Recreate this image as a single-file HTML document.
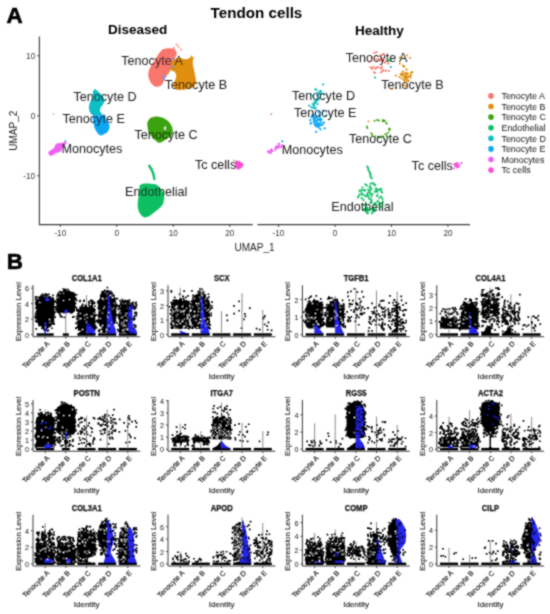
<!DOCTYPE html><html><head><meta charset="utf-8"><style>html,body{margin:0;padding:0;background:#fff;overflow:hidden;}svg{display:block;}text{font-family:'Liberation Sans', Arial, Helvetica, sans-serif;}</style></head><body>
<svg width="550" height="614" viewBox="0 0 550 614">
<rect width="550" height="614" fill="#fff"/>
<defs><filter id="soft" x="0" y="0" width="550" height="614" filterUnits="userSpaceOnUse"><feConvolveMatrix order="3" kernelMatrix="1 2 1 2 8 2 1 2 1" divisor="20" edgeMode="duplicate"/></filter></defs><g filter="url(#soft)">
<text x="6.5" y="22.9" font-size="22.4" font-weight="bold" fill="#000" text-anchor="start" stroke="#000" stroke-width="0.6">A</text>
<text x="210.6" y="18.4" font-size="15.2" font-weight="bold" fill="#000" text-anchor="start">Tendon cells</text>
<text x="108" y="34.4" font-size="13.5" font-weight="bold" fill="#000" text-anchor="start">Diseased</text>
<text x="355" y="35" font-size="13.5" font-weight="bold" fill="#000" text-anchor="start">Healthy</text>
<path d="M39.4 36.4V224.6H252.7" fill="none" stroke="#3a3a3a" stroke-width="1.1"/>
<path d="M257.5 224.6H470" fill="none" stroke="#3a3a3a" stroke-width="1.1"/>
<path d="M60.3 224.6v2.2" stroke="#3a3a3a" stroke-width="1"/>
<text x="60.3" y="236.2" font-size="8.2" font-weight="normal" fill="#3a3a3a" text-anchor="middle">-10</text>
<path d="M116.8 224.6v2.2" stroke="#3a3a3a" stroke-width="1"/>
<text x="116.8" y="236.2" font-size="8.2" font-weight="normal" fill="#3a3a3a" text-anchor="middle">0</text>
<path d="M173.3 224.6v2.2" stroke="#3a3a3a" stroke-width="1"/>
<text x="173.3" y="236.2" font-size="8.2" font-weight="normal" fill="#3a3a3a" text-anchor="middle">10</text>
<path d="M229.8 224.6v2.2" stroke="#3a3a3a" stroke-width="1"/>
<text x="229.8" y="236.2" font-size="8.2" font-weight="normal" fill="#3a3a3a" text-anchor="middle">20</text>
<path d="M278.5 224.6v2.2" stroke="#3a3a3a" stroke-width="1"/>
<text x="278.5" y="236.2" font-size="8.2" font-weight="normal" fill="#3a3a3a" text-anchor="middle">-10</text>
<path d="M335 224.6v2.2" stroke="#3a3a3a" stroke-width="1"/>
<text x="335" y="236.2" font-size="8.2" font-weight="normal" fill="#3a3a3a" text-anchor="middle">0</text>
<path d="M391.5 224.6v2.2" stroke="#3a3a3a" stroke-width="1"/>
<text x="391.5" y="236.2" font-size="8.2" font-weight="normal" fill="#3a3a3a" text-anchor="middle">10</text>
<path d="M448 224.6v2.2" stroke="#3a3a3a" stroke-width="1"/>
<text x="448" y="236.2" font-size="8.2" font-weight="normal" fill="#3a3a3a" text-anchor="middle">20</text>
<path d="M39.4 55.8h-2.2" stroke="#3a3a3a" stroke-width="1"/>
<text x="35.2" y="58.7" font-size="8.2" font-weight="normal" fill="#3a3a3a" text-anchor="end">10</text>
<path d="M39.4 115.8h-2.2" stroke="#3a3a3a" stroke-width="1"/>
<text x="35.2" y="118.7" font-size="8.2" font-weight="normal" fill="#3a3a3a" text-anchor="end">0</text>
<path d="M39.4 175.8h-2.2" stroke="#3a3a3a" stroke-width="1"/>
<text x="35.2" y="178.7" font-size="8.2" font-weight="normal" fill="#3a3a3a" text-anchor="end">-10</text>
<text x="254.5" y="250.6" font-size="10" font-weight="normal" fill="#222" text-anchor="middle">UMAP_1</text>
<text x="0" y="0" font-size="10" font-weight="normal" fill="#222" text-anchor="middle" transform="translate(17.4 130.7) rotate(-90)">UMAP_2</text>
<path d="M162 50 C163.2 49.1 164.7 48.9 166 48.6 C167.3 48.3 168.7 48.1 170 48.2 C171.3 48.3 172.9 48.5 174 49 C175.1 49.5 175.9 50.5 176.3 51.5 C176.7 52.5 176.9 53.6 176.5 55 C176.1 56.4 174.7 58.3 174 60 C173.3 61.7 173.2 63.2 172.5 65 C171.8 66.8 171 69.2 170 71 C169 72.8 167.5 74.3 166.5 76 C165.5 77.7 164.8 79.5 164 81 C163.2 82.5 162.5 84 161.5 85 C160.5 86 159.2 86.6 158 86.8 C156.8 87 155.2 86.8 154 86 C152.8 85.2 151.4 83.5 150.5 82 C149.6 80.5 148.8 78.7 148.5 77 C148.2 75.3 148.1 73.8 148.5 72 C148.9 70.2 149.9 68 151 66 C152.1 64 153.8 62 155 60 C156.2 58 157.3 55.7 158.5 54 C159.7 52.3 160.8 50.9 162 50Z" fill="#F8766D"/>
<path d="M175.6 44.5a0.9 0.9 0 1 0 1.8 0a0.9 0.9 0 1 0 -1.8 0M173.1 48a0.9 0.9 0 1 0 1.8 0a0.9 0.9 0 1 0 -1.8 0M180.1 49.5a0.9 0.9 0 1 0 1.8 0a0.9 0.9 0 1 0 -1.8 0M177.6 46.5a0.9 0.9 0 1 0 1.8 0a0.9 0.9 0 1 0 -1.8 0" fill="#F8766D"/>
<path d="M174 59.5 L178 58.5 L182 59 L186 60 L189 59 L191.5 57.5 L192.5 59 L192 63 L193 68 L194 73 L195 78 L195.5 82 L194 86 L190 88 L185 89 L179 89.5 L175 88.5 L174 84 L176 80 L177 75 L175 71 L172 69 L171 65 L172.5 62Z" fill="#E08E0B" stroke="#E08E0B" stroke-width="1.2" stroke-linejoin="round"/>
<path d="M170.6 69a0.9 0.9 0 1 0 1.8 0a0.9 0.9 0 1 0 -1.8 0M171.9 70.5a0.9 0.9 0 1 0 1.8 0a0.9 0.9 0 1 0 -1.8 0M192.1 58a0.9 0.9 0 1 0 1.8 0a0.9 0.9 0 1 0 -1.8 0M190.6 56.5a0.9 0.9 0 1 0 1.8 0a0.9 0.9 0 1 0 -1.8 0" fill="#E08E0B"/>
<path d="M172.1 59a0.9 0.9 0 1 0 1.8 0a0.9 0.9 0 1 0 -1.8 0M172.6 66.5a0.9 0.9 0 1 0 1.8 0a0.9 0.9 0 1 0 -1.8 0M162.6 75.5a0.9 0.9 0 1 0 1.8 0a0.9 0.9 0 1 0 -1.8 0M162.8 77.2a0.9 0.9 0 1 0 1.8 0a0.9 0.9 0 1 0 -1.8 0M163.1 79a0.9 0.9 0 1 0 1.8 0a0.9 0.9 0 1 0 -1.8 0" fill="#0AA6F5"/>
<path d="M167.2 73a0.8 0.8 0 1 0 1.6 0a0.8 0.8 0 1 0 -1.6 0M168.7 71.5a0.8 0.8 0 1 0 1.6 0a0.8 0.8 0 1 0 -1.6 0" fill="#E08E0B"/>
<path d="M170.2 69a0.8 0.8 0 1 0 1.6 0a0.8 0.8 0 1 0 -1.6 0" fill="#3BA30A"/>
<path d="M94.2 89.5 C94.8 89.1 95.9 89.7 96.7 90.2 C97.5 90.7 98.4 91.9 99.3 92.7 C100.2 93.5 101.5 94.2 102.3 95.3 C103.1 96.4 104 98 104.3 99.3 C104.5 100.6 104.3 102 103.8 103.3 C103.2 104.6 101.7 105.8 101 107 C100.3 108.2 99.8 109.3 99.9 110.5 C100 111.7 102.1 113.6 101.8 114.4 C101.5 115.2 99.4 115.4 98 115.6 C96.6 115.8 94.8 116 93.5 115.6 C92.2 115.2 91.1 114.1 90.4 113.1 C89.7 112 89.3 110.6 89.1 109.3 C88.9 108 88.9 106.8 89.1 105.5 C89.3 104.2 89.9 102.9 90.4 101.6 C90.9 100.3 91.9 99.3 92.3 97.8 C92.7 96.3 92.6 94.1 92.9 92.7 C93.2 91.3 93.6 89.9 94.2 89.5Z" fill="#11BEC4"/>
<path d="M93.5 115.2 C94.3 114.5 96.6 115.7 98 115.6 C99.4 115.5 100.7 114.4 101.8 114.4 C102.9 114.4 103.6 114.5 104.4 115.6 C105.2 116.6 106.1 119 106.9 120.7 C107.8 122.4 109.3 124.1 109.5 125.8 C109.7 127.5 109 129.5 108.2 130.9 C107.4 132.3 105.7 133.3 104.4 134.1 C103.1 134.8 101.7 135.6 100.5 135.4 C99.3 135.2 98.4 134 97.4 132.8 C96.5 131.6 95.5 130 94.8 128.4 C94.1 126.8 93.8 124.8 93.5 123.3 C93.2 121.8 92.9 120.8 92.9 119.5 C92.9 118.2 92.7 115.9 93.5 115.2Z" fill="#0AA6F5"/>
<path d="M151.8 117.3 C153.2 116.8 155.5 116.3 157.3 116.4 C159.1 116.5 161 117 162.7 117.7 C164.4 118.4 166.1 119.6 167.3 120.5 C168.5 121.4 169.2 122 170 123.2 C170.8 124.4 171.9 126.2 172.3 127.7 C172.8 129.2 172.9 130.9 172.7 132.3 C172.5 133.7 171.8 134.9 170.9 135.9 C170 136.9 168.7 137.7 167.3 138.6 C165.9 139.5 164.1 140.7 162.7 141.4 C161.3 142.1 160.3 142.8 159.1 142.7 C157.9 142.5 156.7 141.5 155.5 140.5 C154.3 139.5 153 138.2 151.8 136.8 C150.7 135.4 149.3 133.8 148.6 132.3 C147.9 130.8 147.9 129.2 147.7 127.7 C147.5 126.2 147.1 124.6 147.3 123.2 C147.5 121.8 148.3 120.5 149.1 119.5 C149.8 118.5 150.4 117.8 151.8 117.3Z" fill="#3BA30A"/>
<path d="M164.5 126.5 L166 126.8 L165.6 130 L164.2 129.6Z" fill="#fff"/>
<path d="M151.5 117.6a0.7 0.7 0 1 0 1.4 0a0.7 0.7 0 1 0 -1.4 0" fill="#F8766D"/>
<path d="M140.5 184.7 C141.6 183.9 144.1 183.6 146.2 183.5 C148.3 183.4 151.4 183.9 153.1 184.1 C154.8 184.3 155.2 183.8 156.5 184.7 C157.8 185.5 159.9 187.5 161.1 189.2 C162.3 190.9 163.4 193 163.9 194.9 C164.4 196.8 164.2 198.9 163.9 200.6 C163.6 202.3 163.2 203.7 162.2 205.2 C161.1 206.7 159.1 208.5 157.6 209.8 C156.1 211.1 154.6 212.1 153.1 213.2 C151.6 214.3 150 215.9 148.5 216.6 C147 217.3 145.3 217.6 144 217.2 C142.7 216.8 141.4 215.5 140.5 214.3 C139.6 213.1 138.8 211.5 138.3 209.8 C137.8 208.1 137.7 205.9 137.7 204 C137.7 202.1 138.1 200.2 138.3 198.3 C138.5 196.4 138.6 194.3 138.8 192.6 C139 190.9 139.1 189.4 139.4 188.1 C139.7 186.8 139.4 185.5 140.5 184.7Z" fill="#0DBF62"/>
<path d="M149.2 165.8Q153.6 171.5 154.3 179" fill="none" stroke="#0DBF62" stroke-width="2.4" stroke-linecap="round"/>
<path d="M235.3 160.9 C235.9 160.2 237.9 160.5 239.1 160.9 C240.3 161.3 241.7 162.4 242.4 163.1 C243.1 163.8 243.7 164.5 243.5 165.3 C243.3 166.1 242.1 167.3 241.3 168 C240.5 168.7 239.3 169.5 238.5 169.6 C237.7 169.7 236.9 169.2 236.4 168.5 C235.9 167.8 235.5 166.6 235.3 165.3 C235.1 164 234.7 161.6 235.3 160.9Z" fill="#FB4FD3"/>
<path d="M233 160.5a0.8 0.8 0 1 0 1.6 0a0.8 0.8 0 1 0 -1.6 0" fill="#0DBF62"/>
<path d="M48.3 152.3 C48.4 151.7 49 151.4 49.6 151 C50.2 150.6 50.8 150.2 51.6 149.7 C52.4 149.1 53.6 148.4 54.2 147.7 C54.8 146.9 54.8 145.9 55.2 145.2 C55.6 144.5 56 143.9 56.7 143.6 C57.4 143.2 58.4 143.2 59.3 143.1 C60.1 143 61 143.1 61.8 142.9 C62.6 142.7 63.3 142.4 63.9 142.1 C64.5 141.8 65 141.2 65.4 141.1 C65.8 141 66.2 141.3 66.4 141.6 C66.6 141.9 66.6 142.6 66.4 143.1 C66.2 143.6 65.7 144.2 65.4 144.7 C65.1 145.2 64.9 145.6 64.4 146.2 C63.9 146.8 62.9 147.3 62.3 148.2 C61.7 149 61.3 150.6 60.8 151.3 C60.3 152 60 152.1 59.3 152.3 C58.6 152.6 57.4 152.6 56.7 152.8 C56 153 55.8 153.2 55.2 153.6 C54.6 154 53.9 154.7 53.2 155.1 C52.5 155.5 51.8 155.9 51.1 155.9 C50.4 155.9 49.6 155.4 49.1 154.8 C48.6 154.2 48.2 152.9 48.3 152.3Z" fill="#EE60F2"/>
<path d="M64.2 147.7a0.7 0.7 0 1 0 1.4 0a0.7 0.7 0 1 0 -1.4 0" fill="#0DBF62"/>
<path d="M64.5 140.9a0.9 0.9 0 1 0 1.8 0a0.9 0.9 0 1 0 -1.8 0" fill="#11BEC4"/>
<path d="M52.6 114a0.8 0.8 0 1 0 1.6 0a0.8 0.8 0 1 0 -1.6 0" fill="#EE60F2"/>
<path d="M370.6 57.7a1.1 1.1 0 1 0 2.2 0a1.1 1.1 0 1 0 -2.2 0M375.4 52a1.1 1.1 0 1 0 2.2 0a1.1 1.1 0 1 0 -2.2 0M377.6 59.7a1.1 1.1 0 1 0 2.2 0a1.1 1.1 0 1 0 -2.2 0M371 68.7a1.1 1.1 0 1 0 2.2 0a1.1 1.1 0 1 0 -2.2 0M369.5 67.3a1.1 1.1 0 1 0 2.2 0a1.1 1.1 0 1 0 -2.2 0M382.3 71a1.1 1.1 0 1 0 2.2 0a1.1 1.1 0 1 0 -2.2 0M368 61.7a1.1 1.1 0 1 0 2.2 0a1.1 1.1 0 1 0 -2.2 0M387.8 71a1.1 1.1 0 1 0 2.2 0a1.1 1.1 0 1 0 -2.2 0M378.8 59.8a1.1 1.1 0 1 0 2.2 0a1.1 1.1 0 1 0 -2.2 0M382.3 54a1.1 1.1 0 1 0 2.2 0a1.1 1.1 0 1 0 -2.2 0M380.1 72.2a1.1 1.1 0 1 0 2.2 0a1.1 1.1 0 1 0 -2.2 0M374.3 68.7a1.1 1.1 0 1 0 2.2 0a1.1 1.1 0 1 0 -2.2 0M379.5 58.5a1.1 1.1 0 1 0 2.2 0a1.1 1.1 0 1 0 -2.2 0M373.3 53a1.1 1.1 0 1 0 2.2 0a1.1 1.1 0 1 0 -2.2 0M381.1 59.2a1.1 1.1 0 1 0 2.2 0a1.1 1.1 0 1 0 -2.2 0M376.8 67.1a1.1 1.1 0 1 0 2.2 0a1.1 1.1 0 1 0 -2.2 0M375.1 59.3a1.1 1.1 0 1 0 2.2 0a1.1 1.1 0 1 0 -2.2 0M387.2 63.6a1.1 1.1 0 1 0 2.2 0a1.1 1.1 0 1 0 -2.2 0M375.3 67.8a1.1 1.1 0 1 0 2.2 0a1.1 1.1 0 1 0 -2.2 0M384.9 70.7a1.1 1.1 0 1 0 2.2 0a1.1 1.1 0 1 0 -2.2 0M380 55.6a1.1 1.1 0 1 0 2.2 0a1.1 1.1 0 1 0 -2.2 0M381.2 69.5a1.1 1.1 0 1 0 2.2 0a1.1 1.1 0 1 0 -2.2 0M372.4 67.1a1.1 1.1 0 1 0 2.2 0a1.1 1.1 0 1 0 -2.2 0M373 72.3a1.1 1.1 0 1 0 2.2 0a1.1 1.1 0 1 0 -2.2 0M384.8 61.3a1.1 1.1 0 1 0 2.2 0a1.1 1.1 0 1 0 -2.2 0M383 54.3a1.1 1.1 0 1 0 2.2 0a1.1 1.1 0 1 0 -2.2 0M383.8 62.6a1.1 1.1 0 1 0 2.2 0a1.1 1.1 0 1 0 -2.2 0M379.7 61.1a1.1 1.1 0 1 0 2.2 0a1.1 1.1 0 1 0 -2.2 0M380.8 66.8a1.1 1.1 0 1 0 2.2 0a1.1 1.1 0 1 0 -2.2 0M373.9 72.8a1.1 1.1 0 1 0 2.2 0a1.1 1.1 0 1 0 -2.2 0M381.6 54.4a1.1 1.1 0 1 0 2.2 0a1.1 1.1 0 1 0 -2.2 0M379.3 68a1.1 1.1 0 1 0 2.2 0a1.1 1.1 0 1 0 -2.2 0" fill="#F8766D"/>
<path d="M406.7 73.7a1.1 1.1 0 1 0 2.2 0a1.1 1.1 0 1 0 -2.2 0M405.2 76.8a1.1 1.1 0 1 0 2.2 0a1.1 1.1 0 1 0 -2.2 0M409.8 75.2a1.1 1.1 0 1 0 2.2 0a1.1 1.1 0 1 0 -2.2 0M406.4 76.9a1.1 1.1 0 1 0 2.2 0a1.1 1.1 0 1 0 -2.2 0M403.1 85a1.1 1.1 0 1 0 2.2 0a1.1 1.1 0 1 0 -2.2 0M407.6 76a1.1 1.1 0 1 0 2.2 0a1.1 1.1 0 1 0 -2.2 0M394.9 75.5a1.1 1.1 0 1 0 2.2 0a1.1 1.1 0 1 0 -2.2 0M398.7 63.6a1.1 1.1 0 1 0 2.2 0a1.1 1.1 0 1 0 -2.2 0M406.1 80.8a1.1 1.1 0 1 0 2.2 0a1.1 1.1 0 1 0 -2.2 0M405 86.2a1.1 1.1 0 1 0 2.2 0a1.1 1.1 0 1 0 -2.2 0M403.9 73.1a1.1 1.1 0 1 0 2.2 0a1.1 1.1 0 1 0 -2.2 0M406.2 77.8a1.1 1.1 0 1 0 2.2 0a1.1 1.1 0 1 0 -2.2 0M407.5 80.9a1.1 1.1 0 1 0 2.2 0a1.1 1.1 0 1 0 -2.2 0M399.5 74.1a1.1 1.1 0 1 0 2.2 0a1.1 1.1 0 1 0 -2.2 0M406 73.1a1.1 1.1 0 1 0 2.2 0a1.1 1.1 0 1 0 -2.2 0M403.8 81.8a1.1 1.1 0 1 0 2.2 0a1.1 1.1 0 1 0 -2.2 0M405.5 69.7a1.1 1.1 0 1 0 2.2 0a1.1 1.1 0 1 0 -2.2 0M398.4 77a1.1 1.1 0 1 0 2.2 0a1.1 1.1 0 1 0 -2.2 0M401.4 73.7a1.1 1.1 0 1 0 2.2 0a1.1 1.1 0 1 0 -2.2 0M403.2 66.7a1.1 1.1 0 1 0 2.2 0a1.1 1.1 0 1 0 -2.2 0M401.9 65.7a1.1 1.1 0 1 0 2.2 0a1.1 1.1 0 1 0 -2.2 0M402.9 79.9a1.1 1.1 0 1 0 2.2 0a1.1 1.1 0 1 0 -2.2 0M409.3 77.4a1.1 1.1 0 1 0 2.2 0a1.1 1.1 0 1 0 -2.2 0M404.4 75.1a1.1 1.1 0 1 0 2.2 0a1.1 1.1 0 1 0 -2.2 0M405.5 77.8a1.1 1.1 0 1 0 2.2 0a1.1 1.1 0 1 0 -2.2 0M403.4 76.8a1.1 1.1 0 1 0 2.2 0a1.1 1.1 0 1 0 -2.2 0M404.6 73.9a1.1 1.1 0 1 0 2.2 0a1.1 1.1 0 1 0 -2.2 0M407.2 76.5a1.1 1.1 0 1 0 2.2 0a1.1 1.1 0 1 0 -2.2 0M409.9 72.8a1.1 1.1 0 1 0 2.2 0a1.1 1.1 0 1 0 -2.2 0M400.3 73.8a1.1 1.1 0 1 0 2.2 0a1.1 1.1 0 1 0 -2.2 0M406.3 80a1.1 1.1 0 1 0 2.2 0a1.1 1.1 0 1 0 -2.2 0M403.3 77.7a1.1 1.1 0 1 0 2.2 0a1.1 1.1 0 1 0 -2.2 0M398.8 57.6a1.1 1.1 0 1 0 2.2 0a1.1 1.1 0 1 0 -2.2 0M400.5 78.5a1.1 1.1 0 1 0 2.2 0a1.1 1.1 0 1 0 -2.2 0M404.9 75.5a1.1 1.1 0 1 0 2.2 0a1.1 1.1 0 1 0 -2.2 0M404.1 79.4a1.1 1.1 0 1 0 2.2 0a1.1 1.1 0 1 0 -2.2 0M401.8 71.6a1.1 1.1 0 1 0 2.2 0a1.1 1.1 0 1 0 -2.2 0M411.2 72.1a1.1 1.1 0 1 0 2.2 0a1.1 1.1 0 1 0 -2.2 0M400.9 75.6a1.1 1.1 0 1 0 2.2 0a1.1 1.1 0 1 0 -2.2 0M402 75.1a1.1 1.1 0 1 0 2.2 0a1.1 1.1 0 1 0 -2.2 0" fill="#E08E0B"/>
<path d="M408.9 58a1.1 1.1 0 1 0 2.2 0a1.1 1.1 0 1 0 -2.2 0M405.9 55.5a1.1 1.1 0 1 0 2.2 0a1.1 1.1 0 1 0 -2.2 0M394.9 88a1.1 1.1 0 1 0 2.2 0a1.1 1.1 0 1 0 -2.2 0M390.9 89a1.1 1.1 0 1 0 2.2 0a1.1 1.1 0 1 0 -2.2 0" fill="#E08E0B"/>
<path d="M387.9 60a1.1 1.1 0 1 0 2.2 0a1.1 1.1 0 1 0 -2.2 0M389.9 61a1.1 1.1 0 1 0 2.2 0a1.1 1.1 0 1 0 -2.2 0" fill="#0DBF62"/>
<path d="M389.7 67a1.1 1.1 0 1 0 2.2 0a1.1 1.1 0 1 0 -2.2 0" fill="#0AA6F5"/>
<path d="M373.9 77.5a1.1 1.1 0 1 0 2.2 0a1.1 1.1 0 1 0 -2.2 0" fill="#0DBF62"/>
<path d="M309.8 94.4a1.1 1.1 0 1 0 2.2 0a1.1 1.1 0 1 0 -2.2 0M319.2 93a1.1 1.1 0 1 0 2.2 0a1.1 1.1 0 1 0 -2.2 0M313.1 104.4a1.1 1.1 0 1 0 2.2 0a1.1 1.1 0 1 0 -2.2 0M314.1 108.1a1.1 1.1 0 1 0 2.2 0a1.1 1.1 0 1 0 -2.2 0M311.8 95.8a1.1 1.1 0 1 0 2.2 0a1.1 1.1 0 1 0 -2.2 0M313 102.3a1.1 1.1 0 1 0 2.2 0a1.1 1.1 0 1 0 -2.2 0M322.1 84.4a1.1 1.1 0 1 0 2.2 0a1.1 1.1 0 1 0 -2.2 0M319.9 91.4a1.1 1.1 0 1 0 2.2 0a1.1 1.1 0 1 0 -2.2 0M319 90.9a1.1 1.1 0 1 0 2.2 0a1.1 1.1 0 1 0 -2.2 0M313.2 106a1.1 1.1 0 1 0 2.2 0a1.1 1.1 0 1 0 -2.2 0M314.2 100a1.1 1.1 0 1 0 2.2 0a1.1 1.1 0 1 0 -2.2 0M316.4 100.4a1.1 1.1 0 1 0 2.2 0a1.1 1.1 0 1 0 -2.2 0M312 107.7a1.1 1.1 0 1 0 2.2 0a1.1 1.1 0 1 0 -2.2 0M317.7 98a1.1 1.1 0 1 0 2.2 0a1.1 1.1 0 1 0 -2.2 0M323 94.3a1.1 1.1 0 1 0 2.2 0a1.1 1.1 0 1 0 -2.2 0M317.4 98.1a1.1 1.1 0 1 0 2.2 0a1.1 1.1 0 1 0 -2.2 0M313.9 103.1a1.1 1.1 0 1 0 2.2 0a1.1 1.1 0 1 0 -2.2 0M314.3 102.8a1.1 1.1 0 1 0 2.2 0a1.1 1.1 0 1 0 -2.2 0M314.2 89.3a1.1 1.1 0 1 0 2.2 0a1.1 1.1 0 1 0 -2.2 0M318 93.9a1.1 1.1 0 1 0 2.2 0a1.1 1.1 0 1 0 -2.2 0M315.3 89.9a1.1 1.1 0 1 0 2.2 0a1.1 1.1 0 1 0 -2.2 0M316.4 104.1a1.1 1.1 0 1 0 2.2 0a1.1 1.1 0 1 0 -2.2 0M319.8 94.6a1.1 1.1 0 1 0 2.2 0a1.1 1.1 0 1 0 -2.2 0M316.9 92.5a1.1 1.1 0 1 0 2.2 0a1.1 1.1 0 1 0 -2.2 0M313.8 108.6a1.1 1.1 0 1 0 2.2 0a1.1 1.1 0 1 0 -2.2 0M310.2 107.3a1.1 1.1 0 1 0 2.2 0a1.1 1.1 0 1 0 -2.2 0M317.4 98.7a1.1 1.1 0 1 0 2.2 0a1.1 1.1 0 1 0 -2.2 0M308.1 105.7a1.1 1.1 0 1 0 2.2 0a1.1 1.1 0 1 0 -2.2 0M315.8 95.5a1.1 1.1 0 1 0 2.2 0a1.1 1.1 0 1 0 -2.2 0M315.1 101.6a1.1 1.1 0 1 0 2.2 0a1.1 1.1 0 1 0 -2.2 0M320 94.2a1.1 1.1 0 1 0 2.2 0a1.1 1.1 0 1 0 -2.2 0M314.8 108.3a1.1 1.1 0 1 0 2.2 0a1.1 1.1 0 1 0 -2.2 0M318.4 99a1.1 1.1 0 1 0 2.2 0a1.1 1.1 0 1 0 -2.2 0M311.5 104.3a1.1 1.1 0 1 0 2.2 0a1.1 1.1 0 1 0 -2.2 0M314.9 99.8a1.1 1.1 0 1 0 2.2 0a1.1 1.1 0 1 0 -2.2 0M318.5 98.5a1.1 1.1 0 1 0 2.2 0a1.1 1.1 0 1 0 -2.2 0" fill="#11BEC4"/>
<path d="M310.4 117.2a1.1 1.1 0 1 0 2.2 0a1.1 1.1 0 1 0 -2.2 0M310.1 122.8a1.1 1.1 0 1 0 2.2 0a1.1 1.1 0 1 0 -2.2 0M318.7 118.7a1.1 1.1 0 1 0 2.2 0a1.1 1.1 0 1 0 -2.2 0M315.8 124.6a1.1 1.1 0 1 0 2.2 0a1.1 1.1 0 1 0 -2.2 0M315.4 126.8a1.1 1.1 0 1 0 2.2 0a1.1 1.1 0 1 0 -2.2 0M315.3 125.4a1.1 1.1 0 1 0 2.2 0a1.1 1.1 0 1 0 -2.2 0M319.3 129.3a1.1 1.1 0 1 0 2.2 0a1.1 1.1 0 1 0 -2.2 0M313.7 124.1a1.1 1.1 0 1 0 2.2 0a1.1 1.1 0 1 0 -2.2 0M312.6 114.6a1.1 1.1 0 1 0 2.2 0a1.1 1.1 0 1 0 -2.2 0M309.5 123.7a1.1 1.1 0 1 0 2.2 0a1.1 1.1 0 1 0 -2.2 0M313.2 119.8a1.1 1.1 0 1 0 2.2 0a1.1 1.1 0 1 0 -2.2 0M316.4 120.7a1.1 1.1 0 1 0 2.2 0a1.1 1.1 0 1 0 -2.2 0M314.8 121.4a1.1 1.1 0 1 0 2.2 0a1.1 1.1 0 1 0 -2.2 0M322.3 122.9a1.1 1.1 0 1 0 2.2 0a1.1 1.1 0 1 0 -2.2 0M317.2 125.8a1.1 1.1 0 1 0 2.2 0a1.1 1.1 0 1 0 -2.2 0M318 115.4a1.1 1.1 0 1 0 2.2 0a1.1 1.1 0 1 0 -2.2 0M313.8 125.1a1.1 1.1 0 1 0 2.2 0a1.1 1.1 0 1 0 -2.2 0M312.7 116.9a1.1 1.1 0 1 0 2.2 0a1.1 1.1 0 1 0 -2.2 0M318.9 125.4a1.1 1.1 0 1 0 2.2 0a1.1 1.1 0 1 0 -2.2 0M315.9 124.5a1.1 1.1 0 1 0 2.2 0a1.1 1.1 0 1 0 -2.2 0M319 116.1a1.1 1.1 0 1 0 2.2 0a1.1 1.1 0 1 0 -2.2 0M313 116.8a1.1 1.1 0 1 0 2.2 0a1.1 1.1 0 1 0 -2.2 0M320.5 119.4a1.1 1.1 0 1 0 2.2 0a1.1 1.1 0 1 0 -2.2 0M315.2 116.8a1.1 1.1 0 1 0 2.2 0a1.1 1.1 0 1 0 -2.2 0M312.4 119a1.1 1.1 0 1 0 2.2 0a1.1 1.1 0 1 0 -2.2 0M312.8 121.4a1.1 1.1 0 1 0 2.2 0a1.1 1.1 0 1 0 -2.2 0M309.2 120.2a1.1 1.1 0 1 0 2.2 0a1.1 1.1 0 1 0 -2.2 0M317.5 112a1.1 1.1 0 1 0 2.2 0a1.1 1.1 0 1 0 -2.2 0M319.5 120.5a1.1 1.1 0 1 0 2.2 0a1.1 1.1 0 1 0 -2.2 0M311.2 115.1a1.1 1.1 0 1 0 2.2 0a1.1 1.1 0 1 0 -2.2 0M318.4 119.3a1.1 1.1 0 1 0 2.2 0a1.1 1.1 0 1 0 -2.2 0M318.3 125a1.1 1.1 0 1 0 2.2 0a1.1 1.1 0 1 0 -2.2 0M318.5 123a1.1 1.1 0 1 0 2.2 0a1.1 1.1 0 1 0 -2.2 0M320.1 125.1a1.1 1.1 0 1 0 2.2 0a1.1 1.1 0 1 0 -2.2 0M321.1 112.5a1.1 1.1 0 1 0 2.2 0a1.1 1.1 0 1 0 -2.2 0M317.9 127.5a1.1 1.1 0 1 0 2.2 0a1.1 1.1 0 1 0 -2.2 0M316.6 118.7a1.1 1.1 0 1 0 2.2 0a1.1 1.1 0 1 0 -2.2 0M325.2 115.3a1.1 1.1 0 1 0 2.2 0a1.1 1.1 0 1 0 -2.2 0M315.1 131.9a1.1 1.1 0 1 0 2.2 0a1.1 1.1 0 1 0 -2.2 0M313.1 123.1a1.1 1.1 0 1 0 2.2 0a1.1 1.1 0 1 0 -2.2 0M322.8 122.3a1.1 1.1 0 1 0 2.2 0a1.1 1.1 0 1 0 -2.2 0M317.4 125.4a1.1 1.1 0 1 0 2.2 0a1.1 1.1 0 1 0 -2.2 0M314.2 119.8a1.1 1.1 0 1 0 2.2 0a1.1 1.1 0 1 0 -2.2 0M316.7 124.8a1.1 1.1 0 1 0 2.2 0a1.1 1.1 0 1 0 -2.2 0M317.1 120.1a1.1 1.1 0 1 0 2.2 0a1.1 1.1 0 1 0 -2.2 0M314.3 118.5a1.1 1.1 0 1 0 2.2 0a1.1 1.1 0 1 0 -2.2 0M319.5 122.3a1.1 1.1 0 1 0 2.2 0a1.1 1.1 0 1 0 -2.2 0M315.4 116.6a1.1 1.1 0 1 0 2.2 0a1.1 1.1 0 1 0 -2.2 0M323.5 128.4a1.1 1.1 0 1 0 2.2 0a1.1 1.1 0 1 0 -2.2 0M322.3 110.5a1.1 1.1 0 1 0 2.2 0a1.1 1.1 0 1 0 -2.2 0M318.2 123.7a1.1 1.1 0 1 0 2.2 0a1.1 1.1 0 1 0 -2.2 0M321.5 124.4a1.1 1.1 0 1 0 2.2 0a1.1 1.1 0 1 0 -2.2 0M316 123.2a1.1 1.1 0 1 0 2.2 0a1.1 1.1 0 1 0 -2.2 0M309.6 123.6a1.1 1.1 0 1 0 2.2 0a1.1 1.1 0 1 0 -2.2 0M318.8 118.3a1.1 1.1 0 1 0 2.2 0a1.1 1.1 0 1 0 -2.2 0" fill="#0AA6F5"/>
<path d="M269.1 151a1.1 1.1 0 1 0 2.2 0a1.1 1.1 0 1 0 -2.2 0M276 147.6a1.1 1.1 0 1 0 2.2 0a1.1 1.1 0 1 0 -2.2 0M275.2 147.7a1.1 1.1 0 1 0 2.2 0a1.1 1.1 0 1 0 -2.2 0M277.8 143.7a1.1 1.1 0 1 0 2.2 0a1.1 1.1 0 1 0 -2.2 0M267.3 152a1.1 1.1 0 1 0 2.2 0a1.1 1.1 0 1 0 -2.2 0M277.1 146.4a1.1 1.1 0 1 0 2.2 0a1.1 1.1 0 1 0 -2.2 0M274.4 148.1a1.1 1.1 0 1 0 2.2 0a1.1 1.1 0 1 0 -2.2 0M267 151.8a1.1 1.1 0 1 0 2.2 0a1.1 1.1 0 1 0 -2.2 0M267.6 152.5a1.1 1.1 0 1 0 2.2 0a1.1 1.1 0 1 0 -2.2 0M268.4 152.4a1.1 1.1 0 1 0 2.2 0a1.1 1.1 0 1 0 -2.2 0M276.2 148.4a1.1 1.1 0 1 0 2.2 0a1.1 1.1 0 1 0 -2.2 0M268.3 151.8a1.1 1.1 0 1 0 2.2 0a1.1 1.1 0 1 0 -2.2 0M271 151.2a1.1 1.1 0 1 0 2.2 0a1.1 1.1 0 1 0 -2.2 0M274 150a1.1 1.1 0 1 0 2.2 0a1.1 1.1 0 1 0 -2.2 0M280.4 147a1.1 1.1 0 1 0 2.2 0a1.1 1.1 0 1 0 -2.2 0M270.1 149.6a1.1 1.1 0 1 0 2.2 0a1.1 1.1 0 1 0 -2.2 0M269.9 149.8a1.1 1.1 0 1 0 2.2 0a1.1 1.1 0 1 0 -2.2 0M278.6 147.2a1.1 1.1 0 1 0 2.2 0a1.1 1.1 0 1 0 -2.2 0M275.1 146.3a1.1 1.1 0 1 0 2.2 0a1.1 1.1 0 1 0 -2.2 0M271.3 150.4a1.1 1.1 0 1 0 2.2 0a1.1 1.1 0 1 0 -2.2 0M266.8 151.4a1.1 1.1 0 1 0 2.2 0a1.1 1.1 0 1 0 -2.2 0M269.8 153a1.1 1.1 0 1 0 2.2 0a1.1 1.1 0 1 0 -2.2 0M277.7 145.1a1.1 1.1 0 1 0 2.2 0a1.1 1.1 0 1 0 -2.2 0M269 152.5a1.1 1.1 0 1 0 2.2 0a1.1 1.1 0 1 0 -2.2 0M267.4 152.1a1.1 1.1 0 1 0 2.2 0a1.1 1.1 0 1 0 -2.2 0M280.6 145a1.1 1.1 0 1 0 2.2 0a1.1 1.1 0 1 0 -2.2 0" fill="#EE60F2"/>
<path d="M281.2 141.3a1.1 1.1 0 1 0 2.2 0a1.1 1.1 0 1 0 -2.2 0" fill="#0AA6F5"/>
<path d="M270.4 114.2a0.9 0.9 0 1 0 1.8 0a0.9 0.9 0 1 0 -1.8 0" fill="#EE60F2"/>
<path d="M378.4 137.4a1 1 0 1 0 2 0a1 1 0 1 0 -2 0M371.3 134.9a1 1 0 1 0 2 0a1 1 0 1 0 -2 0M388.3 128.4a1 1 0 1 0 2 0a1 1 0 1 0 -2 0M366.3 128.1a1 1 0 1 0 2 0a1 1 0 1 0 -2 0M381.3 136.3a1 1 0 1 0 2 0a1 1 0 1 0 -2 0M377 136.8a1 1 0 1 0 2 0a1 1 0 1 0 -2 0M387.1 132.8a1 1 0 1 0 2 0a1 1 0 1 0 -2 0M389 129.5a1 1 0 1 0 2 0a1 1 0 1 0 -2 0M374.3 136.4a1 1 0 1 0 2 0a1 1 0 1 0 -2 0M366 126.6a1 1 0 1 0 2 0a1 1 0 1 0 -2 0M378 120.4a1 1 0 1 0 2 0a1 1 0 1 0 -2 0M385.1 123.1a1 1 0 1 0 2 0a1 1 0 1 0 -2 0M370.4 133.2a1 1 0 1 0 2 0a1 1 0 1 0 -2 0M385.8 136.6a1 1 0 1 0 2 0a1 1 0 1 0 -2 0M376.2 120a1 1 0 1 0 2 0a1 1 0 1 0 -2 0M383.5 121.1a1 1 0 1 0 2 0a1 1 0 1 0 -2 0M385.8 123.4a1 1 0 1 0 2 0a1 1 0 1 0 -2 0M381.8 121.2a1 1 0 1 0 2 0a1 1 0 1 0 -2 0M384.4 134.2a1 1 0 1 0 2 0a1 1 0 1 0 -2 0M383.5 121.1a1 1 0 1 0 2 0a1 1 0 1 0 -2 0M381.9 119.9a1 1 0 1 0 2 0a1 1 0 1 0 -2 0M385.8 123.5a1 1 0 1 0 2 0a1 1 0 1 0 -2 0M373.6 120.7a1 1 0 1 0 2 0a1 1 0 1 0 -2 0M388.2 129.9a1 1 0 1 0 2 0a1 1 0 1 0 -2 0M385.2 134.5a1 1 0 1 0 2 0a1 1 0 1 0 -2 0M383.8 120.8a1 1 0 1 0 2 0a1 1 0 1 0 -2 0" fill="#3BA30A"/>
<path d="M367.6 121.5a0.9 0.9 0 1 0 1.8 0a0.9 0.9 0 1 0 -1.8 0" fill="#E08E0B"/>
<path d="M366.2 166.5a1.1 1.1 0 1 0 2.2 0a1.1 1.1 0 1 0 -2.2 0M366.9 167.8a1.1 1.1 0 1 0 2.2 0a1.1 1.1 0 1 0 -2.2 0M367.2 169.2a1.1 1.1 0 1 0 2.2 0a1.1 1.1 0 1 0 -2.2 0M367.6 170.5a1.1 1.1 0 1 0 2.2 0a1.1 1.1 0 1 0 -2.2 0M368.4 171.8a1.1 1.1 0 1 0 2.2 0a1.1 1.1 0 1 0 -2.2 0M368.9 173.2a1.1 1.1 0 1 0 2.2 0a1.1 1.1 0 1 0 -2.2 0M369.6 174.5a1.1 1.1 0 1 0 2.2 0a1.1 1.1 0 1 0 -2.2 0M369.2 175.8a1.1 1.1 0 1 0 2.2 0a1.1 1.1 0 1 0 -2.2 0M369.8 177.2a1.1 1.1 0 1 0 2.2 0a1.1 1.1 0 1 0 -2.2 0M370.7 178.5a1.1 1.1 0 1 0 2.2 0a1.1 1.1 0 1 0 -2.2 0" fill="#0DBF62"/>
<path d="M374 184.9a1.1 1.1 0 1 0 2.2 0a1.1 1.1 0 1 0 -2.2 0M376.1 190.3a1.1 1.1 0 1 0 2.2 0a1.1 1.1 0 1 0 -2.2 0M358.8 190.7a1.1 1.1 0 1 0 2.2 0a1.1 1.1 0 1 0 -2.2 0M375.9 189a1.1 1.1 0 1 0 2.2 0a1.1 1.1 0 1 0 -2.2 0M369.7 194.1a1.1 1.1 0 1 0 2.2 0a1.1 1.1 0 1 0 -2.2 0M369.4 202.8a1.1 1.1 0 1 0 2.2 0a1.1 1.1 0 1 0 -2.2 0M376.8 200.9a1.1 1.1 0 1 0 2.2 0a1.1 1.1 0 1 0 -2.2 0M373.6 185.2a1.1 1.1 0 1 0 2.2 0a1.1 1.1 0 1 0 -2.2 0M360.7 190.4a1.1 1.1 0 1 0 2.2 0a1.1 1.1 0 1 0 -2.2 0M376.2 191.8a1.1 1.1 0 1 0 2.2 0a1.1 1.1 0 1 0 -2.2 0M371.7 183.4a1.1 1.1 0 1 0 2.2 0a1.1 1.1 0 1 0 -2.2 0M358.5 190.8a1.1 1.1 0 1 0 2.2 0a1.1 1.1 0 1 0 -2.2 0M374.4 203.1a1.1 1.1 0 1 0 2.2 0a1.1 1.1 0 1 0 -2.2 0M374.5 191.4a1.1 1.1 0 1 0 2.2 0a1.1 1.1 0 1 0 -2.2 0M370.3 196.5a1.1 1.1 0 1 0 2.2 0a1.1 1.1 0 1 0 -2.2 0M369 186.4a1.1 1.1 0 1 0 2.2 0a1.1 1.1 0 1 0 -2.2 0M380.1 188.8a1.1 1.1 0 1 0 2.2 0a1.1 1.1 0 1 0 -2.2 0M357.4 196.3a1.1 1.1 0 1 0 2.2 0a1.1 1.1 0 1 0 -2.2 0M368.6 190.8a1.1 1.1 0 1 0 2.2 0a1.1 1.1 0 1 0 -2.2 0M362.4 199.9a1.1 1.1 0 1 0 2.2 0a1.1 1.1 0 1 0 -2.2 0M360.6 198.2a1.1 1.1 0 1 0 2.2 0a1.1 1.1 0 1 0 -2.2 0M378.2 197.8a1.1 1.1 0 1 0 2.2 0a1.1 1.1 0 1 0 -2.2 0M380 203.4a1.1 1.1 0 1 0 2.2 0a1.1 1.1 0 1 0 -2.2 0M362.9 209a1.1 1.1 0 1 0 2.2 0a1.1 1.1 0 1 0 -2.2 0M369.5 183.7a1.1 1.1 0 1 0 2.2 0a1.1 1.1 0 1 0 -2.2 0M357 197.3a1.1 1.1 0 1 0 2.2 0a1.1 1.1 0 1 0 -2.2 0M368.6 191.8a1.1 1.1 0 1 0 2.2 0a1.1 1.1 0 1 0 -2.2 0M360.6 193a1.1 1.1 0 1 0 2.2 0a1.1 1.1 0 1 0 -2.2 0M365.1 207.4a1.1 1.1 0 1 0 2.2 0a1.1 1.1 0 1 0 -2.2 0M381 203.7a1.1 1.1 0 1 0 2.2 0a1.1 1.1 0 1 0 -2.2 0M380.3 191.4a1.1 1.1 0 1 0 2.2 0a1.1 1.1 0 1 0 -2.2 0M366.6 194.4a1.1 1.1 0 1 0 2.2 0a1.1 1.1 0 1 0 -2.2 0M366.3 195.4a1.1 1.1 0 1 0 2.2 0a1.1 1.1 0 1 0 -2.2 0M364.3 210.1a1.1 1.1 0 1 0 2.2 0a1.1 1.1 0 1 0 -2.2 0M363.4 190.7a1.1 1.1 0 1 0 2.2 0a1.1 1.1 0 1 0 -2.2 0M370.2 188.5a1.1 1.1 0 1 0 2.2 0a1.1 1.1 0 1 0 -2.2 0M366.6 210.7a1.1 1.1 0 1 0 2.2 0a1.1 1.1 0 1 0 -2.2 0M379.9 206.5a1.1 1.1 0 1 0 2.2 0a1.1 1.1 0 1 0 -2.2 0M373.3 209.5a1.1 1.1 0 1 0 2.2 0a1.1 1.1 0 1 0 -2.2 0M381.4 198.9a1.1 1.1 0 1 0 2.2 0a1.1 1.1 0 1 0 -2.2 0M375.9 196.1a1.1 1.1 0 1 0 2.2 0a1.1 1.1 0 1 0 -2.2 0M376.5 201.7a1.1 1.1 0 1 0 2.2 0a1.1 1.1 0 1 0 -2.2 0M364.3 184.4a1.1 1.1 0 1 0 2.2 0a1.1 1.1 0 1 0 -2.2 0M369.2 193a1.1 1.1 0 1 0 2.2 0a1.1 1.1 0 1 0 -2.2 0M364.6 204.4a1.1 1.1 0 1 0 2.2 0a1.1 1.1 0 1 0 -2.2 0M374 191.7a1.1 1.1 0 1 0 2.2 0a1.1 1.1 0 1 0 -2.2 0M371.4 194.4a1.1 1.1 0 1 0 2.2 0a1.1 1.1 0 1 0 -2.2 0M361.3 187.7a1.1 1.1 0 1 0 2.2 0a1.1 1.1 0 1 0 -2.2 0M369.8 189.4a1.1 1.1 0 1 0 2.2 0a1.1 1.1 0 1 0 -2.2 0M368.6 187a1.1 1.1 0 1 0 2.2 0a1.1 1.1 0 1 0 -2.2 0M365.8 185.6a1.1 1.1 0 1 0 2.2 0a1.1 1.1 0 1 0 -2.2 0M363.1 190.5a1.1 1.1 0 1 0 2.2 0a1.1 1.1 0 1 0 -2.2 0M371.7 208.7a1.1 1.1 0 1 0 2.2 0a1.1 1.1 0 1 0 -2.2 0M376.4 195a1.1 1.1 0 1 0 2.2 0a1.1 1.1 0 1 0 -2.2 0M367.7 198.2a1.1 1.1 0 1 0 2.2 0a1.1 1.1 0 1 0 -2.2 0M366.7 192.8a1.1 1.1 0 1 0 2.2 0a1.1 1.1 0 1 0 -2.2 0M358.5 191a1.1 1.1 0 1 0 2.2 0a1.1 1.1 0 1 0 -2.2 0M370 201.3a1.1 1.1 0 1 0 2.2 0a1.1 1.1 0 1 0 -2.2 0M379.3 189.3a1.1 1.1 0 1 0 2.2 0a1.1 1.1 0 1 0 -2.2 0M363.9 190.2a1.1 1.1 0 1 0 2.2 0a1.1 1.1 0 1 0 -2.2 0M367.3 195.9a1.1 1.1 0 1 0 2.2 0a1.1 1.1 0 1 0 -2.2 0M380.2 196.7a1.1 1.1 0 1 0 2.2 0a1.1 1.1 0 1 0 -2.2 0M367.1 209.9a1.1 1.1 0 1 0 2.2 0a1.1 1.1 0 1 0 -2.2 0M378.4 207.8a1.1 1.1 0 1 0 2.2 0a1.1 1.1 0 1 0 -2.2 0M370.5 202.8a1.1 1.1 0 1 0 2.2 0a1.1 1.1 0 1 0 -2.2 0M381.4 203.9a1.1 1.1 0 1 0 2.2 0a1.1 1.1 0 1 0 -2.2 0M373.7 205.2a1.1 1.1 0 1 0 2.2 0a1.1 1.1 0 1 0 -2.2 0M368.8 199a1.1 1.1 0 1 0 2.2 0a1.1 1.1 0 1 0 -2.2 0M362.9 209.7a1.1 1.1 0 1 0 2.2 0a1.1 1.1 0 1 0 -2.2 0M373.7 191.8a1.1 1.1 0 1 0 2.2 0a1.1 1.1 0 1 0 -2.2 0M360.2 190.3a1.1 1.1 0 1 0 2.2 0a1.1 1.1 0 1 0 -2.2 0M373.4 203.3a1.1 1.1 0 1 0 2.2 0a1.1 1.1 0 1 0 -2.2 0M370.5 199.9a1.1 1.1 0 1 0 2.2 0a1.1 1.1 0 1 0 -2.2 0M367 189.5a1.1 1.1 0 1 0 2.2 0a1.1 1.1 0 1 0 -2.2 0M372.5 183.3a1.1 1.1 0 1 0 2.2 0a1.1 1.1 0 1 0 -2.2 0M364.7 196.4a1.1 1.1 0 1 0 2.2 0a1.1 1.1 0 1 0 -2.2 0M381.8 201.7a1.1 1.1 0 1 0 2.2 0a1.1 1.1 0 1 0 -2.2 0M379.9 196.8a1.1 1.1 0 1 0 2.2 0a1.1 1.1 0 1 0 -2.2 0M363 190.2a1.1 1.1 0 1 0 2.2 0a1.1 1.1 0 1 0 -2.2 0M369.9 202.6a1.1 1.1 0 1 0 2.2 0a1.1 1.1 0 1 0 -2.2 0M367.8 190.5a1.1 1.1 0 1 0 2.2 0a1.1 1.1 0 1 0 -2.2 0M374.3 209.8a1.1 1.1 0 1 0 2.2 0a1.1 1.1 0 1 0 -2.2 0M365.7 195.2a1.1 1.1 0 1 0 2.2 0a1.1 1.1 0 1 0 -2.2 0M374.6 188.7a1.1 1.1 0 1 0 2.2 0a1.1 1.1 0 1 0 -2.2 0M377.6 204.4a1.1 1.1 0 1 0 2.2 0a1.1 1.1 0 1 0 -2.2 0M370 189a1.1 1.1 0 1 0 2.2 0a1.1 1.1 0 1 0 -2.2 0M378.2 189.7a1.1 1.1 0 1 0 2.2 0a1.1 1.1 0 1 0 -2.2 0M362.7 205.1a1.1 1.1 0 1 0 2.2 0a1.1 1.1 0 1 0 -2.2 0M364.6 210.6a1.1 1.1 0 1 0 2.2 0a1.1 1.1 0 1 0 -2.2 0M369.8 188.4a1.1 1.1 0 1 0 2.2 0a1.1 1.1 0 1 0 -2.2 0M362.7 195.1a1.1 1.1 0 1 0 2.2 0a1.1 1.1 0 1 0 -2.2 0M374.2 210.5a1.1 1.1 0 1 0 2.2 0a1.1 1.1 0 1 0 -2.2 0M360.7 194.4a1.1 1.1 0 1 0 2.2 0a1.1 1.1 0 1 0 -2.2 0M358.5 194.4a1.1 1.1 0 1 0 2.2 0a1.1 1.1 0 1 0 -2.2 0M381.1 192.5a1.1 1.1 0 1 0 2.2 0a1.1 1.1 0 1 0 -2.2 0" fill="#0DBF62"/>
<path d="M369.9 209a1.1 1.1 0 1 0 2.2 0a1.1 1.1 0 1 0 -2.2 0M366.4 208.7a1.1 1.1 0 1 0 2.2 0a1.1 1.1 0 1 0 -2.2 0M365.3 208.8a1.1 1.1 0 1 0 2.2 0a1.1 1.1 0 1 0 -2.2 0M366.2 212.6a1.1 1.1 0 1 0 2.2 0a1.1 1.1 0 1 0 -2.2 0M371.8 209.5a1.1 1.1 0 1 0 2.2 0a1.1 1.1 0 1 0 -2.2 0M362.5 209.8a1.1 1.1 0 1 0 2.2 0a1.1 1.1 0 1 0 -2.2 0M366.4 213.4a1.1 1.1 0 1 0 2.2 0a1.1 1.1 0 1 0 -2.2 0M364.2 208.9a1.1 1.1 0 1 0 2.2 0a1.1 1.1 0 1 0 -2.2 0M366.8 212.5a1.1 1.1 0 1 0 2.2 0a1.1 1.1 0 1 0 -2.2 0M372.9 208.1a1.1 1.1 0 1 0 2.2 0a1.1 1.1 0 1 0 -2.2 0M370.9 213.2a1.1 1.1 0 1 0 2.2 0a1.1 1.1 0 1 0 -2.2 0M366 208.2a1.1 1.1 0 1 0 2.2 0a1.1 1.1 0 1 0 -2.2 0M373.4 210.9a1.1 1.1 0 1 0 2.2 0a1.1 1.1 0 1 0 -2.2 0M365 211.7a1.1 1.1 0 1 0 2.2 0a1.1 1.1 0 1 0 -2.2 0M365.7 208.2a1.1 1.1 0 1 0 2.2 0a1.1 1.1 0 1 0 -2.2 0M372.9 211.1a1.1 1.1 0 1 0 2.2 0a1.1 1.1 0 1 0 -2.2 0M364.7 209.8a1.1 1.1 0 1 0 2.2 0a1.1 1.1 0 1 0 -2.2 0M366.5 208a1.1 1.1 0 1 0 2.2 0a1.1 1.1 0 1 0 -2.2 0M367.1 209.9a1.1 1.1 0 1 0 2.2 0a1.1 1.1 0 1 0 -2.2 0M371.5 211.9a1.1 1.1 0 1 0 2.2 0a1.1 1.1 0 1 0 -2.2 0" fill="#0DBF62"/>
<path d="M457.1 163.6a1.1 1.1 0 1 0 2.2 0a1.1 1.1 0 1 0 -2.2 0M453.9 164.8a1.1 1.1 0 1 0 2.2 0a1.1 1.1 0 1 0 -2.2 0M454.5 166.5a1.1 1.1 0 1 0 2.2 0a1.1 1.1 0 1 0 -2.2 0M455.6 165a1.1 1.1 0 1 0 2.2 0a1.1 1.1 0 1 0 -2.2 0M456.6 167.4a1.1 1.1 0 1 0 2.2 0a1.1 1.1 0 1 0 -2.2 0M455.4 165.9a1.1 1.1 0 1 0 2.2 0a1.1 1.1 0 1 0 -2.2 0M458.1 165.8a1.1 1.1 0 1 0 2.2 0a1.1 1.1 0 1 0 -2.2 0M452.6 168.5a1.1 1.1 0 1 0 2.2 0a1.1 1.1 0 1 0 -2.2 0M460.3 163.1a1.1 1.1 0 1 0 2.2 0a1.1 1.1 0 1 0 -2.2 0M455.3 166a1.1 1.1 0 1 0 2.2 0a1.1 1.1 0 1 0 -2.2 0M457.5 166.3a1.1 1.1 0 1 0 2.2 0a1.1 1.1 0 1 0 -2.2 0M454.8 164.2a1.1 1.1 0 1 0 2.2 0a1.1 1.1 0 1 0 -2.2 0M455.6 166.7a1.1 1.1 0 1 0 2.2 0a1.1 1.1 0 1 0 -2.2 0M453 164.3a1.1 1.1 0 1 0 2.2 0a1.1 1.1 0 1 0 -2.2 0M455.3 163.2a1.1 1.1 0 1 0 2.2 0a1.1 1.1 0 1 0 -2.2 0M454.8 165a1.1 1.1 0 1 0 2.2 0a1.1 1.1 0 1 0 -2.2 0" fill="#FB4FD3"/>
<text x="121.3" y="65.3" font-size="12.6" font-weight="normal" fill="#1a1a1a" text-anchor="start">Tenocyte A</text>
<text x="164.8" y="88.6" font-size="12.6" font-weight="normal" fill="#1a1a1a" text-anchor="start">Tenocyte B</text>
<text x="73.5" y="100.7" font-size="12.6" font-weight="normal" fill="#1a1a1a" text-anchor="start">Tenocyte D</text>
<text x="62.5" y="122.5" font-size="12.6" font-weight="normal" fill="#1a1a1a" text-anchor="start">Tenocyte E</text>
<text x="134.5" y="139.1" font-size="12.6" font-weight="normal" fill="#1a1a1a" text-anchor="start">Tenocyte C</text>
<text x="61.4" y="152.6" font-size="12.6" font-weight="normal" fill="#1a1a1a" text-anchor="start">Monocytes</text>
<text x="194.9" y="169.1" font-size="12.6" font-weight="normal" fill="#1a1a1a" text-anchor="start">Tc cells</text>
<text x="125.1" y="196.4" font-size="12.6" font-weight="normal" fill="#1a1a1a" text-anchor="start">Endothelial</text>
<text x="345.8" y="61.5" font-size="12.6" font-weight="normal" fill="#1a1a1a" text-anchor="start">Tenocyte A</text>
<text x="381.3" y="88.7" font-size="12.6" font-weight="normal" fill="#1a1a1a" text-anchor="start">Tenocyte B</text>
<text x="292" y="100.4" font-size="12.6" font-weight="normal" fill="#1a1a1a" text-anchor="start">Tenocyte D</text>
<text x="294" y="117.3" font-size="12.6" font-weight="normal" fill="#1a1a1a" text-anchor="start">Tenocyte E</text>
<text x="281.8" y="154" font-size="12.6" font-weight="normal" fill="#1a1a1a" text-anchor="start">Monocytes</text>
<text x="348.9" y="143.1" font-size="12.6" font-weight="normal" fill="#1a1a1a" text-anchor="start">Tenocyte C</text>
<text x="411.6" y="169.5" font-size="12.6" font-weight="normal" fill="#1a1a1a" text-anchor="start">Tc cells</text>
<text x="331.3" y="210.5" font-size="12.6" font-weight="normal" fill="#1a1a1a" text-anchor="start">Endothelial</text>
<circle cx="491" cy="95.9" r="2.8" fill="#F8766D"/>
<text x="501.5" y="99.1" font-size="8.9" font-weight="normal" fill="#151515" text-anchor="start">Tenocyte A</text>
<circle cx="491" cy="106.5" r="2.8" fill="#E08E0B"/>
<text x="501.5" y="109.7" font-size="8.9" font-weight="normal" fill="#151515" text-anchor="start">Tenocyte B</text>
<circle cx="491" cy="117.1" r="2.8" fill="#3BA30A"/>
<text x="501.5" y="120.3" font-size="8.9" font-weight="normal" fill="#151515" text-anchor="start">Tenocyte C</text>
<circle cx="491" cy="127.7" r="2.8" fill="#0DBF62"/>
<text x="501.5" y="130.9" font-size="8.9" font-weight="normal" fill="#151515" text-anchor="start">Endothelial</text>
<circle cx="491" cy="138.3" r="2.8" fill="#11BEC4"/>
<text x="501.5" y="141.5" font-size="8.9" font-weight="normal" fill="#151515" text-anchor="start">Tenocyte D</text>
<circle cx="491" cy="148.9" r="2.8" fill="#0AA6F5"/>
<text x="501.5" y="152.1" font-size="8.9" font-weight="normal" fill="#151515" text-anchor="start">Tenocyte E</text>
<circle cx="491" cy="159.5" r="2.8" fill="#EE60F2"/>
<text x="501.5" y="162.7" font-size="8.9" font-weight="normal" fill="#151515" text-anchor="start">Monocytes</text>
<circle cx="491" cy="170.1" r="2.8" fill="#FB4FD3"/>
<text x="501.5" y="173.3" font-size="8.9" font-weight="normal" fill="#151515" text-anchor="start">Tc cells</text>
<text x="6.7" y="268.9" font-size="22.4" font-weight="bold" fill="#000" text-anchor="start" stroke="#000" stroke-width="0.6">B</text>
<text x="86.7" y="281.1" font-size="8.3" font-weight="bold" fill="#111" text-anchor="middle" stroke="#111" stroke-width="0.25" textLength="30" lengthAdjust="spacingAndGlyphs">COL1A1</text>
<path d="M45.2 334.6V292.8" stroke="#8c8c8c" stroke-width="1"/>
<path d="M65.8 334.6V288.9" stroke="#8c8c8c" stroke-width="1"/>
<path d="M86.5 334.6V295.1" stroke="#8c8c8c" stroke-width="1"/>
<path d="M107.2 334.6V288.9" stroke="#8c8c8c" stroke-width="1"/>
<path d="M127.8 334.6V300.5" stroke="#8c8c8c" stroke-width="1"/>
<path d="M40.4 295.9 L37.3 297 L36.3 298.1 L36.3 299.2 L36.3 300.3 L35.9 301.4 L36.1 302.5 L36 303.6 L35.7 304.7 L35.5 305.8 L36 306.9 L35.7 308 L36.5 309.1 L36.4 310.2 L35.5 311.3 L35.6 312.4 L35.6 313.5 L36.2 314.6 L35.6 315.7 L35.9 316.8 L36.3 317.9 L36.4 319 L36.2 320.1 L36.3 321.2 L37.7 322.3 L38 323.4 L39.4 324.5 L40 325.7 L41.7 326.8 L42.3 327.9 L42.8 329 L43.6 330.1 L43.8 331.2 L46.5 331.2 L47.3 330.1 L47.1 329 L48.4 327.9 L49.4 326.8 L51 325.7 L51.4 324.5 L52.1 323.4 L53 322.3 L53.7 321.2 L54.6 320.1 L54.2 319 L54.4 317.9 L54.6 316.8 L54.1 315.7 L54.8 314.6 L54.4 313.5 L54.4 312.4 L54.6 311.3 L54.2 310.2 L54.3 309.1 L54.9 308 L54.8 306.9 L54.1 305.8 L54.7 304.7 L54.2 303.6 L55 302.5 L54.3 301.4 L54.9 300.3 L54.2 299.2 L53.6 298.1 L52.9 297 L49.5 295.9 L47.9 295.5 L46.5 295.3 L45.2 295.5 L43.9 294.9 L42.5 295.5Z" fill="#000"/>
<path d="M45.2 297.8 L45.7 299.7 L46.2 300.9 L48.7 300.9 L49.2 299.7 L48.2 297.8Z" fill="#2727F0"/>
<path d="M44.5 322.2 L44.5 334.2 L45.9 334.2 L45.9 322.2Z" fill="#2727F0"/>
<path d="M62 291.2 L57.9 292.3 L57.4 293.4 L56.7 294.5 L56.5 295.6 L56.3 296.7 L56.6 297.8 L56.4 299 L55.9 300.1 L56.7 301.2 L56.2 302.3 L56.1 303.4 L56.6 304.5 L56.2 305.6 L56.5 306.7 L56.4 307.8 L56.1 308.9 L55.9 310 L56.3 311.1 L57.8 312.2 L58.6 313.3 L72.3 313.3 L73.8 312.2 L75.3 311.1 L74.9 310 L75.1 308.9 L75.8 307.8 L75.5 306.7 L75.4 305.6 L74.9 304.5 L75.3 303.4 L75.7 302.3 L74.9 301.2 L75.1 300.1 L75 299 L75.5 297.8 L75.4 296.7 L75.1 295.6 L74.8 294.5 L74.2 293.4 L74.3 292.3 L69 291.2 L67.6 291 L66.4 291.1 L65.2 290.3 L64 290.6Z" fill="#000"/>
<path d="M65.3 309.8 L64.8 312.9 L67.8 312.9 L67.3 309.8Z" fill="#2727F0"/>
<path d="M77.8 309.4 L77.9 310.5 L77.8 311.6 L77.8 312.7 L77 313.9 L77.5 315 L77.2 316.1 L77.5 317.2 L77.2 318.4 L77.1 319.5 L77.8 320.6 L77.5 321.7 L77.4 322.9 L77.2 324 L77.2 325.1 L77.6 326.2 L77.6 327.4 L77.9 328.5 L78 329.6 L77.7 330.7 L95.9 330.7 L95.2 329.6 L95.9 328.5 L95.9 327.4 L95.4 326.2 L95.6 325.1 L95.7 324 L95.1 322.9 L95.1 321.7 L95.7 320.6 L95.3 319.5 L95.3 318.4 L95.3 317.2 L95.2 316.1 L95.5 315 L95 313.9 L95.8 312.7 L95 311.6 L95.8 310.5 L95.9 309.4 L93.8 307.4 L92.6 308.1 L91.4 307.9 L90.1 307.9 L88.9 307.6 L87.7 307.5 L86.5 307.5 L85.3 307.7 L84.1 307.8 L82.9 308 L81.6 307.4 L80.4 307.9 L79.2 307.7Z" fill="#000"/>
<path d="M85.5 327.6 L77 334.2 L86.5 334.2 L86.5 327.6Z" fill="#000"/>
<path d="M86.5 322.2 L86.5 326.9 L86.5 330.7 L86.5 334.2 L96 334.2 L94.5 330.7 L91.5 326.9 L87.5 322.2Z" fill="#2727F0"/>
<path d="M105.1 290 L103.9 291.1 L102.7 292.2 L102 293.3 L101.7 294.4 L100.8 295.5 L100.7 296.6 L100.4 297.7 L99.4 298.8 L99 299.9 L98.2 301 L97.7 302.1 L98.2 303.3 L98.6 304.4 L98 305.5 L97.8 306.6 L98.2 307.7 L97.9 308.8 L98.2 309.9 L98.1 311 L98.4 312.1 L98.2 313.2 L98.4 314.3 L97.7 315.4 L97.9 316.5 L98.3 317.6 L98.1 318.7 L97.9 319.8 L97.9 320.9 L98.1 322 L98.9 323.2 L99.6 324.3 L99.7 325.4 L100.2 326.5 L100.8 327.6 L101.2 328.7 L101.6 329.8 L102.4 330.9 L102.6 332 L101.3 333.1 L107.3 333.1 L108.1 332 L108.6 330.9 L109.2 329.8 L109.8 328.7 L110.4 327.6 L111.5 326.5 L112.6 325.4 L114.1 324.3 L114.5 323.2 L115.7 322 L116.5 320.9 L115.7 319.8 L116.3 318.7 L115.9 317.6 L116 316.5 L116.3 315.4 L116.2 314.3 L116.2 313.2 L116.5 312.1 L116.5 311 L116.1 309.9 L115.9 308.8 L116.2 307.7 L116 306.6 L116 305.5 L116.4 304.4 L116.5 303.3 L116.2 302.1 L115.7 301 L115.6 299.9 L114.6 298.8 L114.9 297.7 L114.4 296.6 L112.9 295.5 L112.2 294.4 L111.1 293.3 L109.9 292.2 L109.8 291.1 L109.2 290Z" fill="#000"/>
<path d="M107.7 291.2 L107.7 299.7 L107.7 311.4 L107.2 319.1 L107.2 324.5 L106.7 328.4 L106.2 334.2 L116.7 334.2 L115.2 328.4 L113.7 324.5 L112.2 319.1 L110.7 311.4 L109.7 299.7 L108.4 291.2Z" fill="#2727F0"/>
<path d="M120.7 301.3 L120.3 302.4 L119.8 303.5 L119.7 304.7 L119 305.8 L118.7 307 L119.3 308.1 L119.1 309.2 L118.4 310.4 L119.2 311.5 L119.2 312.6 L118.5 313.8 L118.8 314.9 L118.5 316 L118.7 317.2 L119.1 318.3 L118.6 319.4 L119.2 320.6 L119 321.7 L119.1 322.9 L118.5 324 L119.1 325.1 L119 326.3 L119.2 327.4 L119.2 328.5 L118.6 329.7 L118.8 330.8 L119 331.9 L118.9 333.1 L128.8 333.1 L128 331.9 L128.1 330.8 L128 329.7 L128.7 328.5 L128.8 327.4 L128.7 326.3 L128.3 325.1 L128.1 324 L128.1 322.9 L128.2 321.7 L128.7 320.6 L128.4 319.4 L127.9 318.3 L127.9 317.2 L128.3 316 L128.1 314.9 L128.4 313.8 L128.7 312.6 L128.2 311.5 L128.7 310.4 L128.7 309.2 L128.7 308.1 L128.1 307 L128.1 305.8 L128.4 304.7 L128.6 303.5 L128.7 302.4 L129.1 301.3 L127.5 300.4 L126.1 301 L124.8 301.2 L123.5 300.3 L122.1 300.3Z" fill="#000"/>
<path d="M127.8 304.4 L127.8 326.9 L127.8 330 L127.8 334.2 L137.3 334.2 L136.3 330 L132.8 326.9 L132.3 304.4Z" fill="#2727F0"/>
<path d="M46.8 295.5h1v1h-1zM39.4 302.1h1v1h-1zM44.6 296h1v1h-1zM51.2 296.9h1v1h-1zM47.6 325.8h1v1h-1zM37.5 297.9h1v1h-1zM49.2 319h1v1h-1zM48.3 326h1v1h-1zM49.5 321.8h1v1h-1zM45 326.5h1v1h-1zM59.4 292.8h1v1h-1zM61.2 313.3h1v1h-1zM62.8 292.4h1v1h-1zM56.9 310.7h1v1h-1zM67.8 313h1v1h-1zM68.9 299.2h1v1h-1zM57.5 296.8h1v1h-1zM62.9 300.2h1v1h-1zM90.7 315.5h1v1h-1zM85.8 321.5h1v1h-1zM78.1 308.3h1v1h-1zM80.2 318h1v1h-1zM93.5 312.7h1v1h-1zM79.2 318.6h1v1h-1zM86.7 317.3h1v1h-1zM86.2 314.1h1v1h-1zM91.6 315.9h1v1h-1zM84.5 318.5h1v1h-1zM81.1 308.9h1v1h-1zM84.2 314.8h1v1h-1zM79.6 313.1h1v1h-1zM83.5 308.1h1v1h-1zM82.2 329h1v1h-1zM112 296.7h1v1h-1zM106 331.8h1v1h-1zM111.9 296.9h1v1h-1zM102.8 307.8h1v1h-1zM110 295.1h1v1h-1zM113.7 302.7h1v1h-1zM99.6 318h1v1h-1zM111.7 308.6h1v1h-1zM108.7 324.6h1v1h-1zM104.7 291.5h1v1h-1zM109.7 306.2h1v1h-1zM101.7 312.6h1v1h-1zM110.6 322.2h1v1h-1zM106.3 297.8h1v1h-1zM106.6 329.7h1v1h-1zM102.8 298.7h1v1h-1zM113.4 307.4h1v1h-1zM106.6 293.6h1v1h-1zM108.2 312.1h1v1h-1zM102.1 325.1h1v1h-1zM107.5 325.5h1v1h-1zM107.7 317.3h1v1h-1zM106.9 315.5h1v1h-1zM101.3 327h1v1h-1zM106.4 288.5h1v1h-1zM105.8 328.9h1v1h-1zM101.9 298h1v1h-1zM104 306.6h1v1h-1zM98.5 310.2h1v1h-1zM106.6 332.2h1v1h-1zM119.2 310.1h1v1h-1zM123 329.7h1v1h-1zM121.2 317.2h1v1h-1zM122.2 329.7h1v1h-1zM123.8 329.2h1v1h-1zM120.4 305.4h1v1h-1zM125.1 314.8h1v1h-1zM125.8 328.3h1v1h-1zM123 302.8h1v1h-1zM125.9 319.9h1v1h-1zM122.2 316.4h1v1h-1zM126.2 302.7h1v1h-1zM120.8 322.6h1v1h-1zM122.5 322.7h1v1h-1zM126.6 301.4h1v1h-1zM126.3 303.6h1v1h-1zM119.5 305.8h1v1h-1zM126.9 316.7h1v1h-1zM121.8 302.9h1v1h-1zM124.2 319.8h1v1h-1zM123.3 321.7h1v1h-1zM122.5 331.4h1v1h-1zM119 317.1h1v1h-1zM127 329.1h1v1h-1zM126.8 308.1h1v1h-1zM125.7 312.9h1v1h-1zM126.7 304.6h1v1h-1zM124.3 332.6h1v1h-1zM124.6 325h1v1h-1zM123.4 324.7h1v1h-1zM124.8 303.3h1v1h-1zM123.2 325.5h1v1h-1zM126.9 319.4h1v1h-1zM121.4 324.2h1v1h-1zM119.8 312.4h1v1h-1z" fill="#fff"/>
<path d="M54.3 316.3h1.7v1.7h-1.7zM50 324.2h1.7v1.7h-1.7zM38.1 324h1.7v1.7h-1.7zM34.9 301.5h1.7v1.7h-1.7zM35.5 299.3h1.7v1.7h-1.7zM53.3 311.3h1.7v1.7h-1.7zM34.8 298.3h1.7v1.7h-1.7zM34.8 313h1.7v1.7h-1.7zM52.7 321.1h1.7v1.7h-1.7zM53.4 313.6h1.7v1.7h-1.7zM34.8 296.2h1.7v1.7h-1.7zM35.6 295.9h1.7v1.7h-1.7zM47.6 329.5h1.7v1.7h-1.7zM54.8 308.8h1.7v1.7h-1.7zM49.1 325.6h1.7v1.7h-1.7zM54.4 300.6h1.7v1.7h-1.7zM38.7 324.8h1.7v1.7h-1.7zM34.8 317.5h1.7v1.7h-1.7zM51.4 322.4h1.7v1.7h-1.7zM53.4 310.9h1.7v1.7h-1.7zM46.7 330h1.7v1.7h-1.7zM54.2 311.4h1.7v1.7h-1.7zM34.9 320.3h1.7v1.7h-1.7zM35 307.4h1.7v1.7h-1.7zM34.6 315.5h1.7v1.7h-1.7zM51.8 322.9h1.7v1.7h-1.7zM35.1 303h1.7v1.7h-1.7zM41.1 327.5h1.7v1.7h-1.7zM34.3 315.7h1.7v1.7h-1.7zM40.7 294.5h1.7v1.7h-1.7zM45.4 293.3h1.7v1.7h-1.7zM46.6 294h1.7v1.7h-1.7zM44.4 293.7h1.7v1.7h-1.7zM43.4 294.5h1.7v1.7h-1.7zM48 293.4h1.7v1.7h-1.7zM51.9 297h1.7v1.7h-1.7zM40.1 295.4h1.7v1.7h-1.7zM41.1 297.9h1.7v1.7h-1.7zM38.6 297.2h1.7v1.7h-1.7zM52.2 294.4h1.7v1.7h-1.7zM51.5 297.2h1.7v1.7h-1.7zM49.5 297.5h1.7v1.7h-1.7zM44.9 294.6h1.7v1.7h-1.7zM41.8 293.4h1.7v1.7h-1.7zM45.3 295h1.7v1.7h-1.7zM51.2 327.4h1.7v1.7h-1.7zM53.2 323h1.7v1.7h-1.7zM42.4 321.5h1.7v1.7h-1.7zM40.1 319.9h1.7v1.7h-1.7zM45.7 325.3h1.7v1.7h-1.7zM49.1 324.6h1.7v1.7h-1.7zM38.5 322h1.7v1.7h-1.7zM36.2 321.3h1.7v1.7h-1.7zM39.9 322.9h1.7v1.7h-1.7zM53.1 323.3h1.7v1.7h-1.7zM47.3 325.7h1.7v1.7h-1.7zM35.4 328h1.7v1.7h-1.7zM38 323.1h1.7v1.7h-1.7zM43.1 324h1.7v1.7h-1.7zM75.8 299.5h1.7v1.7h-1.7zM74.5 298.7h1.7v1.7h-1.7zM55.1 306.6h1.7v1.7h-1.7zM73.5 292.9h1.7v1.7h-1.7zM74 294h1.7v1.7h-1.7zM74.8 302.8h1.7v1.7h-1.7zM56.6 311.2h1.7v1.7h-1.7zM58.8 312.7h1.7v1.7h-1.7zM75.7 293.9h1.7v1.7h-1.7zM75.9 307.4h1.7v1.7h-1.7zM55.2 301.4h1.7v1.7h-1.7zM74.5 298.7h1.7v1.7h-1.7zM58.8 313.2h1.7v1.7h-1.7zM75.9 308.1h1.7v1.7h-1.7zM74.7 306h1.7v1.7h-1.7zM54.6 306h1.7v1.7h-1.7zM74.9 297.5h1.7v1.7h-1.7zM58.9 290.8h1.7v1.7h-1.7zM67.1 288.8h1.7v1.7h-1.7zM64.6 290.1h1.7v1.7h-1.7zM63.8 288.8h1.7v1.7h-1.7zM63.3 290h1.7v1.7h-1.7zM70.7 310.3h1.7v1.7h-1.7zM72 316.2h1.7v1.7h-1.7zM71.6 309.6h1.7v1.7h-1.7zM73 315.9h1.7v1.7h-1.7zM59.7 315.8h1.7v1.7h-1.7zM56.6 310.1h1.7v1.7h-1.7zM70.6 311.8h1.7v1.7h-1.7zM70.9 311.8h1.7v1.7h-1.7zM61.2 315.9h1.7v1.7h-1.7zM57.8 310.8h1.7v1.7h-1.7zM59.7 314.2h1.7v1.7h-1.7zM63.6 316.5h1.7v1.7h-1.7zM61.6 291.4h1.7v1.7h-1.7zM68 291h1.7v1.7h-1.7zM62.5 288.2h1.7v1.7h-1.7zM65.1 288.7h1.7v1.7h-1.7zM66.7 292.5h1.7v1.7h-1.7zM63.8 290.6h1.7v1.7h-1.7zM68.8 291.1h1.7v1.7h-1.7zM67.9 290.2h1.7v1.7h-1.7zM94.5 315h1.7v1.7h-1.7zM76.9 326.1h1.7v1.7h-1.7zM75.6 327h1.7v1.7h-1.7zM76.8 310h1.7v1.7h-1.7zM95.1 314.1h1.7v1.7h-1.7zM77.1 326.4h1.7v1.7h-1.7zM76.1 318.1h1.7v1.7h-1.7zM75.2 322.5h1.7v1.7h-1.7zM94.5 327.6h1.7v1.7h-1.7zM75 327.6h1.7v1.7h-1.7zM76.9 313.4h1.7v1.7h-1.7zM94.8 325.5h1.7v1.7h-1.7zM76.6 321.1h1.7v1.7h-1.7zM94.6 320.9h1.7v1.7h-1.7zM75.8 315.7h1.7v1.7h-1.7zM95.8 326.7h1.7v1.7h-1.7zM76 309.5h1.7v1.7h-1.7zM86.9 307.4h1.7v1.7h-1.7zM81 306.1h1.7v1.7h-1.7zM89.4 305.9h1.7v1.7h-1.7zM89.1 306h1.7v1.7h-1.7zM91.6 306.7h1.7v1.7h-1.7zM84.9 305.8h1.7v1.7h-1.7zM82.5 307h1.7v1.7h-1.7zM84.3 307h1.7v1.7h-1.7zM90.5 307h1.7v1.7h-1.7zM81.4 305.8h1.7v1.7h-1.7zM84.4 305.8h1.7v1.7h-1.7zM84.1 306.9h1.7v1.7h-1.7zM88.6 306.7h1.7v1.7h-1.7zM83.8 308.8h1.7v1.7h-1.7zM84.2 304.7h1.7v1.7h-1.7zM89.2 305.4h1.7v1.7h-1.7zM81.4 306.7h1.7v1.7h-1.7zM90 299.5h1.7v1.7h-1.7zM86.1 306.7h1.7v1.7h-1.7zM91.1 305h1.7v1.7h-1.7zM80.5 307.6h1.7v1.7h-1.7zM90.6 300.8h1.7v1.7h-1.7zM88.1 304.2h1.7v1.7h-1.7zM86.8 306.7h1.7v1.7h-1.7zM94 305.4h1.7v1.7h-1.7zM88.1 300.7h1.7v1.7h-1.7zM91.3 304.2h1.7v1.7h-1.7zM81.9 303.4h1.7v1.7h-1.7zM78.9 300.6h1.7v1.7h-1.7zM83 300.4h1.7v1.7h-1.7zM81.5 305.2h1.7v1.7h-1.7zM81.2 304.7h1.7v1.7h-1.7zM80 308.9h1.7v1.7h-1.7zM89.6 306.1h1.7v1.7h-1.7zM81.1 305.9h1.7v1.7h-1.7zM85.3 304.6h1.7v1.7h-1.7zM88.1 302.3h1.7v1.7h-1.7zM83.2 299.6h1.7v1.7h-1.7zM92 308.4h1.7v1.7h-1.7zM91.6 299.8h1.7v1.7h-1.7zM90.8 307.5h1.7v1.7h-1.7zM91.6 302.6h1.7v1.7h-1.7zM76.9 308.8h1.7v1.7h-1.7zM93.8 302.3h1.7v1.7h-1.7zM81.2 307.9h1.7v1.7h-1.7zM79.2 306.6h1.7v1.7h-1.7zM90.6 305.5h1.7v1.7h-1.7zM79.4 299.8h1.7v1.7h-1.7zM90.9 307.3h1.7v1.7h-1.7zM92.7 302.8h1.7v1.7h-1.7zM90.7 302.2h1.7v1.7h-1.7zM92.7 301h1.7v1.7h-1.7zM91.7 307h1.7v1.7h-1.7zM106.6 331.7h1.7v1.7h-1.7zM110.8 291.9h1.7v1.7h-1.7zM115.3 297.7h1.7v1.7h-1.7zM97 321.7h1.7v1.7h-1.7zM115.3 313.8h1.7v1.7h-1.7zM102.7 291h1.7v1.7h-1.7zM108.3 328h1.7v1.7h-1.7zM115 307.3h1.7v1.7h-1.7zM114.9 315.8h1.7v1.7h-1.7zM110 290.8h1.7v1.7h-1.7zM108 328.7h1.7v1.7h-1.7zM99 323.7h1.7v1.7h-1.7zM97.8 302.4h1.7v1.7h-1.7zM103.7 289.6h1.7v1.7h-1.7zM106.8 332.6h1.7v1.7h-1.7zM113.7 322.4h1.7v1.7h-1.7zM114.2 298.3h1.7v1.7h-1.7zM113.1 294.6h1.7v1.7h-1.7zM96.9 301.2h1.7v1.7h-1.7zM101.1 291.1h1.7v1.7h-1.7zM98.9 332.8h1.7v1.7h-1.7zM115.7 303.9h1.7v1.7h-1.7zM97.7 300.3h1.7v1.7h-1.7zM99.9 294.3h1.7v1.7h-1.7zM97.4 307.3h1.7v1.7h-1.7zM97.5 302.7h1.7v1.7h-1.7zM115.9 304.1h1.7v1.7h-1.7zM97.1 314.4h1.7v1.7h-1.7zM116.5 297.8h1.7v1.7h-1.7zM96 320.1h1.7v1.7h-1.7zM99.9 295.8h1.7v1.7h-1.7zM115.6 305.9h1.7v1.7h-1.7zM96.4 319.4h1.7v1.7h-1.7zM101 293.1h1.7v1.7h-1.7zM111.5 292.7h1.7v1.7h-1.7zM97.7 320.5h1.7v1.7h-1.7zM106.5 286.8h1.7v1.7h-1.7zM102.5 326.5h1.7v1.7h-1.7zM100.7 328.4h1.7v1.7h-1.7zM102 327h1.7v1.7h-1.7zM103 324.1h1.7v1.7h-1.7zM102.2 322.4h1.7v1.7h-1.7zM98.8 330.3h1.7v1.7h-1.7zM98.5 329.1h1.7v1.7h-1.7zM97.8 330.2h1.7v1.7h-1.7zM100.6 323.2h1.7v1.7h-1.7zM100 322.6h1.7v1.7h-1.7zM127.8 331.5h1.7v1.7h-1.7zM130.2 332.8h1.7v1.7h-1.7zM116.2 322.1h1.7v1.7h-1.7zM118.4 316h1.7v1.7h-1.7zM127.3 319h1.7v1.7h-1.7zM116.9 328.8h1.7v1.7h-1.7zM127.1 308h1.7v1.7h-1.7zM127.4 330.5h1.7v1.7h-1.7zM118 317h1.7v1.7h-1.7zM128.5 310.1h1.7v1.7h-1.7zM116.7 314.2h1.7v1.7h-1.7zM127.7 319.9h1.7v1.7h-1.7zM128.1 331.5h1.7v1.7h-1.7zM116.9 304.9h1.7v1.7h-1.7zM129.4 332.9h1.7v1.7h-1.7zM118.1 324.6h1.7v1.7h-1.7zM118 306h1.7v1.7h-1.7zM117.5 313.8h1.7v1.7h-1.7zM117.8 316.2h1.7v1.7h-1.7zM127 309.8h1.7v1.7h-1.7zM118.6 304.9h1.7v1.7h-1.7zM117.3 308.6h1.7v1.7h-1.7zM128.7 304.6h1.7v1.7h-1.7zM127 315.9h1.7v1.7h-1.7zM127.1 332.7h1.7v1.7h-1.7zM117.7 330h1.7v1.7h-1.7zM126.5 299.9h1.7v1.7h-1.7zM125.5 300.3h1.7v1.7h-1.7zM121.5 298.8h1.7v1.7h-1.7zM124.6 300.2h1.7v1.7h-1.7zM124.1 300.3h1.7v1.7h-1.7zM126.9 299.9h1.7v1.7h-1.7zM128.6 299.2h1.7v1.7h-1.7zM127.2 304h1.7v1.7h-1.7zM126.3 302.1h1.7v1.7h-1.7zM120.6 305h1.7v1.7h-1.7zM120.3 303.8h1.7v1.7h-1.7zM125.3 303.8h1.7v1.7h-1.7zM122.3 305.2h1.7v1.7h-1.7zM127.8 300h1.7v1.7h-1.7zM128.9 301.9h1.7v1.7h-1.7zM129.7 304.4h1.7v1.7h-1.7zM130.7 302.6h1.7v1.7h-1.7zM127.8 301.6h1.7v1.7h-1.7zM126.4 303.7h1.7v1.7h-1.7zM122.3 304.3h1.7v1.7h-1.7zM127.2 303.2h1.7v1.7h-1.7zM128.5 305.8h1.7v1.7h-1.7zM124.3 299.8h1.7v1.7h-1.7zM122.2 302h1.7v1.7h-1.7zM126.8 303.9h1.7v1.7h-1.7zM135.7 303.8h1.7v1.7h-1.7zM131.8 304.7h1.7v1.7h-1.7zM119.2 299.8h1.7v1.7h-1.7zM133.4 327.3h1.7v1.7h-1.7zM133.2 316.5h1.7v1.7h-1.7zM134.8 326h1.7v1.7h-1.7zM132.5 301.6h1.7v1.7h-1.7zM134.8 324.7h1.7v1.7h-1.7zM133 319h1.7v1.7h-1.7zM134.5 311.4h1.7v1.7h-1.7zM135.3 305.6h1.7v1.7h-1.7zM133.8 307.9h1.7v1.7h-1.7zM134.8 307.3h1.7v1.7h-1.7zM133.6 306.6h1.7v1.7h-1.7zM134.6 302.9h1.7v1.7h-1.7zM132 304.1h1.7v1.7h-1.7zM131.5 307.1h1.7v1.7h-1.7zM134.1 314.8h1.7v1.7h-1.7zM135.8 312.7h1.7v1.7h-1.7zM133.3 306.6h1.7v1.7h-1.7zM135.4 311.7h1.7v1.7h-1.7zM133.2 316.1h1.7v1.7h-1.7zM133.5 308.4h1.7v1.7h-1.7zM132.8 317.9h1.7v1.7h-1.7zM133.9 318.1h1.7v1.7h-1.7zM132.9 306.5h1.7v1.7h-1.7zM135.3 314.8h1.7v1.7h-1.7zM133.4 323.8h1.7v1.7h-1.7zM132.8 324.9h1.7v1.7h-1.7zM134 312.4h1.7v1.7h-1.7zM131.8 302.7h1.7v1.7h-1.7zM132.9 304.9h1.7v1.7h-1.7zM135.2 301.6h1.7v1.7h-1.7z" fill="#000"/>
<path d="M88.2 325.3h1.1v1.1h-1.1zM87.6 324.8h1.1v1.1h-1.1zM87.2 323.1h1.1v1.1h-1.1zM87.9 330.5h1.1v1.1h-1.1zM90.3 332h1.1v1.1h-1.1zM90.2 333h1.1v1.1h-1.1zM107.2 294.5h1.1v1.1h-1.1zM108.2 307.9h1.1v1.1h-1.1zM114.4 328.5h1.1v1.1h-1.1zM110.1 322.6h1.1v1.1h-1.1zM109.6 306.1h1.1v1.1h-1.1zM108.1 304.9h1.1v1.1h-1.1zM107.5 314.4h1.1v1.1h-1.1zM108 292.1h1.1v1.1h-1.1zM106.8 324.1h1.1v1.1h-1.1zM108.8 322.7h1.1v1.1h-1.1zM108.3 294.8h1.1v1.1h-1.1zM107.2 297.7h1.1v1.1h-1.1zM108.6 299.8h1.1v1.1h-1.1zM109.6 305.8h1.1v1.1h-1.1zM107.2 331.3h1.1v1.1h-1.1zM109.1 301.2h1.1v1.1h-1.1zM107.8 304.5h1.1v1.1h-1.1zM109.2 308.2h1.1v1.1h-1.1zM130 327.6h1.1v1.1h-1.1zM127.3 306.5h1.1v1.1h-1.1zM132.4 332.2h1.1v1.1h-1.1zM131.7 318.8h1.1v1.1h-1.1zM129.8 310.6h1.1v1.1h-1.1zM129.6 303.9h1.1v1.1h-1.1zM130.6 318.2h1.1v1.1h-1.1zM129 322h1.1v1.1h-1.1zM128.9 315.9h1.1v1.1h-1.1zM130.3 305.4h1.1v1.1h-1.1zM127.7 318h1.1v1.1h-1.1zM129.2 322.5h1.1v1.1h-1.1zM130 316.9h1.1v1.1h-1.1zM131.7 307.4h1.1v1.1h-1.1zM129.4 319.1h1.1v1.1h-1.1z" fill="#000"/>
<rect x="36.7" y="333.3" width="17" height="2.5" fill="#000"/>
<rect x="62.8" y="333.3" width="6" height="2.5" fill="#000"/>
<rect x="77.5" y="333.3" width="18" height="2.5" fill="#000"/>
<rect x="98.2" y="333.3" width="18" height="2.5" fill="#000"/>
<rect x="118.8" y="333.3" width="18" height="2.5" fill="#000"/>
<path d="M33 285.2V336.7H140.3" fill="none" stroke="#3a3a3a" stroke-width="1"/>
<path d="M33 334.6h-2" stroke="#3a3a3a" stroke-width="0.9"/>
<text x="29.1" y="337.7" font-size="7.2" font-weight="normal" fill="#111" text-anchor="end">0</text>
<path d="M33 319.1h-2" stroke="#3a3a3a" stroke-width="0.9"/>
<text x="29.1" y="322.2" font-size="7.2" font-weight="normal" fill="#111" text-anchor="end">2</text>
<path d="M33 303.6h-2" stroke="#3a3a3a" stroke-width="0.9"/>
<text x="29.1" y="306.7" font-size="7.2" font-weight="normal" fill="#111" text-anchor="end">4</text>
<path d="M33 288.1h-2" stroke="#3a3a3a" stroke-width="0.9"/>
<text x="29.1" y="291.2" font-size="7.2" font-weight="normal" fill="#111" text-anchor="end">6</text>
<path d="M45.2 336.7v2" stroke="#3a3a3a" stroke-width="0.9"/>
<text x="0" y="0" font-size="7.1" font-weight="normal" fill="#111" text-anchor="end" stroke="#111" stroke-width="0.12" transform="translate(49.8 344.2) rotate(-45)">Tenocyte A</text>
<path d="M65.8 336.7v2" stroke="#3a3a3a" stroke-width="0.9"/>
<text x="0" y="0" font-size="7.1" font-weight="normal" fill="#111" text-anchor="end" stroke="#111" stroke-width="0.12" transform="translate(70.4 344.2) rotate(-45)">Tenocyte B</text>
<path d="M86.5 336.7v2" stroke="#3a3a3a" stroke-width="0.9"/>
<text x="0" y="0" font-size="7.1" font-weight="normal" fill="#111" text-anchor="end" stroke="#111" stroke-width="0.12" transform="translate(91.1 344.2) rotate(-45)">Tenocyte C</text>
<path d="M107.2 336.7v2" stroke="#3a3a3a" stroke-width="0.9"/>
<text x="0" y="0" font-size="7.1" font-weight="normal" fill="#111" text-anchor="end" stroke="#111" stroke-width="0.12" transform="translate(111.8 344.2) rotate(-45)">Tenocyte D</text>
<path d="M127.8 336.7v2" stroke="#3a3a3a" stroke-width="0.9"/>
<text x="0" y="0" font-size="7.1" font-weight="normal" fill="#111" text-anchor="end" stroke="#111" stroke-width="0.12" transform="translate(132.4 344.2) rotate(-45)">Tenocyte E</text>
<text x="86.7" y="378.8" font-size="8" font-weight="normal" fill="#111" text-anchor="middle" stroke="#111" stroke-width="0.1">Identity</text>
<text x="0" y="0" font-size="7.8" font-weight="normal" fill="#111" text-anchor="middle" stroke="#111" stroke-width="0.1" transform="translate(20.9 311.6) rotate(-90)">Expression Level</text>
<text x="221.7" y="281.1" font-size="8.3" font-weight="bold" fill="#111" text-anchor="middle" stroke="#111" stroke-width="0.25" textLength="15.6" lengthAdjust="spacingAndGlyphs">SCX</text>
<path d="M180.2 334.6V287.9" stroke="#8c8c8c" stroke-width="1"/>
<path d="M200.8 334.6V289.3" stroke="#8c8c8c" stroke-width="1"/>
<path d="M221.5 334.6V311.2" stroke="#8c8c8c" stroke-width="1"/>
<path d="M242.1 334.6V293" stroke="#8c8c8c" stroke-width="1"/>
<path d="M262.8 334.6V309.8" stroke="#8c8c8c" stroke-width="1"/>
<path d="M171.1 302.9 L171.4 304 L170.9 305.2 L171.4 306.3 L170.9 307.4 L171.6 308.6 L171 309.7 L170.7 310.9 L171.3 312 L171.4 313.1 L171.2 314.3 L171.5 315.4 L171.1 316.6 L170.7 317.7 L171.7 318.8 L170.9 320 L171 321.1 L171.4 322.2 L171.1 323.4 L171.5 324.5 L171.1 325.7 L171.1 326.8 L170.7 327.9 L171.3 329.1 L188.8 329.1 L189.3 327.9 L189.2 326.8 L189 325.7 L189.2 324.5 L189.4 323.4 L189.5 322.2 L188.7 321.1 L189 320 L189.1 318.8 L189.3 317.7 L189.1 316.6 L189.3 315.4 L188.9 314.3 L189.2 313.1 L188.9 312 L189.6 310.9 L189.5 309.7 L189.6 308.6 L189.2 307.4 L189.7 306.3 L188.9 305.2 L189.2 304 L189.7 302.9 L187.5 301.4 L186.3 301 L185.1 301.7 L183.8 301.7 L182.6 300.9 L181.4 301.1 L180.2 300.9 L179 301.2 L177.8 301.6 L176.6 301.6 L175.3 301.6 L174.1 301 L172.9 301.6Z" fill="#000"/>
<path d="M180.2 331 L180.2 333.9 L189.2 333.9 L181.2 331Z" fill="#2727F0"/>
<path d="M198.3 291.9 L198 293.1 L196.9 294.2 L195.8 295.3 L195.2 296.4 L194.3 297.6 L193.8 298.7 L192.6 299.8 L191.4 300.9 L191 302.1 L191.8 303.2 L191.2 304.3 L191.1 305.4 L190.9 306.6 L191.4 307.7 L191.6 308.8 L191.8 309.9 L191.7 311.1 L190.9 312.2 L191.8 313.3 L191.7 314.5 L191.8 315.6 L191 316.7 L191.4 317.8 L191.2 319 L191.4 320.1 L191.4 321.2 L191 322.3 L191.7 323.5 L191.4 324.6 L191.5 325.7 L191.8 326.8 L191.4 328 L190.9 329.1 L210.2 329.1 L210.3 328 L209.7 326.8 L209.5 325.7 L209.9 324.6 L209.6 323.5 L210.3 322.3 L210 321.2 L209.7 320.1 L209.9 319 L209.6 317.8 L210.1 316.7 L210.2 315.6 L210.1 314.5 L209.8 313.3 L209.4 312.2 L209.8 311.1 L210 309.9 L209.9 308.8 L209.5 307.7 L209.8 306.6 L210.3 305.4 L210.2 304.3 L209.9 303.2 L209.6 302.1 L209.6 300.9 L208.5 299.8 L207.8 298.7 L206.1 297.6 L205.6 296.4 L204.3 295.3 L204.4 294.2 L203.2 293.1 L203.3 291.9Z" fill="#000"/>
<path d="M200.8 295.2 L200.8 305.4 L200.8 320 L200.8 325.8 L200.8 330.2 L200.8 333.9 L209.8 333.9 L208.8 330.2 L206.8 325.8 L204.3 320 L203.3 305.4 L202 295.2Z" fill="#2727F0"/>
<path d="M180.9 311h1v1h-1zM177.8 320.9h1v1h-1zM174.2 327.3h1v1h-1zM176.7 305.5h1v1h-1zM173.1 310.9h1v1h-1zM177.3 313.7h1v1h-1zM176.2 315.5h1v1h-1zM176.5 327.8h1v1h-1zM173.3 323.3h1v1h-1zM176 309.3h1v1h-1zM186.7 318.2h1v1h-1zM186.2 307.7h1v1h-1zM173.4 305.2h1v1h-1zM171.7 321.8h1v1h-1zM182.5 310.4h1v1h-1zM178.2 319.7h1v1h-1zM183.1 311h1v1h-1zM185.6 322.6h1v1h-1zM181.9 319.7h1v1h-1zM173.2 324.5h1v1h-1zM183.7 303.7h1v1h-1zM171.9 309.4h1v1h-1zM174 328.6h1v1h-1zM176.4 324.1h1v1h-1zM171.9 318.9h1v1h-1zM182.1 320.9h1v1h-1zM185.5 324.6h1v1h-1zM183.4 313.5h1v1h-1zM178.6 322.5h1v1h-1zM177.1 310.2h1v1h-1zM185.4 329.7h1v1h-1zM176.1 307.6h1v1h-1zM185.7 328.5h1v1h-1zM172 312.4h1v1h-1zM173.1 322.8h1v1h-1zM174.8 307.2h1v1h-1zM183.9 303.7h1v1h-1zM183 327.3h1v1h-1zM183.9 318.5h1v1h-1zM176 306.1h1v1h-1zM187.3 327.2h1v1h-1zM187 317.6h1v1h-1zM183.8 310h1v1h-1zM181.9 306.1h1v1h-1zM172.1 316.8h1v1h-1zM178.5 309.8h1v1h-1zM187 315.1h1v1h-1zM184.2 326.1h1v1h-1zM183.1 328.5h1v1h-1zM175.6 306.8h1v1h-1zM187.7 314.2h1v1h-1zM180.4 311.6h1v1h-1zM172.2 322.6h1v1h-1zM178.2 319.5h1v1h-1zM176.5 324h1v1h-1zM183.2 325.8h1v1h-1zM175.2 310.6h1v1h-1zM180 322.8h1v1h-1zM187.1 317h1v1h-1zM176.3 319.7h1v1h-1zM207.5 325.3h1v1h-1zM195.8 303.1h1v1h-1zM199.2 322.1h1v1h-1zM200.7 296.7h1v1h-1zM191.7 325.2h1v1h-1zM205.4 325.4h1v1h-1zM201 322.4h1v1h-1zM203.4 318.3h1v1h-1zM193.9 314.7h1v1h-1zM200.2 295.2h1v1h-1zM205.5 302.5h1v1h-1zM198 292.3h1v1h-1zM194 316.2h1v1h-1zM206.6 309.9h1v1h-1zM194 298.2h1v1h-1zM205.7 322.5h1v1h-1zM198.2 302.9h1v1h-1zM194.1 311h1v1h-1zM198.9 296.4h1v1h-1zM200.8 295.3h1v1h-1zM197.1 326.7h1v1h-1zM207 321.2h1v1h-1zM192.1 306.5h1v1h-1zM197.7 323h1v1h-1zM201.4 311.3h1v1h-1zM197.5 314.4h1v1h-1zM201.5 329.5h1v1h-1zM191.7 316.6h1v1h-1zM208.6 311.6h1v1h-1zM193.9 327.9h1v1h-1zM196.1 303.3h1v1h-1zM200.1 318.9h1v1h-1zM201.3 319.4h1v1h-1zM208.1 308.9h1v1h-1zM199.2 290.6h1v1h-1zM204.8 307.6h1v1h-1zM202.1 295.3h1v1h-1zM202.5 304.8h1v1h-1zM196.3 315.4h1v1h-1zM204.9 298.4h1v1h-1zM201 292.7h1v1h-1zM204.7 317.7h1v1h-1zM200.3 300.6h1v1h-1zM197.5 304.7h1v1h-1zM198.5 308h1v1h-1zM197.3 327.3h1v1h-1zM208.6 317h1v1h-1zM197.8 310.7h1v1h-1zM195.5 320.1h1v1h-1zM193.7 316h1v1h-1z" fill="#fff"/>
<path d="M170.4 309h1.7v1.7h-1.7zM188.7 326.5h1.7v1.7h-1.7zM169.7 312.8h1.7v1.7h-1.7zM188.2 327.8h1.7v1.7h-1.7zM189.4 312.8h1.7v1.7h-1.7zM170.2 322.3h1.7v1.7h-1.7zM188.9 302.9h1.7v1.7h-1.7zM168.5 306.1h1.7v1.7h-1.7zM190.8 312.2h1.7v1.7h-1.7zM170.8 322.5h1.7v1.7h-1.7zM170 308.9h1.7v1.7h-1.7zM190.1 315.6h1.7v1.7h-1.7zM170.4 322.4h1.7v1.7h-1.7zM170.3 301.7h1.7v1.7h-1.7zM169.7 313.4h1.7v1.7h-1.7zM170.6 317.9h1.7v1.7h-1.7zM188.4 325.9h1.7v1.7h-1.7zM170.1 323.9h1.7v1.7h-1.7zM170.3 322.6h1.7v1.7h-1.7zM188.8 324.9h1.7v1.7h-1.7zM170.5 326.7h1.7v1.7h-1.7zM188.4 316.7h1.7v1.7h-1.7zM184.5 300.3h1.7v1.7h-1.7zM183.1 300h1.7v1.7h-1.7zM177.3 300.1h1.7v1.7h-1.7zM187 300.7h1.7v1.7h-1.7zM179.4 300.7h1.7v1.7h-1.7zM173.1 299.6h1.7v1.7h-1.7zM182.9 300.7h1.7v1.7h-1.7zM180.8 298.3h1.7v1.7h-1.7zM177.1 300.9h1.7v1.7h-1.7zM174.5 299.3h1.7v1.7h-1.7zM185.7 299.9h1.7v1.7h-1.7zM180.1 299.9h1.7v1.7h-1.7zM175.4 300.7h1.7v1.7h-1.7zM186.3 302.5h1.7v1.7h-1.7zM180.5 299.7h1.7v1.7h-1.7zM185 296.5h1.7v1.7h-1.7zM184 302.1h1.7v1.7h-1.7zM182.3 295.8h1.7v1.7h-1.7zM178.7 293.4h1.7v1.7h-1.7zM185.3 302.9h1.7v1.7h-1.7zM175.6 299.3h1.7v1.7h-1.7zM174.1 303.7h1.7v1.7h-1.7zM175.4 301.7h1.7v1.7h-1.7zM183 298h1.7v1.7h-1.7zM172.4 299.8h1.7v1.7h-1.7zM178.8 299.3h1.7v1.7h-1.7zM173.4 303.5h1.7v1.7h-1.7zM170.5 290.1h1.7v1.7h-1.7zM183.9 303.3h1.7v1.7h-1.7zM183.3 290.2h1.7v1.7h-1.7zM180.5 303h1.7v1.7h-1.7zM179.1 298.2h1.7v1.7h-1.7zM173.8 296.6h1.7v1.7h-1.7zM170.5 291.1h1.7v1.7h-1.7zM182 295.4h1.7v1.7h-1.7zM187.2 295h1.7v1.7h-1.7zM174.9 301h1.7v1.7h-1.7zM172.8 304.1h1.7v1.7h-1.7zM202.7 291h1.7v1.7h-1.7zM210.2 304.9h1.7v1.7h-1.7zM190.3 305.4h1.7v1.7h-1.7zM210.2 306.9h1.7v1.7h-1.7zM190.8 317.6h1.7v1.7h-1.7zM195.2 294.5h1.7v1.7h-1.7zM189.3 311.7h1.7v1.7h-1.7zM189.9 303.3h1.7v1.7h-1.7zM209.1 308.5h1.7v1.7h-1.7zM189.9 313.7h1.7v1.7h-1.7zM188.7 307.8h1.7v1.7h-1.7zM194.1 295.4h1.7v1.7h-1.7zM190.2 319.5h1.7v1.7h-1.7zM190.5 307.5h1.7v1.7h-1.7zM208.8 309.1h1.7v1.7h-1.7zM189.8 326.2h1.7v1.7h-1.7zM204.3 295.3h1.7v1.7h-1.7zM211.3 301.2h1.7v1.7h-1.7zM188.6 300.9h1.7v1.7h-1.7zM192.8 296.6h1.7v1.7h-1.7zM211.2 307.2h1.7v1.7h-1.7zM209.3 324h1.7v1.7h-1.7zM190.7 314.7h1.7v1.7h-1.7zM190.4 305.9h1.7v1.7h-1.7zM210.3 312.6h1.7v1.7h-1.7zM211 304.9h1.7v1.7h-1.7zM194.5 295h1.7v1.7h-1.7zM191 300h1.7v1.7h-1.7zM192.2 296.8h1.7v1.7h-1.7zM210.3 314.7h1.7v1.7h-1.7zM209.1 327.7h1.7v1.7h-1.7zM199.2 287.9h1.7v1.7h-1.7zM191.1 290h1.7v1.7h-1.7zM199.2 295h1.7v1.7h-1.7zM201.2 296.6h1.7v1.7h-1.7zM194 299.4h1.7v1.7h-1.7zM196.4 296.6h1.7v1.7h-1.7zM204.1 293.7h1.7v1.7h-1.7zM207.9 296.2h1.7v1.7h-1.7zM207.6 293.4h1.7v1.7h-1.7zM192.4 298.1h1.7v1.7h-1.7zM201.4 288.6h1.7v1.7h-1.7zM197.4 291.1h1.7v1.7h-1.7zM198.7 290h1.7v1.7h-1.7zM192.2 294.5h1.7v1.7h-1.7zM207.2 296.9h1.7v1.7h-1.7zM195.6 299.9h1.7v1.7h-1.7zM225.9 314.6h1.7v1.7h-1.7zM226.6 319.6h1.7v1.7h-1.7zM238.2 300.6h1.7v1.7h-1.7zM244 313.1h1.7v1.7h-1.7zM244.5 315.6h1.7v1.7h-1.7zM233.3 312.8h1.7v1.7h-1.7zM233.1 305h1.7v1.7h-1.7zM238.3 309.9h1.7v1.7h-1.7zM243.1 318.5h1.7v1.7h-1.7zM240.6 327.4h1.7v1.7h-1.7zM249 307.3h1.7v1.7h-1.7zM270.7 329.6h1.7v1.7h-1.7zM264 315h1.7v1.7h-1.7zM258.9 328.8h1.7v1.7h-1.7zM255.8 327.7h1.7v1.7h-1.7zM266.8 328.9h1.7v1.7h-1.7zM267.6 321.6h1.7v1.7h-1.7zM262.6 317.9h1.7v1.7h-1.7zM262.9 316.4h1.7v1.7h-1.7zM263.8 323.6h1.7v1.7h-1.7zM266.3 325.2h1.7v1.7h-1.7z" fill="#000"/>
<path d="M202.1 327h1.1v1.1h-1.1zM200.9 306.1h1.1v1.1h-1.1zM201 317.9h1.1v1.1h-1.1zM202.8 310h1.1v1.1h-1.1zM200.8 308.2h1.1v1.1h-1.1zM202.7 304.9h1.1v1.1h-1.1zM200.5 310.1h1.1v1.1h-1.1zM202.2 302h1.1v1.1h-1.1zM200.8 320.1h1.1v1.1h-1.1zM203.7 326h1.1v1.1h-1.1z" fill="#000"/>
<rect x="171.2" y="333.3" width="18" height="2.5" fill="#000"/>
<rect x="191.8" y="333.3" width="18" height="2.5" fill="#000"/>
<rect x="212.5" y="333.3" width="18" height="2.5" fill="#000"/>
<rect x="233.1" y="333.3" width="18" height="2.5" fill="#000"/>
<rect x="253.8" y="333.3" width="18" height="2.5" fill="#000"/>
<path d="M168 285.2V336.7H275.3" fill="none" stroke="#3a3a3a" stroke-width="1"/>
<path d="M168 334.6h-2" stroke="#3a3a3a" stroke-width="0.9"/>
<text x="164.1" y="337.7" font-size="7.2" font-weight="normal" fill="#111" text-anchor="end">0</text>
<path d="M168 320h-2" stroke="#3a3a3a" stroke-width="0.9"/>
<text x="164.1" y="323.1" font-size="7.2" font-weight="normal" fill="#111" text-anchor="end">1</text>
<path d="M168 305.4h-2" stroke="#3a3a3a" stroke-width="0.9"/>
<text x="164.1" y="308.5" font-size="7.2" font-weight="normal" fill="#111" text-anchor="end">2</text>
<path d="M168 290.8h-2" stroke="#3a3a3a" stroke-width="0.9"/>
<text x="164.1" y="293.9" font-size="7.2" font-weight="normal" fill="#111" text-anchor="end">3</text>
<path d="M180.2 336.7v2" stroke="#3a3a3a" stroke-width="0.9"/>
<text x="0" y="0" font-size="7.1" font-weight="normal" fill="#111" text-anchor="end" stroke="#111" stroke-width="0.12" transform="translate(184.8 344.2) rotate(-45)">Tenocyte A</text>
<path d="M200.8 336.7v2" stroke="#3a3a3a" stroke-width="0.9"/>
<text x="0" y="0" font-size="7.1" font-weight="normal" fill="#111" text-anchor="end" stroke="#111" stroke-width="0.12" transform="translate(205.4 344.2) rotate(-45)">Tenocyte B</text>
<path d="M221.5 336.7v2" stroke="#3a3a3a" stroke-width="0.9"/>
<text x="0" y="0" font-size="7.1" font-weight="normal" fill="#111" text-anchor="end" stroke="#111" stroke-width="0.12" transform="translate(226.1 344.2) rotate(-45)">Tenocyte C</text>
<path d="M242.1 336.7v2" stroke="#3a3a3a" stroke-width="0.9"/>
<text x="0" y="0" font-size="7.1" font-weight="normal" fill="#111" text-anchor="end" stroke="#111" stroke-width="0.12" transform="translate(246.7 344.2) rotate(-45)">Tenocyte D</text>
<path d="M262.8 336.7v2" stroke="#3a3a3a" stroke-width="0.9"/>
<text x="0" y="0" font-size="7.1" font-weight="normal" fill="#111" text-anchor="end" stroke="#111" stroke-width="0.12" transform="translate(267.4 344.2) rotate(-45)">Tenocyte E</text>
<text x="221.7" y="378.8" font-size="8" font-weight="normal" fill="#111" text-anchor="middle" stroke="#111" stroke-width="0.1">Identity</text>
<text x="0" y="0" font-size="7.8" font-weight="normal" fill="#111" text-anchor="middle" stroke="#111" stroke-width="0.1" transform="translate(155.9 311.6) rotate(-90)">Expression Level</text>
<text x="356.1" y="281.1" font-size="8.3" font-weight="bold" fill="#111" text-anchor="middle" stroke="#111" stroke-width="0.25" textLength="24.9" lengthAdjust="spacingAndGlyphs">TGFB1</text>
<path d="M314.6 334.6V297.6" stroke="#8c8c8c" stroke-width="1"/>
<path d="M335.2 334.6V295.9" stroke="#8c8c8c" stroke-width="1"/>
<path d="M355.9 334.6V288" stroke="#8c8c8c" stroke-width="1"/>
<path d="M376.5 334.6V290.6" stroke="#8c8c8c" stroke-width="1"/>
<path d="M397.2 334.6V291.5" stroke="#8c8c8c" stroke-width="1"/>
<path d="M310.9 301.2 L309.1 302.3 L307.4 303.4 L306.9 304.6 L306.4 305.7 L306.4 306.8 L305.6 308 L305.2 309.1 L305 310.3 L305.2 311.4 L306 312.5 L305.9 313.7 L305.4 314.8 L305.1 315.9 L305.9 317.1 L305.3 318.2 L305.8 319.3 L305.2 320.5 L305 321.6 L305.4 322.8 L305.2 323.9 L305.7 325 L305.9 326.2 L306.9 327.3 L308.2 328.4 L317.5 328.4 L321.4 327.3 L323.7 326.2 L323.9 325 L323.5 323.9 L323.3 322.8 L323.5 321.6 L323.2 320.5 L323 319.3 L323.9 318.2 L323.2 317.1 L323.4 315.9 L323.2 314.8 L323.5 313.7 L323.1 312.5 L323.1 311.4 L323.2 310.3 L323.4 309.1 L323.6 308 L322.6 306.8 L323.1 305.7 L322.1 304.6 L322 303.4 L319.6 302.3 L318.4 301.2 L316.4 300.2 L315.2 300.8 L314 300.6 L312.8 301.1Z" fill="#000"/>
<path d="M314.6 324 L314.6 329.3 L314.6 333.7 L323.6 333.7 L319.6 329.3 L315.1 324Z" fill="#2727F0"/>
<path d="M333.4 299.4 L332.4 300.5 L331.9 301.7 L330.6 302.8 L330.2 303.9 L329.3 305 L327.6 306.2 L327 307.3 L326.3 308.4 L326 309.5 L326.2 310.7 L325.9 311.8 L326 312.9 L326.1 314 L326.3 315.2 L326.3 316.3 L326.4 317.4 L326.6 318.5 L325.9 319.7 L326.3 320.8 L325.8 321.9 L326 323.1 L326.4 324.2 L325.9 325.3 L326.3 326.4 L326.2 327.6 L344.2 327.6 L343.9 326.4 L344.5 325.3 L344.3 324.2 L344.7 323.1 L343.9 321.9 L344.1 320.8 L344.1 319.7 L344 318.5 L344.4 317.4 L343.9 316.3 L344.2 315.2 L344.1 314 L344.2 312.9 L344 311.8 L344.6 310.7 L344.3 309.5 L344.8 308.4 L343.1 307.3 L342.6 306.2 L341.4 305 L340.4 303.9 L339.3 302.8 L339 301.7 L337.3 300.5 L337.1 299.4Z" fill="#000"/>
<path d="M335.2 301.2 L335.2 313.5 L335.2 324 L335.2 329.3 L335.2 333.7 L344.2 333.7 L341.7 329.3 L339.2 324 L337.2 313.5 L336.2 301.2Z" fill="#2727F0"/>
<path d="M396.6 304 L396.5 305.1 L396.3 306.2 L396.3 307.3 L396.5 308.4 L396.3 309.5 L396.4 310.6 L396.4 311.7 L396.3 312.8 L396.2 313.9 L396.2 315 L396.1 316.1 L396.1 317.2 L396.3 318.3 L396.1 319.4 L396.2 320.5 L396.1 321.6 L396.2 322.7 L396.2 323.8 L396.2 324.9 L396 326 L395.7 327.1 L395.6 328.2 L394.6 329.3 L393.1 330.4 L391.8 331.5 L390.4 332.6 L398.3 332.6 L398.1 331.5 L398 330.4 L398.1 329.3 L398.3 328.2 L398.2 327.1 L398.5 326 L398.3 324.9 L398.3 323.8 L398.4 322.7 L398.4 321.6 L398.1 320.5 L398.3 319.4 L398.2 318.3 L398.1 317.2 L398.2 316.1 L398.1 315 L398.2 313.9 L398.3 312.8 L398.1 311.7 L398.2 310.6 L398.1 309.5 L398 308.4 L398 307.3 L397.9 306.2 L398.1 305.1 L397.9 304Z" fill="#000"/>
<path d="M312.8 324.2h1v1h-1zM317.2 323.1h1v1h-1zM318 323.9h1v1h-1zM307.4 314.3h1v1h-1zM313.9 318.3h1v1h-1zM312.2 302.9h1v1h-1zM321.9 322.1h1v1h-1zM317.4 303.8h1v1h-1zM308.5 320.5h1v1h-1zM306.7 320.7h1v1h-1zM313.5 326.8h1v1h-1zM315 316.8h1v1h-1zM305.7 318h1v1h-1zM316.6 309.2h1v1h-1zM314.8 313.1h1v1h-1zM322.2 309.1h1v1h-1zM317.2 304.1h1v1h-1zM310.9 317h1v1h-1zM322 316.5h1v1h-1zM312.1 317.4h1v1h-1zM307.9 316.8h1v1h-1zM311.1 300.7h1v1h-1zM321.2 311.4h1v1h-1zM315.9 321h1v1h-1zM309.6 317.7h1v1h-1zM340.9 319.9h1v1h-1zM334.9 311.4h1v1h-1zM327 315.2h1v1h-1zM341.1 318.5h1v1h-1zM338.9 304.5h1v1h-1zM329.6 319.8h1v1h-1zM335.4 325.6h1v1h-1zM334.1 316.5h1v1h-1zM336.2 313.3h1v1h-1zM339.9 316.8h1v1h-1zM342 321.4h1v1h-1zM327 311.4h1v1h-1zM335.3 318.2h1v1h-1zM335.9 315.5h1v1h-1zM330.9 317.9h1v1h-1zM332.3 304.6h1v1h-1zM339.6 307.1h1v1h-1zM334 310.4h1v1h-1zM334.5 300.7h1v1h-1zM331.3 302.3h1v1h-1zM337.1 314.8h1v1h-1zM341 325.7h1v1h-1zM336.4 325h1v1h-1zM342 322h1v1h-1zM339.9 311.3h1v1h-1z" fill="#fff"/>
<path d="M319.7 301.8h1.7v1.7h-1.7zM305.1 321.5h1.7v1.7h-1.7zM303.9 321.3h1.7v1.7h-1.7zM323.2 306.9h1.7v1.7h-1.7zM325.8 321.7h1.7v1.7h-1.7zM322.8 323.3h1.7v1.7h-1.7zM322.8 307.1h1.7v1.7h-1.7zM302.6 319.9h1.7v1.7h-1.7zM322.4 323.2h1.7v1.7h-1.7zM303 311.3h1.7v1.7h-1.7zM323.3 321.9h1.7v1.7h-1.7zM322.6 317.8h1.7v1.7h-1.7zM321.7 304h1.7v1.7h-1.7zM302.7 319.5h1.7v1.7h-1.7zM318.8 327.3h1.7v1.7h-1.7zM322.7 323.5h1.7v1.7h-1.7zM304.7 309h1.7v1.7h-1.7zM322.7 318.3h1.7v1.7h-1.7zM307.5 300.9h1.7v1.7h-1.7zM322.3 321.2h1.7v1.7h-1.7zM304.8 313.8h1.7v1.7h-1.7zM313.3 300.1h1.7v1.7h-1.7zM316.7 300.2h1.7v1.7h-1.7zM312.6 299.9h1.7v1.7h-1.7zM313.7 299.9h1.7v1.7h-1.7zM308.3 307.5h1.7v1.7h-1.7zM319.9 298.1h1.7v1.7h-1.7zM321.1 308.4h1.7v1.7h-1.7zM317.2 304.5h1.7v1.7h-1.7zM316.4 301.4h1.7v1.7h-1.7zM310.4 295.4h1.7v1.7h-1.7zM304.8 298.6h1.7v1.7h-1.7zM320.1 301.9h1.7v1.7h-1.7zM315.4 295.1h1.7v1.7h-1.7zM309 300.2h1.7v1.7h-1.7zM318.1 303.8h1.7v1.7h-1.7zM317.6 303.6h1.7v1.7h-1.7zM314.2 300.5h1.7v1.7h-1.7zM316.9 304.6h1.7v1.7h-1.7zM316.1 301.5h1.7v1.7h-1.7zM308.8 300.5h1.7v1.7h-1.7zM309.5 296.3h1.7v1.7h-1.7zM313.3 299h1.7v1.7h-1.7zM314.1 302.4h1.7v1.7h-1.7zM308.7 307.1h1.7v1.7h-1.7zM321.4 301.7h1.7v1.7h-1.7zM314.2 301.7h1.7v1.7h-1.7zM319.4 305.7h1.7v1.7h-1.7zM307.9 297.5h1.7v1.7h-1.7zM313 300.1h1.7v1.7h-1.7zM325 306.6h1.7v1.7h-1.7zM327.9 303.9h1.7v1.7h-1.7zM343.7 315.9h1.7v1.7h-1.7zM336.4 299.4h1.7v1.7h-1.7zM343.2 316.2h1.7v1.7h-1.7zM327.1 305.4h1.7v1.7h-1.7zM324.2 311.9h1.7v1.7h-1.7zM344.2 326h1.7v1.7h-1.7zM325.1 313.7h1.7v1.7h-1.7zM344.1 313.4h1.7v1.7h-1.7zM323.6 314.3h1.7v1.7h-1.7zM343.2 307.8h1.7v1.7h-1.7zM325.1 315.4h1.7v1.7h-1.7zM342.4 305h1.7v1.7h-1.7zM323.8 323.4h1.7v1.7h-1.7zM324.8 323.8h1.7v1.7h-1.7zM343.1 305.5h1.7v1.7h-1.7zM325.8 306.7h1.7v1.7h-1.7zM344.4 325.2h1.7v1.7h-1.7zM336.2 298.6h1.7v1.7h-1.7zM329.6 302.2h1.7v1.7h-1.7zM344.3 326.5h1.7v1.7h-1.7zM333.9 298.5h1.7v1.7h-1.7zM334.4 299.6h1.7v1.7h-1.7zM337.5 305h1.7v1.7h-1.7zM329.2 297.3h1.7v1.7h-1.7zM328 296.2h1.7v1.7h-1.7zM329.1 307.7h1.7v1.7h-1.7zM327.1 298.1h1.7v1.7h-1.7zM342.5 303.3h1.7v1.7h-1.7zM337.3 305.5h1.7v1.7h-1.7zM341.7 299.5h1.7v1.7h-1.7zM328.2 308.3h1.7v1.7h-1.7zM337.9 308.5h1.7v1.7h-1.7zM340.5 305h1.7v1.7h-1.7zM329.6 300.9h1.7v1.7h-1.7zM331.1 301.2h1.7v1.7h-1.7zM328.2 296.3h1.7v1.7h-1.7zM331.2 297.3h1.7v1.7h-1.7zM328.1 297.9h1.7v1.7h-1.7zM343 303.6h1.7v1.7h-1.7zM326 303.8h1.7v1.7h-1.7zM336.9 306h1.7v1.7h-1.7zM355.5 302.5h1.7v1.7h-1.7zM359.6 313.1h1.7v1.7h-1.7zM355 302.2h1.7v1.7h-1.7zM354.8 307h1.7v1.7h-1.7zM361.6 312.7h1.7v1.7h-1.7zM347.6 320.7h1.7v1.7h-1.7zM348.6 317.8h1.7v1.7h-1.7zM361.3 313.6h1.7v1.7h-1.7zM350.1 290.6h1.7v1.7h-1.7zM356.8 308.7h1.7v1.7h-1.7zM363.5 312h1.7v1.7h-1.7zM357.9 323.9h1.7v1.7h-1.7zM347 291.6h1.7v1.7h-1.7zM350.5 316.1h1.7v1.7h-1.7zM359.4 301.7h1.7v1.7h-1.7zM351.4 303.5h1.7v1.7h-1.7zM347.3 295.5h1.7v1.7h-1.7zM356 314.9h1.7v1.7h-1.7zM360.2 312.4h1.7v1.7h-1.7zM346.7 319.8h1.7v1.7h-1.7zM355.3 317h1.7v1.7h-1.7zM348.4 299.4h1.7v1.7h-1.7zM356.5 302.9h1.7v1.7h-1.7zM358 316.5h1.7v1.7h-1.7zM349 303.4h1.7v1.7h-1.7zM352 299.7h1.7v1.7h-1.7zM361.2 290.7h1.7v1.7h-1.7zM348.7 303.1h1.7v1.7h-1.7zM347.7 318.8h1.7v1.7h-1.7zM355 307.4h1.7v1.7h-1.7zM355.7 314.2h1.7v1.7h-1.7zM349 302.8h1.7v1.7h-1.7zM355.7 303.5h1.7v1.7h-1.7zM349.6 320.1h1.7v1.7h-1.7zM353.3 311.3h1.7v1.7h-1.7zM350.4 309.4h1.7v1.7h-1.7zM361.7 306h1.7v1.7h-1.7zM346.3 311.1h1.7v1.7h-1.7zM360.3 300.4h1.7v1.7h-1.7zM356.3 314.8h1.7v1.7h-1.7zM359.6 313.5h1.7v1.7h-1.7zM348.8 317.3h1.7v1.7h-1.7zM353.1 311.1h1.7v1.7h-1.7zM355.4 308.5h1.7v1.7h-1.7zM347.6 316.2h1.7v1.7h-1.7zM356.5 291.2h1.7v1.7h-1.7zM360.2 309.6h1.7v1.7h-1.7zM358.8 297.9h1.7v1.7h-1.7zM356.8 304.1h1.7v1.7h-1.7zM363.7 308.1h1.7v1.7h-1.7zM358.5 297.9h1.7v1.7h-1.7zM360.7 307.4h1.7v1.7h-1.7zM354.4 320.5h1.7v1.7h-1.7zM362.6 296.1h1.7v1.7h-1.7zM353.5 287.9h1.7v1.7h-1.7zM353.4 309.3h1.7v1.7h-1.7zM359.3 304.7h1.7v1.7h-1.7zM358.3 307.1h1.7v1.7h-1.7zM348.6 305.7h1.7v1.7h-1.7zM349.6 303.6h1.7v1.7h-1.7zM384.3 314.8h1.7v1.7h-1.7zM384.7 309.2h1.7v1.7h-1.7zM375.7 313.8h1.7v1.7h-1.7zM380.7 324.9h1.7v1.7h-1.7zM378.2 305.1h1.7v1.7h-1.7zM370.3 323.4h1.7v1.7h-1.7zM380.9 327h1.7v1.7h-1.7zM368.4 327h1.7v1.7h-1.7zM369.6 317.6h1.7v1.7h-1.7zM384.1 323.3h1.7v1.7h-1.7zM369.1 322.3h1.7v1.7h-1.7zM381.6 327.7h1.7v1.7h-1.7zM380.1 300.3h1.7v1.7h-1.7zM381.7 322.8h1.7v1.7h-1.7zM374.5 312.7h1.7v1.7h-1.7zM381.6 326.2h1.7v1.7h-1.7zM372.1 312.7h1.7v1.7h-1.7zM383.7 306.7h1.7v1.7h-1.7zM368.8 318.5h1.7v1.7h-1.7zM371.2 302.5h1.7v1.7h-1.7zM381.8 318.9h1.7v1.7h-1.7zM374.9 315.6h1.7v1.7h-1.7zM371 310.9h1.7v1.7h-1.7zM379 315.3h1.7v1.7h-1.7zM380.8 318.1h1.7v1.7h-1.7zM381 323.8h1.7v1.7h-1.7zM381.6 323.9h1.7v1.7h-1.7zM378.4 319h1.7v1.7h-1.7zM381.8 314.3h1.7v1.7h-1.7zM381.8 321.8h1.7v1.7h-1.7zM381 307.1h1.7v1.7h-1.7zM367 307h1.7v1.7h-1.7zM368.7 315.9h1.7v1.7h-1.7zM377.6 313h1.7v1.7h-1.7zM374.9 323.8h1.7v1.7h-1.7zM373.1 319h1.7v1.7h-1.7zM381.9 311.4h1.7v1.7h-1.7zM368.3 321h1.7v1.7h-1.7zM371.6 320.6h1.7v1.7h-1.7zM378.6 318.7h1.7v1.7h-1.7zM381.2 324.3h1.7v1.7h-1.7zM367.4 307.4h1.7v1.7h-1.7zM381.5 307.9h1.7v1.7h-1.7zM383.9 313.6h1.7v1.7h-1.7zM373.2 310.4h1.7v1.7h-1.7zM377.7 313.5h1.7v1.7h-1.7zM382.8 299.7h1.7v1.7h-1.7zM383.9 323.5h1.7v1.7h-1.7zM375.8 310.4h1.7v1.7h-1.7zM381.7 311h1.7v1.7h-1.7zM369.6 316.5h1.7v1.7h-1.7zM369.9 316.4h1.7v1.7h-1.7zM383.7 316.2h1.7v1.7h-1.7zM371.2 330h1.7v1.7h-1.7zM373 312.1h1.7v1.7h-1.7zM382.2 308.1h1.7v1.7h-1.7zM375.9 310.2h1.7v1.7h-1.7zM382.8 329.2h1.7v1.7h-1.7zM378.7 303.4h1.7v1.7h-1.7zM374.7 306.3h1.7v1.7h-1.7zM383.9 311.1h1.7v1.7h-1.7zM378.1 323.7h1.7v1.7h-1.7zM373.5 307.3h1.7v1.7h-1.7zM383 327.9h1.7v1.7h-1.7zM375.7 317.8h1.7v1.7h-1.7zM367.7 330.3h1.7v1.7h-1.7zM381.7 299.8h1.7v1.7h-1.7zM374.8 320.3h1.7v1.7h-1.7zM380.2 325.4h1.7v1.7h-1.7zM380.2 306.2h1.7v1.7h-1.7zM394.1 324.7h1.7v1.7h-1.7zM394.8 304.9h1.7v1.7h-1.7zM394.2 308.9h1.7v1.7h-1.7zM398.7 328.2h1.7v1.7h-1.7zM397.4 312.2h1.7v1.7h-1.7zM394.1 324.4h1.7v1.7h-1.7zM398.1 324h1.7v1.7h-1.7zM399.5 324.9h1.7v1.7h-1.7zM394.9 315.4h1.7v1.7h-1.7zM395.7 303.9h1.7v1.7h-1.7zM397.6 316h1.7v1.7h-1.7zM395.4 312h1.7v1.7h-1.7zM397.9 323.4h1.7v1.7h-1.7zM397.7 303.1h1.7v1.7h-1.7zM399.2 320.7h1.7v1.7h-1.7zM393.9 310h1.7v1.7h-1.7zM394 322.1h1.7v1.7h-1.7zM398.8 306h1.7v1.7h-1.7zM395.5 305.1h1.7v1.7h-1.7zM394.2 322.4h1.7v1.7h-1.7zM397.8 306.6h1.7v1.7h-1.7zM394.7 315.1h1.7v1.7h-1.7zM397.5 306.9h1.7v1.7h-1.7zM394.7 307h1.7v1.7h-1.7zM396.4 330.4h1.7v1.7h-1.7zM400.7 299.5h1.7v1.7h-1.7zM402.1 328.5h1.7v1.7h-1.7zM389.7 328h1.7v1.7h-1.7zM398.4 320.4h1.7v1.7h-1.7zM392.3 330.6h1.7v1.7h-1.7zM402.2 304.1h1.7v1.7h-1.7zM392.3 310.7h1.7v1.7h-1.7zM389 314.6h1.7v1.7h-1.7zM399.5 309.4h1.7v1.7h-1.7zM393.8 298.9h1.7v1.7h-1.7zM399.9 318.9h1.7v1.7h-1.7zM393.2 299.5h1.7v1.7h-1.7zM387.4 308h1.7v1.7h-1.7zM392.3 319.8h1.7v1.7h-1.7zM388.4 320h1.7v1.7h-1.7zM401.9 327.8h1.7v1.7h-1.7zM388.1 312h1.7v1.7h-1.7zM391.4 314h1.7v1.7h-1.7zM398.7 320.3h1.7v1.7h-1.7zM397.6 320.8h1.7v1.7h-1.7zM391.3 308.8h1.7v1.7h-1.7zM402.5 314.4h1.7v1.7h-1.7zM401.9 322.5h1.7v1.7h-1.7zM401.4 318.5h1.7v1.7h-1.7zM387.9 316.7h1.7v1.7h-1.7zM388.5 326.3h1.7v1.7h-1.7zM398.7 316.4h1.7v1.7h-1.7zM394.6 318.2h1.7v1.7h-1.7zM396.6 328.8h1.7v1.7h-1.7zM403 322h1.7v1.7h-1.7zM405.3 319.8h1.7v1.7h-1.7zM393.3 307.9h1.7v1.7h-1.7zM396 312.4h1.7v1.7h-1.7zM389.8 316.5h1.7v1.7h-1.7zM400.1 330.2h1.7v1.7h-1.7zM395.5 312h1.7v1.7h-1.7zM394.6 319.6h1.7v1.7h-1.7zM392.4 310.9h1.7v1.7h-1.7zM396.6 310.7h1.7v1.7h-1.7zM395.2 301.3h1.7v1.7h-1.7zM390.9 311.3h1.7v1.7h-1.7zM392.1 301.9h1.7v1.7h-1.7zM404.9 330.1h1.7v1.7h-1.7zM400.8 321.7h1.7v1.7h-1.7zM400.4 295.5h1.7v1.7h-1.7zM400.3 323.1h1.7v1.7h-1.7zM387.6 310.1h1.7v1.7h-1.7zM402.9 313.6h1.7v1.7h-1.7zM392.1 318.5h1.7v1.7h-1.7zM393.7 329.6h1.7v1.7h-1.7zM405.2 309.1h1.7v1.7h-1.7zM392.9 304.4h1.7v1.7h-1.7zM393.7 310.4h1.7v1.7h-1.7zM403.5 314.5h1.7v1.7h-1.7zM389.2 312.6h1.7v1.7h-1.7zM389.3 326.2h1.7v1.7h-1.7zM395.8 306.6h1.7v1.7h-1.7zM405.2 302.3h1.7v1.7h-1.7zM395.9 301.5h1.7v1.7h-1.7zM402.1 325.2h1.7v1.7h-1.7zM397.5 312.9h1.7v1.7h-1.7zM396.5 312.8h1.7v1.7h-1.7zM387.7 314.3h1.7v1.7h-1.7zM403.7 309h1.7v1.7h-1.7zM405 321.9h1.7v1.7h-1.7zM394.3 330.6h1.7v1.7h-1.7zM402 310.1h1.7v1.7h-1.7zM387.6 313.3h1.7v1.7h-1.7zM391.2 320.5h1.7v1.7h-1.7zM387.5 324.3h1.7v1.7h-1.7zM402.3 321h1.7v1.7h-1.7zM388.1 313.7h1.7v1.7h-1.7zM403.4 326.7h1.7v1.7h-1.7zM393.2 319.8h1.7v1.7h-1.7zM398.6 316.9h1.7v1.7h-1.7zM398.9 307.8h1.7v1.7h-1.7zM391.1 323.5h1.7v1.7h-1.7zM394.2 315.3h1.7v1.7h-1.7zM389.2 295.1h1.7v1.7h-1.7zM390.9 320.4h1.7v1.7h-1.7zM395.6 318.9h1.7v1.7h-1.7zM400.1 328h1.7v1.7h-1.7zM395.3 323.2h1.7v1.7h-1.7zM388.3 302h1.7v1.7h-1.7zM395.8 309.7h1.7v1.7h-1.7zM400.2 327.9h1.7v1.7h-1.7zM391.7 307.7h1.7v1.7h-1.7zM395.8 324.9h1.7v1.7h-1.7zM389.9 328.1h1.7v1.7h-1.7z" fill="#000"/>
<path d="M334.9 315.4h1.1v1.1h-1.1zM336.9 318h1.1v1.1h-1.1zM336.9 319.2h1.1v1.1h-1.1zM340.4 329.4h1.1v1.1h-1.1zM340.9 329.2h1.1v1.1h-1.1zM335.6 300.7h1.1v1.1h-1.1z" fill="#000"/>
<rect x="305.6" y="333.3" width="18" height="2.5" fill="#000"/>
<rect x="326.2" y="333.3" width="18" height="2.5" fill="#000"/>
<rect x="346.9" y="333.3" width="18" height="2.5" fill="#000"/>
<rect x="367.5" y="333.3" width="18" height="2.5" fill="#000"/>
<rect x="388.2" y="333.3" width="18" height="2.5" fill="#000"/>
<path d="M302.4 285.2V336.7H409.7" fill="none" stroke="#3a3a3a" stroke-width="1"/>
<path d="M302.4 334.6h-2" stroke="#3a3a3a" stroke-width="0.9"/>
<text x="298.5" y="337.7" font-size="7.2" font-weight="normal" fill="#111" text-anchor="end">0</text>
<path d="M302.4 317h-2" stroke="#3a3a3a" stroke-width="0.9"/>
<text x="298.5" y="320.1" font-size="7.2" font-weight="normal" fill="#111" text-anchor="end">1</text>
<path d="M302.4 299.4h-2" stroke="#3a3a3a" stroke-width="0.9"/>
<text x="298.5" y="302.5" font-size="7.2" font-weight="normal" fill="#111" text-anchor="end">2</text>
<path d="M314.6 336.7v2" stroke="#3a3a3a" stroke-width="0.9"/>
<text x="0" y="0" font-size="7.1" font-weight="normal" fill="#111" text-anchor="end" stroke="#111" stroke-width="0.12" transform="translate(319.2 344.2) rotate(-45)">Tenocyte A</text>
<path d="M335.2 336.7v2" stroke="#3a3a3a" stroke-width="0.9"/>
<text x="0" y="0" font-size="7.1" font-weight="normal" fill="#111" text-anchor="end" stroke="#111" stroke-width="0.12" transform="translate(339.8 344.2) rotate(-45)">Tenocyte B</text>
<path d="M355.9 336.7v2" stroke="#3a3a3a" stroke-width="0.9"/>
<text x="0" y="0" font-size="7.1" font-weight="normal" fill="#111" text-anchor="end" stroke="#111" stroke-width="0.12" transform="translate(360.5 344.2) rotate(-45)">Tenocyte C</text>
<path d="M376.5 336.7v2" stroke="#3a3a3a" stroke-width="0.9"/>
<text x="0" y="0" font-size="7.1" font-weight="normal" fill="#111" text-anchor="end" stroke="#111" stroke-width="0.12" transform="translate(381.1 344.2) rotate(-45)">Tenocyte D</text>
<path d="M397.2 336.7v2" stroke="#3a3a3a" stroke-width="0.9"/>
<text x="0" y="0" font-size="7.1" font-weight="normal" fill="#111" text-anchor="end" stroke="#111" stroke-width="0.12" transform="translate(401.8 344.2) rotate(-45)">Tenocyte E</text>
<text x="356.1" y="378.8" font-size="8" font-weight="normal" fill="#111" text-anchor="middle" stroke="#111" stroke-width="0.1">Identity</text>
<text x="0" y="0" font-size="7.8" font-weight="normal" fill="#111" text-anchor="middle" stroke="#111" stroke-width="0.1" transform="translate(290.3 311.6) rotate(-90)">Expression Level</text>
<text x="490.5" y="281.1" font-size="8.3" font-weight="bold" fill="#111" text-anchor="middle" stroke="#111" stroke-width="0.25" textLength="30" lengthAdjust="spacingAndGlyphs">COL4A1</text>
<path d="M449 334.6V307.8" stroke="#8c8c8c" stroke-width="1"/>
<path d="M469.6 334.6V298.4" stroke="#8c8c8c" stroke-width="1"/>
<path d="M490.3 334.6V287.7" stroke="#8c8c8c" stroke-width="1"/>
<path d="M510.9 334.6V294.4" stroke="#8c8c8c" stroke-width="1"/>
<path d="M531.6 334.6V315.8" stroke="#8c8c8c" stroke-width="1"/>
<path d="M440.5 320.4 L441.2 321.6 L440.1 322.8 L440.6 324 L440 325.1 L440 326.3 L440.5 327.5 L439.6 328.7 L457.6 328.7 L458.4 327.5 L457.3 326.3 L457.8 325.1 L457.8 324 L457.1 322.8 L457 321.6 L457.2 320.4 L455.2 319.2 L454 319 L452.8 318.9 L451.5 318.3 L450.2 318.6 L449 318.3 L447.8 318.5 L446.5 319 L445.2 318.3 L444 318.9 L442.8 319.1Z" fill="#000"/>
<path d="M468 301.1 L467.2 302.2 L464.9 303.4 L463.8 304.5 L462.7 305.6 L462.4 306.8 L460.9 307.9 L460.5 309 L460.8 310.2 L461 311.3 L460.9 312.4 L460.7 313.6 L460.9 314.7 L460.8 315.8 L460.5 317 L460.8 318.1 L460.8 319.2 L460.3 320.4 L460.9 321.5 L460.7 322.6 L460.4 323.8 L460.2 324.9 L460.4 326 L460.8 327.2 L460.6 328.3 L460.6 329.4 L478.8 329.4 L478.2 328.3 L478.1 327.2 L478.9 326 L478.1 324.9 L478.5 323.8 L478.4 322.6 L478.3 321.5 L478.3 320.4 L478.4 319.2 L478.8 318.1 L478.2 317 L478.4 315.8 L478.8 314.7 L478.8 313.6 L479 312.4 L478.9 311.3 L478.1 310.2 L478.5 309 L477.4 307.9 L476.1 306.8 L475.3 305.6 L474.6 304.5 L473.1 303.4 L472 302.2 L470.9 301.1Z" fill="#000"/>
<path d="M470.6 327.2 L469.6 329.9 L468.6 333.9 L479.1 333.9 L476.6 329.9 L473.6 327.2Z" fill="#2727F0"/>
<path d="M469.6 311.8 L469.6 327.9 L470.9 327.9 L470.4 311.8Z" fill="#2727F0"/>
<path d="M488.7 325.7 L487.8 326.9 L486.6 328.1 L485.8 329.2 L484.7 330.4 L483.6 331.6 L482.8 332.8 L481.7 333.9 L490.8 333.9 L490.8 332.8 L490.8 331.6 L490.9 330.4 L490.9 329.2 L491 328.1 L490.9 326.9 L491 325.7Z" fill="#000"/>
<path d="M509 327.8 L507.7 329 L506.4 330.2 L504.9 331.5 L503.6 332.7 L502.3 333.9 L511.4 333.9 L511.3 332.7 L511.4 331.5 L511.3 330.2 L511.4 329 L511.4 327.8Z" fill="#000"/>
<path d="M456.1 322.9h1v1h-1zM440.8 321.2h1v1h-1zM441.8 328.6h1v1h-1zM450.1 322h1v1h-1zM447.8 323.8h1v1h-1zM450.3 325h1v1h-1zM455.1 322.5h1v1h-1zM453.1 321.6h1v1h-1zM453.6 319.6h1v1h-1zM441.1 321.7h1v1h-1zM454 322.1h1v1h-1zM454.7 324.8h1v1h-1zM468.3 302.4h1v1h-1zM460.8 310.1h1v1h-1zM467.5 302.1h1v1h-1zM469.2 316h1v1h-1zM468.9 302.1h1v1h-1zM469.4 300.8h1v1h-1zM474.7 323.7h1v1h-1zM477.5 324.1h1v1h-1zM464.4 316.6h1v1h-1zM468.2 301.7h1v1h-1zM466.4 318.1h1v1h-1zM460.9 310.4h1v1h-1zM463.3 319.1h1v1h-1zM462.5 305.7h1v1h-1zM464.9 312.2h1v1h-1zM470.1 316.7h1v1h-1zM462.9 309.1h1v1h-1zM462.6 323h1v1h-1zM467.4 301.8h1v1h-1zM469.4 326h1v1h-1z" fill="#fff"/>
<path d="M438.5 320.9h1.7v1.7h-1.7zM456.9 327.1h1.7v1.7h-1.7zM458.3 327.3h1.7v1.7h-1.7zM457.1 319.5h1.7v1.7h-1.7zM458.9 329h1.7v1.7h-1.7zM457 323.7h1.7v1.7h-1.7zM456.5 322.7h1.7v1.7h-1.7zM439.9 323.2h1.7v1.7h-1.7zM446.6 316.4h1.7v1.7h-1.7zM441 318.2h1.7v1.7h-1.7zM453.1 317.8h1.7v1.7h-1.7zM442.5 317.1h1.7v1.7h-1.7zM450.4 318h1.7v1.7h-1.7zM442.3 317.1h1.7v1.7h-1.7zM455.3 317.3h1.7v1.7h-1.7zM442.1 318h1.7v1.7h-1.7zM451.6 317h1.7v1.7h-1.7zM442.2 316.5h1.7v1.7h-1.7zM446.2 317.7h1.7v1.7h-1.7zM442.9 316.4h1.7v1.7h-1.7zM442.4 308h1.7v1.7h-1.7zM447.1 312.5h1.7v1.7h-1.7zM443.7 320.1h1.7v1.7h-1.7zM445.4 319.6h1.7v1.7h-1.7zM440.9 317.4h1.7v1.7h-1.7zM456.8 313.4h1.7v1.7h-1.7zM455.9 311.4h1.7v1.7h-1.7zM454.2 307.1h1.7v1.7h-1.7zM452.7 320.6h1.7v1.7h-1.7zM443.6 318h1.7v1.7h-1.7zM439.5 321.4h1.7v1.7h-1.7zM455.1 308.4h1.7v1.7h-1.7zM445.1 311.3h1.7v1.7h-1.7zM453.1 309h1.7v1.7h-1.7zM453.5 315.7h1.7v1.7h-1.7zM441 310.2h1.7v1.7h-1.7zM444.8 313.9h1.7v1.7h-1.7zM445.8 315.6h1.7v1.7h-1.7zM456.5 322.7h1.7v1.7h-1.7zM448.7 313.5h1.7v1.7h-1.7zM448.8 308.1h1.7v1.7h-1.7zM446.5 308.6h1.7v1.7h-1.7zM451.6 307.6h1.7v1.7h-1.7zM440.8 321.7h1.7v1.7h-1.7zM444.3 308.7h1.7v1.7h-1.7zM439.4 320.8h1.7v1.7h-1.7zM452 307.1h1.7v1.7h-1.7zM442.3 317.5h1.7v1.7h-1.7zM451.5 312.8h1.7v1.7h-1.7zM452.6 311.6h1.7v1.7h-1.7zM443.6 320.9h1.7v1.7h-1.7zM439.6 312.7h1.7v1.7h-1.7zM442.9 320.8h1.7v1.7h-1.7zM456.5 313.6h1.7v1.7h-1.7zM449.8 313.4h1.7v1.7h-1.7zM449.9 312.7h1.7v1.7h-1.7zM444.6 324.5h1.7v1.7h-1.7zM440.4 325.4h1.7v1.7h-1.7zM445.7 323h1.7v1.7h-1.7zM441.2 316.4h1.7v1.7h-1.7zM456.6 312.8h1.7v1.7h-1.7zM444.1 311.3h1.7v1.7h-1.7zM442.4 323.8h1.7v1.7h-1.7zM444.6 318h1.7v1.7h-1.7zM451.6 317.4h1.7v1.7h-1.7zM452.3 323.9h1.7v1.7h-1.7zM455.9 319.3h1.7v1.7h-1.7zM454.1 325.1h1.7v1.7h-1.7zM454.1 321.5h1.7v1.7h-1.7zM454.5 310.6h1.7v1.7h-1.7zM459.5 327h1.7v1.7h-1.7zM460.1 322.9h1.7v1.7h-1.7zM459.3 326.2h1.7v1.7h-1.7zM472.7 302.1h1.7v1.7h-1.7zM460.1 327.6h1.7v1.7h-1.7zM475.1 304.1h1.7v1.7h-1.7zM461.3 304.4h1.7v1.7h-1.7zM459.7 322.7h1.7v1.7h-1.7zM462 304.2h1.7v1.7h-1.7zM464.5 302.5h1.7v1.7h-1.7zM459.3 308.2h1.7v1.7h-1.7zM477.5 323.7h1.7v1.7h-1.7zM458.8 319.1h1.7v1.7h-1.7zM460.1 324.4h1.7v1.7h-1.7zM478.5 310.5h1.7v1.7h-1.7zM477.1 307.9h1.7v1.7h-1.7zM458.8 322.8h1.7v1.7h-1.7zM478.3 325.5h1.7v1.7h-1.7zM472.1 301.9h1.7v1.7h-1.7zM463.3 303.1h1.7v1.7h-1.7zM477.6 323h1.7v1.7h-1.7zM459.9 323.3h1.7v1.7h-1.7zM459.5 316.8h1.7v1.7h-1.7zM469 298.4h1.7v1.7h-1.7zM470.3 298.9h1.7v1.7h-1.7zM460.8 306.8h1.7v1.7h-1.7zM462.8 302.6h1.7v1.7h-1.7zM467.9 304.7h1.7v1.7h-1.7zM475.8 301.6h1.7v1.7h-1.7zM475.3 298.1h1.7v1.7h-1.7zM464.6 298.3h1.7v1.7h-1.7zM467.1 309h1.7v1.7h-1.7zM476.3 308.4h1.7v1.7h-1.7zM460.1 306.1h1.7v1.7h-1.7zM465 298h1.7v1.7h-1.7zM475.5 304.6h1.7v1.7h-1.7zM469.3 299.4h1.7v1.7h-1.7zM474.3 301.7h1.7v1.7h-1.7zM469 308.2h1.7v1.7h-1.7zM464.2 301.7h1.7v1.7h-1.7zM470.4 300h1.7v1.7h-1.7zM476 298h1.7v1.7h-1.7zM463.3 308.7h1.7v1.7h-1.7zM476 302.8h1.7v1.7h-1.7zM463.1 301.3h1.7v1.7h-1.7zM464.4 306.8h1.7v1.7h-1.7zM466.4 303.3h1.7v1.7h-1.7zM472 308.7h1.7v1.7h-1.7zM473.1 302.1h1.7v1.7h-1.7zM481.6 331.8h1.7v1.7h-1.7zM490.2 327.6h1.7v1.7h-1.7zM485.2 327.7h1.7v1.7h-1.7zM481.1 331.4h1.7v1.7h-1.7zM490.6 332.9h1.7v1.7h-1.7zM490.9 324.1h1.7v1.7h-1.7zM491.2 325.2h1.7v1.7h-1.7zM497.8 316.7h1.7v1.7h-1.7zM485.9 302.3h1.7v1.7h-1.7zM485.1 293.6h1.7v1.7h-1.7zM495.7 302.1h1.7v1.7h-1.7zM496.2 317.1h1.7v1.7h-1.7zM480.7 311.6h1.7v1.7h-1.7zM490.1 309.9h1.7v1.7h-1.7zM481.7 308h1.7v1.7h-1.7zM480.5 313.5h1.7v1.7h-1.7zM480.5 301h1.7v1.7h-1.7zM484.6 295.6h1.7v1.7h-1.7zM498.2 308.2h1.7v1.7h-1.7zM480.8 293.9h1.7v1.7h-1.7zM497.9 292.3h1.7v1.7h-1.7zM483.1 294.2h1.7v1.7h-1.7zM486.2 312.1h1.7v1.7h-1.7zM488 298.3h1.7v1.7h-1.7zM481.4 313.3h1.7v1.7h-1.7zM482 306.1h1.7v1.7h-1.7zM491.7 305h1.7v1.7h-1.7zM493 303.8h1.7v1.7h-1.7zM493.6 308.1h1.7v1.7h-1.7zM486.6 292.3h1.7v1.7h-1.7zM497.2 312.3h1.7v1.7h-1.7zM490.5 306.7h1.7v1.7h-1.7zM492.9 302.4h1.7v1.7h-1.7zM487.4 305.4h1.7v1.7h-1.7zM494.8 308.2h1.7v1.7h-1.7zM494.9 312.8h1.7v1.7h-1.7zM483.9 297.8h1.7v1.7h-1.7zM493.2 300.8h1.7v1.7h-1.7zM484.6 302.1h1.7v1.7h-1.7zM482.1 320.8h1.7v1.7h-1.7zM482.9 312.5h1.7v1.7h-1.7zM483.9 316.1h1.7v1.7h-1.7zM491.9 310.4h1.7v1.7h-1.7zM484.8 308.9h1.7v1.7h-1.7zM490 307.4h1.7v1.7h-1.7zM493.5 298.2h1.7v1.7h-1.7zM484.4 293.9h1.7v1.7h-1.7zM485.7 304.4h1.7v1.7h-1.7zM491.5 315.1h1.7v1.7h-1.7zM496.7 316.8h1.7v1.7h-1.7zM492.4 304.9h1.7v1.7h-1.7zM485.1 300.1h1.7v1.7h-1.7zM494.3 303.7h1.7v1.7h-1.7zM495.3 302h1.7v1.7h-1.7zM494.7 311.4h1.7v1.7h-1.7zM486 327.5h1.7v1.7h-1.7zM481.5 312.3h1.7v1.7h-1.7zM491.4 294.8h1.7v1.7h-1.7zM489.7 304.7h1.7v1.7h-1.7zM483.2 305.5h1.7v1.7h-1.7zM488.8 291.5h1.7v1.7h-1.7zM484 314h1.7v1.7h-1.7zM489.8 299.7h1.7v1.7h-1.7zM487 300.2h1.7v1.7h-1.7zM494.4 309.1h1.7v1.7h-1.7zM482.4 316.9h1.7v1.7h-1.7zM489.2 299.5h1.7v1.7h-1.7zM485 303.4h1.7v1.7h-1.7zM486.2 309.8h1.7v1.7h-1.7zM489 312.1h1.7v1.7h-1.7zM487.1 310.3h1.7v1.7h-1.7zM488.5 320.8h1.7v1.7h-1.7zM491.6 289.6h1.7v1.7h-1.7zM482.3 315.5h1.7v1.7h-1.7zM485.5 318.3h1.7v1.7h-1.7zM481.1 303.7h1.7v1.7h-1.7zM482.8 288.9h1.7v1.7h-1.7zM488.8 309.1h1.7v1.7h-1.7zM481.7 312.1h1.7v1.7h-1.7zM494 311.7h1.7v1.7h-1.7zM482 305.8h1.7v1.7h-1.7zM487.5 315.8h1.7v1.7h-1.7zM481.4 289.2h1.7v1.7h-1.7zM485.6 295h1.7v1.7h-1.7zM482.4 306.4h1.7v1.7h-1.7zM481.7 311.4h1.7v1.7h-1.7zM495.4 301.7h1.7v1.7h-1.7zM483.5 298.2h1.7v1.7h-1.7zM488.1 300.4h1.7v1.7h-1.7zM486.5 294.4h1.7v1.7h-1.7zM497.9 302.5h1.7v1.7h-1.7zM482.6 302.6h1.7v1.7h-1.7zM496.5 307.8h1.7v1.7h-1.7zM496.7 293.3h1.7v1.7h-1.7zM491.3 327.4h1.7v1.7h-1.7zM485.6 303.4h1.7v1.7h-1.7zM493.7 319.8h1.7v1.7h-1.7zM482.8 304.1h1.7v1.7h-1.7zM482.4 299.7h1.7v1.7h-1.7zM495.1 287.3h1.7v1.7h-1.7zM485 310.3h1.7v1.7h-1.7zM488.9 301.6h1.7v1.7h-1.7zM495.8 302.2h1.7v1.7h-1.7zM486.2 307.2h1.7v1.7h-1.7zM486.6 300.5h1.7v1.7h-1.7zM483.8 294.8h1.7v1.7h-1.7zM496 320.4h1.7v1.7h-1.7zM490.8 299.4h1.7v1.7h-1.7zM491.4 292.9h1.7v1.7h-1.7zM496.6 306h1.7v1.7h-1.7zM495.7 299.9h1.7v1.7h-1.7zM495.2 309.1h1.7v1.7h-1.7zM487.2 307.7h1.7v1.7h-1.7zM486.8 299.1h1.7v1.7h-1.7zM484.5 309.8h1.7v1.7h-1.7zM496.8 304.2h1.7v1.7h-1.7zM496.4 316.9h1.7v1.7h-1.7zM494.1 300.7h1.7v1.7h-1.7zM494.9 306.3h1.7v1.7h-1.7zM498.3 288.3h1.7v1.7h-1.7zM495.1 308.9h1.7v1.7h-1.7zM485 320.7h1.7v1.7h-1.7zM495.6 311.5h1.7v1.7h-1.7zM482.9 313.7h1.7v1.7h-1.7zM495.2 314.2h1.7v1.7h-1.7zM486.7 308.8h1.7v1.7h-1.7zM496.3 298h1.7v1.7h-1.7zM483 320.3h1.7v1.7h-1.7zM492.6 294.2h1.7v1.7h-1.7zM492.2 312.1h1.7v1.7h-1.7zM490.3 290.9h1.7v1.7h-1.7zM488.7 302h1.7v1.7h-1.7zM494.5 314.7h1.7v1.7h-1.7zM496.1 294.7h1.7v1.7h-1.7zM484.9 305.3h1.7v1.7h-1.7zM482.3 299.6h1.7v1.7h-1.7zM494.8 307.8h1.7v1.7h-1.7zM484.5 305.3h1.7v1.7h-1.7zM493.8 304.1h1.7v1.7h-1.7zM484 305.6h1.7v1.7h-1.7zM494.9 315.1h1.7v1.7h-1.7zM497.6 305h1.7v1.7h-1.7zM496.6 311.3h1.7v1.7h-1.7zM488.9 296h1.7v1.7h-1.7zM486.1 296h1.7v1.7h-1.7zM496.2 314.9h1.7v1.7h-1.7zM491 310.5h1.7v1.7h-1.7zM495.4 308.7h1.7v1.7h-1.7zM487.9 316.4h1.7v1.7h-1.7zM496.3 308.1h1.7v1.7h-1.7zM487 309.8h1.7v1.7h-1.7zM487 311.8h1.7v1.7h-1.7zM482.7 294.6h1.7v1.7h-1.7zM496.9 310.2h1.7v1.7h-1.7zM488.2 296.1h1.7v1.7h-1.7zM493.4 304.5h1.7v1.7h-1.7zM489.9 310.3h1.7v1.7h-1.7zM495.2 305.4h1.7v1.7h-1.7zM484.5 305.1h1.7v1.7h-1.7zM493.9 314.5h1.7v1.7h-1.7zM496.3 305.1h1.7v1.7h-1.7zM498.3 312.5h1.7v1.7h-1.7zM493.2 314.4h1.7v1.7h-1.7zM497.2 303.6h1.7v1.7h-1.7zM486.4 304.8h1.7v1.7h-1.7zM493.6 300.2h1.7v1.7h-1.7zM489.5 302.9h1.7v1.7h-1.7zM492.5 297.3h1.7v1.7h-1.7zM498.4 294h1.7v1.7h-1.7zM490.5 290.6h1.7v1.7h-1.7zM496.8 305.5h1.7v1.7h-1.7zM490.4 312h1.7v1.7h-1.7zM487 305.9h1.7v1.7h-1.7zM497.1 323.7h1.7v1.7h-1.7zM489.5 306.5h1.7v1.7h-1.7zM496.6 305.2h1.7v1.7h-1.7zM489.6 290.2h1.7v1.7h-1.7zM497.2 319.1h1.7v1.7h-1.7zM491.8 311.3h1.7v1.7h-1.7zM494.9 308.7h1.7v1.7h-1.7zM485.1 317h1.7v1.7h-1.7zM485.4 301.8h1.7v1.7h-1.7zM488.9 315.7h1.7v1.7h-1.7zM482.1 302.2h1.7v1.7h-1.7zM493.4 299.4h1.7v1.7h-1.7zM493.9 306.7h1.7v1.7h-1.7zM489.8 306.4h1.7v1.7h-1.7zM483.6 300.6h1.7v1.7h-1.7zM484.1 321.3h1.7v1.7h-1.7zM491 317.8h1.7v1.7h-1.7zM493.3 309.5h1.7v1.7h-1.7zM493.2 320.5h1.7v1.7h-1.7zM497.1 309.2h1.7v1.7h-1.7zM481.4 291.2h1.7v1.7h-1.7zM482 298.5h1.7v1.7h-1.7zM481.7 310h1.7v1.7h-1.7zM483 303.3h1.7v1.7h-1.7zM488.7 318.9h1.7v1.7h-1.7zM486.5 325.5h1.7v1.7h-1.7zM494.2 329h1.7v1.7h-1.7zM483.4 306.8h1.7v1.7h-1.7zM487.8 301.4h1.7v1.7h-1.7zM483.4 312.2h1.7v1.7h-1.7zM484.4 311.7h1.7v1.7h-1.7zM486.1 302.3h1.7v1.7h-1.7zM489.5 304.2h1.7v1.7h-1.7zM488.4 303.1h1.7v1.7h-1.7zM498 298.3h1.7v1.7h-1.7zM488.9 326.9h1.7v1.7h-1.7zM484 305.2h1.7v1.7h-1.7zM483.5 310.8h1.7v1.7h-1.7zM481.8 309.5h1.7v1.7h-1.7zM487.7 313.5h1.7v1.7h-1.7zM486.8 327.6h1.7v1.7h-1.7zM492.9 313.8h1.7v1.7h-1.7zM487.5 303.4h1.7v1.7h-1.7zM490.8 297.4h1.7v1.7h-1.7zM480.6 293.4h1.7v1.7h-1.7zM486.8 299.1h1.7v1.7h-1.7zM491.8 317.8h1.7v1.7h-1.7zM488.2 299.6h1.7v1.7h-1.7zM485.8 311h1.7v1.7h-1.7zM493.7 318.5h1.7v1.7h-1.7zM497.5 311h1.7v1.7h-1.7zM495.8 302.1h1.7v1.7h-1.7zM494.7 300.7h1.7v1.7h-1.7zM486.6 317.5h1.7v1.7h-1.7zM497.5 313.6h1.7v1.7h-1.7zM483.7 315h1.7v1.7h-1.7zM482.5 309.5h1.7v1.7h-1.7zM480.9 295h1.7v1.7h-1.7zM486.3 315.9h1.7v1.7h-1.7zM487 316.6h1.7v1.7h-1.7zM496.6 305.7h1.7v1.7h-1.7zM497.2 313h1.7v1.7h-1.7zM492 298.7h1.7v1.7h-1.7zM487.4 314.3h1.7v1.7h-1.7zM491.4 305.9h1.7v1.7h-1.7zM487.1 305.5h1.7v1.7h-1.7zM487.4 313.2h1.7v1.7h-1.7zM490.2 318.9h1.7v1.7h-1.7zM485.4 293h1.7v1.7h-1.7zM483.3 314.6h1.7v1.7h-1.7zM492.9 293.5h1.7v1.7h-1.7zM481.5 301.6h1.7v1.7h-1.7zM495 306.2h1.7v1.7h-1.7zM481.5 303.3h1.7v1.7h-1.7zM485.2 302.2h1.7v1.7h-1.7zM496.8 308.3h1.7v1.7h-1.7zM497.5 320.1h1.7v1.7h-1.7zM482.1 324.8h1.7v1.7h-1.7zM497.1 312.8h1.7v1.7h-1.7zM493.9 311.9h1.7v1.7h-1.7zM495.9 304.8h1.7v1.7h-1.7zM496.2 309.7h1.7v1.7h-1.7zM494 304.5h1.7v1.7h-1.7zM481.1 325.6h1.7v1.7h-1.7zM481.5 320h1.7v1.7h-1.7zM493.2 305.7h1.7v1.7h-1.7zM491.8 305.7h1.7v1.7h-1.7zM483.7 303.2h1.7v1.7h-1.7zM491.4 303.7h1.7v1.7h-1.7zM486.9 317.2h1.7v1.7h-1.7zM498.1 326.4h1.7v1.7h-1.7zM485 314.5h1.7v1.7h-1.7zM484.6 303.6h1.7v1.7h-1.7zM493.2 311.2h1.7v1.7h-1.7zM483.2 304.6h1.7v1.7h-1.7zM486.8 302.3h1.7v1.7h-1.7zM490 307.2h1.7v1.7h-1.7zM492.7 309.8h1.7v1.7h-1.7zM494.7 298.2h1.7v1.7h-1.7zM490.8 305.1h1.7v1.7h-1.7zM491.3 323.3h1.7v1.7h-1.7zM486.5 301.8h1.7v1.7h-1.7zM495.9 322.8h1.7v1.7h-1.7zM496.9 294.8h1.7v1.7h-1.7zM483.6 311.2h1.7v1.7h-1.7zM487.3 308.7h1.7v1.7h-1.7zM494.9 307.2h1.7v1.7h-1.7zM494.6 307.7h1.7v1.7h-1.7zM494.8 307.8h1.7v1.7h-1.7zM487.9 307h1.7v1.7h-1.7zM493.6 312.2h1.7v1.7h-1.7zM487.8 316.4h1.7v1.7h-1.7zM497.2 286.9h1.7v1.7h-1.7zM491.5 312.1h1.7v1.7h-1.7zM485.3 310.2h1.7v1.7h-1.7zM496.7 299.6h1.7v1.7h-1.7zM495.2 303.1h1.7v1.7h-1.7zM498.3 321.1h1.7v1.7h-1.7zM494.1 309.7h1.7v1.7h-1.7zM485.2 313.7h1.7v1.7h-1.7zM495.9 310.7h1.7v1.7h-1.7zM489.2 310.1h1.7v1.7h-1.7zM481.9 309.9h1.7v1.7h-1.7zM497.2 288.4h1.7v1.7h-1.7zM494.1 306.7h1.7v1.7h-1.7zM490.8 311.7h1.7v1.7h-1.7zM488.1 297.7h1.7v1.7h-1.7zM497.3 313h1.7v1.7h-1.7zM482.3 294.7h1.7v1.7h-1.7zM485.4 299.4h1.7v1.7h-1.7zM488.4 294.2h1.7v1.7h-1.7zM493.5 295.9h1.7v1.7h-1.7zM492.1 307.5h1.7v1.7h-1.7zM482.2 293.5h1.7v1.7h-1.7zM506.9 327.5h1.7v1.7h-1.7zM508.3 326.1h1.7v1.7h-1.7zM511.5 332.2h1.7v1.7h-1.7zM511.8 332.7h1.7v1.7h-1.7zM511.6 329.1h1.7v1.7h-1.7zM507.9 307.3h1.7v1.7h-1.7zM501.7 314.3h1.7v1.7h-1.7zM509.7 302h1.7v1.7h-1.7zM517.2 303.1h1.7v1.7h-1.7zM501.7 307.5h1.7v1.7h-1.7zM514 321.7h1.7v1.7h-1.7zM514.2 312.7h1.7v1.7h-1.7zM504.4 322.9h1.7v1.7h-1.7zM503.6 301.3h1.7v1.7h-1.7zM504.4 313h1.7v1.7h-1.7zM510.1 317.4h1.7v1.7h-1.7zM517.8 316.4h1.7v1.7h-1.7zM509.6 310.9h1.7v1.7h-1.7zM517.5 313.2h1.7v1.7h-1.7zM505.1 319.3h1.7v1.7h-1.7zM518.6 306.6h1.7v1.7h-1.7zM515 319.4h1.7v1.7h-1.7zM516.5 319.9h1.7v1.7h-1.7zM509.1 320.4h1.7v1.7h-1.7zM515.6 302.2h1.7v1.7h-1.7zM513.4 305.7h1.7v1.7h-1.7zM509.4 314.5h1.7v1.7h-1.7zM515.9 319.2h1.7v1.7h-1.7zM504 299.6h1.7v1.7h-1.7zM513.4 317.9h1.7v1.7h-1.7zM504.1 320.8h1.7v1.7h-1.7zM503.6 316.6h1.7v1.7h-1.7zM505.9 322h1.7v1.7h-1.7zM507.7 312.9h1.7v1.7h-1.7zM511.7 325h1.7v1.7h-1.7zM504 318.1h1.7v1.7h-1.7zM518.4 309.5h1.7v1.7h-1.7zM518.8 318.5h1.7v1.7h-1.7zM518.5 308.7h1.7v1.7h-1.7zM508 307.5h1.7v1.7h-1.7zM501.6 319.9h1.7v1.7h-1.7zM504.8 316h1.7v1.7h-1.7zM512.4 310.4h1.7v1.7h-1.7zM511.2 310.5h1.7v1.7h-1.7zM507.6 304.7h1.7v1.7h-1.7zM518.2 317.6h1.7v1.7h-1.7zM516.6 319.9h1.7v1.7h-1.7zM513.2 320.6h1.7v1.7h-1.7zM506.5 320.2h1.7v1.7h-1.7zM518.5 307.3h1.7v1.7h-1.7zM502.3 313.7h1.7v1.7h-1.7zM501.3 296.3h1.7v1.7h-1.7zM510.2 318.6h1.7v1.7h-1.7zM503.2 315.8h1.7v1.7h-1.7zM513.4 309.1h1.7v1.7h-1.7zM517.8 322.8h1.7v1.7h-1.7zM513.9 304.2h1.7v1.7h-1.7zM501.1 314.8h1.7v1.7h-1.7zM518.5 307.6h1.7v1.7h-1.7zM506.7 312.2h1.7v1.7h-1.7zM508.6 315.1h1.7v1.7h-1.7zM517.3 314.7h1.7v1.7h-1.7zM501.3 324.9h1.7v1.7h-1.7zM504.7 321h1.7v1.7h-1.7zM502.9 308.9h1.7v1.7h-1.7zM517.9 302.9h1.7v1.7h-1.7zM510.4 315.8h1.7v1.7h-1.7zM506.9 300.6h1.7v1.7h-1.7zM513.7 307.6h1.7v1.7h-1.7zM502.3 315.8h1.7v1.7h-1.7zM503.1 305.2h1.7v1.7h-1.7zM514.5 330.9h1.7v1.7h-1.7zM507.7 314.8h1.7v1.7h-1.7zM513 310.6h1.7v1.7h-1.7zM519 293.8h1.7v1.7h-1.7zM512.3 320.5h1.7v1.7h-1.7zM514.2 316.6h1.7v1.7h-1.7zM511 317.6h1.7v1.7h-1.7zM505.7 323.4h1.7v1.7h-1.7zM503.6 303.2h1.7v1.7h-1.7zM511.7 312.2h1.7v1.7h-1.7zM515.5 311.1h1.7v1.7h-1.7zM511.4 310.1h1.7v1.7h-1.7zM511.2 307.6h1.7v1.7h-1.7zM501.4 321.5h1.7v1.7h-1.7zM502.1 309.9h1.7v1.7h-1.7zM514.7 318.7h1.7v1.7h-1.7zM505.5 312h1.7v1.7h-1.7zM502.8 312.1h1.7v1.7h-1.7zM509.7 318.8h1.7v1.7h-1.7zM514.9 318.9h1.7v1.7h-1.7zM505.1 310.4h1.7v1.7h-1.7zM509.2 320.4h1.7v1.7h-1.7zM510.2 325.5h1.7v1.7h-1.7zM504.4 306.2h1.7v1.7h-1.7zM502.4 318.5h1.7v1.7h-1.7zM502.7 309.1h1.7v1.7h-1.7zM512.8 311.4h1.7v1.7h-1.7zM510.3 319.4h1.7v1.7h-1.7zM518 311.7h1.7v1.7h-1.7zM506.6 314.2h1.7v1.7h-1.7zM506.9 310.4h1.7v1.7h-1.7zM508.8 305.5h1.7v1.7h-1.7zM504.1 319.9h1.7v1.7h-1.7zM516.4 311h1.7v1.7h-1.7zM512.8 313.4h1.7v1.7h-1.7zM502.2 309.1h1.7v1.7h-1.7zM510.2 306.5h1.7v1.7h-1.7zM514.5 315.9h1.7v1.7h-1.7zM514 311.6h1.7v1.7h-1.7zM513.2 318.4h1.7v1.7h-1.7zM508.9 314.6h1.7v1.7h-1.7zM517.3 315.9h1.7v1.7h-1.7zM501.2 316.8h1.7v1.7h-1.7zM504.7 313.2h1.7v1.7h-1.7zM502.7 307.7h1.7v1.7h-1.7zM507.1 322.5h1.7v1.7h-1.7zM505.1 315.3h1.7v1.7h-1.7zM508.3 304.4h1.7v1.7h-1.7zM503.9 317h1.7v1.7h-1.7zM502.4 320.9h1.7v1.7h-1.7zM517.7 319.8h1.7v1.7h-1.7zM509.9 307.9h1.7v1.7h-1.7zM504.6 309.7h1.7v1.7h-1.7zM515.7 318.1h1.7v1.7h-1.7zM506.4 321.2h1.7v1.7h-1.7zM509.6 303.1h1.7v1.7h-1.7zM503.6 319.3h1.7v1.7h-1.7zM513.4 317.8h1.7v1.7h-1.7zM513.7 314h1.7v1.7h-1.7zM501.9 330.5h1.7v1.7h-1.7zM514 323h1.7v1.7h-1.7zM506.9 313.3h1.7v1.7h-1.7zM502.1 317.4h1.7v1.7h-1.7zM507.4 323.6h1.7v1.7h-1.7zM534.3 324.3h1.7v1.7h-1.7zM534.6 325.6h1.7v1.7h-1.7zM539.4 323.3h1.7v1.7h-1.7zM521.8 328.4h1.7v1.7h-1.7zM534.8 317h1.7v1.7h-1.7zM533.2 327.4h1.7v1.7h-1.7zM537.4 319.2h1.7v1.7h-1.7zM523.8 324.1h1.7v1.7h-1.7zM533.8 329.7h1.7v1.7h-1.7zM522.5 324.5h1.7v1.7h-1.7zM537.5 315h1.7v1.7h-1.7zM527.5 316.3h1.7v1.7h-1.7zM535.9 317h1.7v1.7h-1.7zM532.3 315.4h1.7v1.7h-1.7zM533.3 315.8h1.7v1.7h-1.7zM531.9 326.8h1.7v1.7h-1.7zM531.1 322.6h1.7v1.7h-1.7zM527.8 324.2h1.7v1.7h-1.7zM530.9 321.1h1.7v1.7h-1.7zM525.8 325.6h1.7v1.7h-1.7z" fill="#000"/>
<path d="M474.1 330.2h1.1v1.1h-1.1zM469.6 328h1.1v1.1h-1.1zM474.1 330.2h1.1v1.1h-1.1zM469.7 315.9h1.1v1.1h-1.1zM470.3 324.5h1.1v1.1h-1.1zM469.3 314.7h1.1v1.1h-1.1z" fill="#000"/>
<rect x="440" y="333.3" width="18" height="2.5" fill="#000"/>
<rect x="460.6" y="333.3" width="18" height="2.5" fill="#000"/>
<rect x="481.3" y="333.3" width="18" height="2.5" fill="#000"/>
<rect x="501.9" y="333.3" width="18" height="2.5" fill="#000"/>
<rect x="522.6" y="333.3" width="18" height="2.5" fill="#000"/>
<path d="M436.8 285.2V336.7H544.1" fill="none" stroke="#3a3a3a" stroke-width="1"/>
<path d="M436.8 334.6h-2" stroke="#3a3a3a" stroke-width="0.9"/>
<text x="432.9" y="337.7" font-size="7.2" font-weight="normal" fill="#111" text-anchor="end">0</text>
<path d="M436.8 321.2h-2" stroke="#3a3a3a" stroke-width="0.9"/>
<text x="432.9" y="324.3" font-size="7.2" font-weight="normal" fill="#111" text-anchor="end">1</text>
<path d="M436.8 307.8h-2" stroke="#3a3a3a" stroke-width="0.9"/>
<text x="432.9" y="310.9" font-size="7.2" font-weight="normal" fill="#111" text-anchor="end">2</text>
<path d="M436.8 294.4h-2" stroke="#3a3a3a" stroke-width="0.9"/>
<text x="432.9" y="297.5" font-size="7.2" font-weight="normal" fill="#111" text-anchor="end">3</text>
<path d="M449 336.7v2" stroke="#3a3a3a" stroke-width="0.9"/>
<text x="0" y="0" font-size="7.1" font-weight="normal" fill="#111" text-anchor="end" stroke="#111" stroke-width="0.12" transform="translate(453.6 344.2) rotate(-45)">Tenocyte A</text>
<path d="M469.6 336.7v2" stroke="#3a3a3a" stroke-width="0.9"/>
<text x="0" y="0" font-size="7.1" font-weight="normal" fill="#111" text-anchor="end" stroke="#111" stroke-width="0.12" transform="translate(474.2 344.2) rotate(-45)">Tenocyte B</text>
<path d="M490.3 336.7v2" stroke="#3a3a3a" stroke-width="0.9"/>
<text x="0" y="0" font-size="7.1" font-weight="normal" fill="#111" text-anchor="end" stroke="#111" stroke-width="0.12" transform="translate(494.9 344.2) rotate(-45)">Tenocyte C</text>
<path d="M510.9 336.7v2" stroke="#3a3a3a" stroke-width="0.9"/>
<text x="0" y="0" font-size="7.1" font-weight="normal" fill="#111" text-anchor="end" stroke="#111" stroke-width="0.12" transform="translate(515.5 344.2) rotate(-45)">Tenocyte D</text>
<path d="M531.6 336.7v2" stroke="#3a3a3a" stroke-width="0.9"/>
<text x="0" y="0" font-size="7.1" font-weight="normal" fill="#111" text-anchor="end" stroke="#111" stroke-width="0.12" transform="translate(536.2 344.2) rotate(-45)">Tenocyte E</text>
<text x="490.5" y="378.8" font-size="8" font-weight="normal" fill="#111" text-anchor="middle" stroke="#111" stroke-width="0.1">Identity</text>
<text x="0" y="0" font-size="7.8" font-weight="normal" fill="#111" text-anchor="middle" stroke="#111" stroke-width="0.1" transform="translate(424.7 311.6) rotate(-90)">Expression Level</text>
<text x="86.7" y="395.6" font-size="8.3" font-weight="bold" fill="#111" text-anchor="middle" stroke="#111" stroke-width="0.25" textLength="26.2" lengthAdjust="spacingAndGlyphs">POSTN</text>
<path d="M45.2 449.2V409.4" stroke="#8c8c8c" stroke-width="1"/>
<path d="M65.8 449.2V403.9" stroke="#8c8c8c" stroke-width="1"/>
<path d="M86.5 449.2V415.7" stroke="#8c8c8c" stroke-width="1"/>
<path d="M107.2 449.2V409.4" stroke="#8c8c8c" stroke-width="1"/>
<path d="M127.8 449.2V415.7" stroke="#8c8c8c" stroke-width="1"/>
<path d="M38.7 416.2 L36.6 417.3 L36.3 418.4 L36.2 419.5 L35.8 420.6 L36 421.7 L35.6 422.8 L36.1 423.9 L36.1 425 L35.7 426.1 L35.8 427.2 L36 428.4 L36.2 429.5 L35.7 430.6 L36.3 431.7 L35.7 432.8 L35.8 433.9 L35.8 435 L36.4 436.1 L36.5 437.2 L36 438.3 L35.5 439.4 L36.3 440.5 L36.4 441.6 L35.8 442.8 L36.1 443.9 L36 445 L35.6 446.1 L35.6 447.2 L54.6 447.2 L55 446.1 L54.9 445 L54.5 443.9 L54.7 442.8 L55 441.6 L54.5 440.5 L55 439.4 L54.9 438.3 L55.2 437.2 L54.6 436.1 L54.5 435 L54.8 433.9 L54.9 432.8 L54.4 431.7 L54.9 430.6 L54.6 429.5 L54.6 428.4 L54.4 427.2 L54.7 426.1 L54.9 425 L54.5 423.9 L54.7 422.8 L54.4 421.7 L55 420.6 L55 419.5 L54.7 418.4 L54.3 417.3 L51.7 416.2 L50 415.8 L48.8 415.3 L47.6 415.2 L46.4 415.9 L45.2 416 L44 416 L42.8 415.2 L41.6 415.9 L40.4 415.7Z" fill="#000"/>
<path d="M46.2 444.2 L44.2 446.5 L45.2 448.3 L51.2 448.3 L51.7 446.5 L50.2 444.2Z" fill="#2727F0"/>
<path d="M59.5 406 L57.5 407.1 L56.8 408.2 L56.4 409.3 L56.4 410.4 L56.7 411.5 L57 412.6 L56.9 413.7 L56.9 414.8 L57.2 415.9 L57.1 417 L57 418.1 L56.3 419.2 L56.4 420.3 L56.8 421.4 L57 422.6 L56.4 423.7 L57 424.8 L56.3 425.9 L56.6 427 L57.1 428.1 L56.8 429.2 L56.8 430.3 L56.3 431.4 L57 432.5 L58.5 433.6 L59.5 434.7 L72.1 434.7 L73.8 433.6 L75.1 432.5 L75.1 431.4 L75 430.3 L75.6 429.2 L75.5 428.1 L75.7 427 L75.4 425.9 L74.9 424.8 L75.6 423.7 L75.8 422.6 L75.6 421.4 L75.8 420.3 L75.8 419.2 L75.1 418.1 L75 417 L75.5 415.9 L74.9 414.8 L74.9 413.7 L75.7 412.6 L75.7 411.5 L75.5 410.4 L75.3 409.3 L74.7 408.2 L74.9 407.1 L72.8 406 L67.6 404.3 L66.4 404.5 L65.2 403.9 L64 404.6Z" fill="#000"/>
<path d="M65.2 434.7 L65.2 449.2 L66.4 449.2 L66.4 434.7Z" fill="#000"/>
<path d="M65.8 432 L65.8 436.5 L65.8 438.3 L66.6 438.3 L67.3 436.5 L67 432Z" fill="#2727F0"/>
<path d="M46.9 437h1v1h-1zM41 429.7h1v1h-1zM52.9 445.1h1v1h-1zM38 435.9h1v1h-1zM45.4 426.7h1v1h-1zM41.8 437.3h1v1h-1zM42 420.6h1v1h-1zM52.9 434.4h1v1h-1zM43.1 436.2h1v1h-1zM47.7 442.6h1v1h-1zM63.3 414.9h1v1h-1zM57.9 419.9h1v1h-1zM68.9 415h1v1h-1zM66.4 429.6h1v1h-1zM58.5 412.3h1v1h-1zM72.1 409.2h1v1h-1zM61.7 432.7h1v1h-1zM61.3 431.7h1v1h-1zM65.4 431.6h1v1h-1zM62 426.7h1v1h-1z" fill="#fff"/>
<path d="M54.3 420.1h1.7v1.7h-1.7zM35.5 433.7h1.7v1.7h-1.7zM54.5 443.6h1.7v1.7h-1.7zM34.9 433.3h1.7v1.7h-1.7zM35.1 446.8h1.7v1.7h-1.7zM34.2 435.3h1.7v1.7h-1.7zM54.8 436.7h1.7v1.7h-1.7zM33.9 427.4h1.7v1.7h-1.7zM35.4 427.8h1.7v1.7h-1.7zM54.1 441h1.7v1.7h-1.7zM53.8 428.6h1.7v1.7h-1.7zM34.9 437.1h1.7v1.7h-1.7zM54.9 428.1h1.7v1.7h-1.7zM35.2 443.5h1.7v1.7h-1.7zM54.5 435.8h1.7v1.7h-1.7zM53.5 443.7h1.7v1.7h-1.7zM55.7 439.6h1.7v1.7h-1.7zM35 435.3h1.7v1.7h-1.7zM55.4 438.8h1.7v1.7h-1.7zM54.5 432.1h1.7v1.7h-1.7zM53.7 440.1h1.7v1.7h-1.7zM54.5 422.5h1.7v1.7h-1.7zM35.3 421.8h1.7v1.7h-1.7zM56.9 439.1h1.7v1.7h-1.7zM34.3 444.5h1.7v1.7h-1.7zM40.9 414.8h1.7v1.7h-1.7zM39.4 415.3h1.7v1.7h-1.7zM42.8 414h1.7v1.7h-1.7zM41.8 414.7h1.7v1.7h-1.7zM46.8 411.9h1.7v1.7h-1.7zM40.4 415h1.7v1.7h-1.7zM44.5 414.2h1.7v1.7h-1.7zM48.7 415.3h1.7v1.7h-1.7zM40.9 414.5h1.7v1.7h-1.7zM47.3 414h1.7v1.7h-1.7zM42.7 416.2h1.7v1.7h-1.7zM49.6 413.9h1.7v1.7h-1.7zM50.3 414.8h1.7v1.7h-1.7zM48.6 418.2h1.7v1.7h-1.7zM39.3 408.9h1.7v1.7h-1.7zM47.6 411.8h1.7v1.7h-1.7zM44.3 413.8h1.7v1.7h-1.7zM38.9 416.8h1.7v1.7h-1.7zM47 411.6h1.7v1.7h-1.7zM40 412.1h1.7v1.7h-1.7zM37.8 412.4h1.7v1.7h-1.7zM38.4 413.4h1.7v1.7h-1.7zM41 413h1.7v1.7h-1.7zM37.8 413.7h1.7v1.7h-1.7zM46.4 417.1h1.7v1.7h-1.7zM40.9 411.7h1.7v1.7h-1.7zM45.2 412.3h1.7v1.7h-1.7zM49.4 412.8h1.7v1.7h-1.7zM39.3 414.1h1.7v1.7h-1.7zM50.3 412.8h1.7v1.7h-1.7zM48.9 414.9h1.7v1.7h-1.7zM55.6 418.9h1.7v1.7h-1.7zM74.8 411.4h1.7v1.7h-1.7zM55.6 427.6h1.7v1.7h-1.7zM75.2 412h1.7v1.7h-1.7zM74.8 429.3h1.7v1.7h-1.7zM74.2 419.8h1.7v1.7h-1.7zM55.6 412.3h1.7v1.7h-1.7zM56.1 409.6h1.7v1.7h-1.7zM54.7 419.5h1.7v1.7h-1.7zM56.3 416.6h1.7v1.7h-1.7zM56.4 410h1.7v1.7h-1.7zM75.4 409.1h1.7v1.7h-1.7zM75 430.1h1.7v1.7h-1.7zM74.4 425.1h1.7v1.7h-1.7zM54.6 409.5h1.7v1.7h-1.7zM74.2 413.8h1.7v1.7h-1.7zM74.5 421.6h1.7v1.7h-1.7zM55.6 429.4h1.7v1.7h-1.7zM55.5 429.4h1.7v1.7h-1.7zM54.9 416.6h1.7v1.7h-1.7zM74.2 420.7h1.7v1.7h-1.7zM55.7 408.9h1.7v1.7h-1.7zM72.6 432.7h1.7v1.7h-1.7zM65.4 403.2h1.7v1.7h-1.7zM66.7 403.8h1.7v1.7h-1.7zM63.8 403.9h1.7v1.7h-1.7zM65.4 403.2h1.7v1.7h-1.7zM64.4 440.6h1.7v1.7h-1.7zM69.6 435.8h1.7v1.7h-1.7zM58.8 442.6h1.7v1.7h-1.7zM57.1 441.2h1.7v1.7h-1.7zM58.7 436.2h1.7v1.7h-1.7zM69.5 432.1h1.7v1.7h-1.7zM60.3 445.1h1.7v1.7h-1.7zM69.1 440h1.7v1.7h-1.7zM71.9 440.3h1.7v1.7h-1.7zM62 444.6h1.7v1.7h-1.7zM72.2 438.7h1.7v1.7h-1.7zM64.1 439.7h1.7v1.7h-1.7zM69.3 434.4h1.7v1.7h-1.7zM64.6 443.2h1.7v1.7h-1.7zM63.5 433.5h1.7v1.7h-1.7zM63.5 436.7h1.7v1.7h-1.7zM66 439.4h1.7v1.7h-1.7zM66.2 442.3h1.7v1.7h-1.7zM65.9 433.9h1.7v1.7h-1.7zM58.3 440.6h1.7v1.7h-1.7zM71.1 432.4h1.7v1.7h-1.7zM57.2 437.1h1.7v1.7h-1.7zM67.1 434.2h1.7v1.7h-1.7zM64.5 443.9h1.7v1.7h-1.7zM61.8 436h1.7v1.7h-1.7zM68.7 442.9h1.7v1.7h-1.7zM67.3 436.7h1.7v1.7h-1.7zM67.5 445.3h1.7v1.7h-1.7zM64.1 441.2h1.7v1.7h-1.7zM66.6 441.1h1.7v1.7h-1.7zM59.1 436.5h1.7v1.7h-1.7zM61.6 434.9h1.7v1.7h-1.7zM61.9 438.2h1.7v1.7h-1.7zM69.9 444.1h1.7v1.7h-1.7zM68.7 444.7h1.7v1.7h-1.7zM72 445.3h1.7v1.7h-1.7zM68.6 440.6h1.7v1.7h-1.7zM59.9 440.3h1.7v1.7h-1.7zM65 440h1.7v1.7h-1.7zM59 438.5h1.7v1.7h-1.7zM61.8 401.5h1.7v1.7h-1.7zM63.1 404.4h1.7v1.7h-1.7zM60.6 401.5h1.7v1.7h-1.7zM62.1 403.2h1.7v1.7h-1.7zM70.3 404.6h1.7v1.7h-1.7zM69.1 405.2h1.7v1.7h-1.7zM58.8 406.5h1.7v1.7h-1.7zM64.2 402h1.7v1.7h-1.7zM60.2 404.3h1.7v1.7h-1.7zM69.2 405.2h1.7v1.7h-1.7zM79.4 430.6h1.7v1.7h-1.7zM84.3 418.5h1.7v1.7h-1.7zM92.8 438.7h1.7v1.7h-1.7zM86.7 433.6h1.7v1.7h-1.7zM77.3 432.8h1.7v1.7h-1.7zM93.1 436.9h1.7v1.7h-1.7zM87.2 425.1h1.7v1.7h-1.7zM77.8 418.9h1.7v1.7h-1.7zM78.6 436.9h1.7v1.7h-1.7zM89.5 445.1h1.7v1.7h-1.7zM83.4 442h1.7v1.7h-1.7zM85.2 445.2h1.7v1.7h-1.7zM79.4 439.2h1.7v1.7h-1.7zM78.1 443h1.7v1.7h-1.7zM80.2 430.6h1.7v1.7h-1.7zM79.1 421.9h1.7v1.7h-1.7zM84.2 438.3h1.7v1.7h-1.7zM81 421.3h1.7v1.7h-1.7zM77.5 424.1h1.7v1.7h-1.7zM78.4 418.3h1.7v1.7h-1.7zM84 428.3h1.7v1.7h-1.7zM92.2 442.7h1.7v1.7h-1.7zM77.8 425.5h1.7v1.7h-1.7zM87.2 424.8h1.7v1.7h-1.7zM81.7 431.2h1.7v1.7h-1.7zM80 433h1.7v1.7h-1.7zM81.7 428.7h1.7v1.7h-1.7zM82 437.7h1.7v1.7h-1.7zM88.2 443.2h1.7v1.7h-1.7zM91.1 431.3h1.7v1.7h-1.7zM80.8 442.3h1.7v1.7h-1.7zM85.8 431h1.7v1.7h-1.7zM89.6 434.8h1.7v1.7h-1.7zM84.1 419.8h1.7v1.7h-1.7zM81.6 417.2h1.7v1.7h-1.7zM92.7 417h1.7v1.7h-1.7zM93.6 438.2h1.7v1.7h-1.7zM91.3 427.9h1.7v1.7h-1.7zM80.3 416.7h1.7v1.7h-1.7zM88.3 422.2h1.7v1.7h-1.7zM86.7 443.3h1.7v1.7h-1.7zM92.2 440.6h1.7v1.7h-1.7zM81.3 427.8h1.7v1.7h-1.7zM80.1 432.2h1.7v1.7h-1.7zM89.5 442.9h1.7v1.7h-1.7zM88.5 442.6h1.7v1.7h-1.7zM85.2 426.8h1.7v1.7h-1.7zM89 444.4h1.7v1.7h-1.7zM80.1 417.8h1.7v1.7h-1.7zM83.7 433.3h1.7v1.7h-1.7zM83.4 425.5h1.7v1.7h-1.7zM90 426.8h1.7v1.7h-1.7zM83.9 429.1h1.7v1.7h-1.7zM85.9 440.2h1.7v1.7h-1.7zM93.7 417.7h1.7v1.7h-1.7zM105.7 418.6h1.7v1.7h-1.7zM110.7 419.8h1.7v1.7h-1.7zM110.2 428.1h1.7v1.7h-1.7zM113.1 408.7h1.7v1.7h-1.7zM102.1 428.8h1.7v1.7h-1.7zM102.9 420.9h1.7v1.7h-1.7zM103.9 432h1.7v1.7h-1.7zM112.5 418.3h1.7v1.7h-1.7zM109.4 437.9h1.7v1.7h-1.7zM107.5 420.7h1.7v1.7h-1.7zM101.1 418.9h1.7v1.7h-1.7zM100.1 425h1.7v1.7h-1.7zM110.2 419.8h1.7v1.7h-1.7zM103.2 420.4h1.7v1.7h-1.7zM102.1 419h1.7v1.7h-1.7zM104.4 428.6h1.7v1.7h-1.7zM104.1 414.3h1.7v1.7h-1.7zM97.5 422.3h1.7v1.7h-1.7zM97.3 417.9h1.7v1.7h-1.7zM114.6 429h1.7v1.7h-1.7zM97.7 422.2h1.7v1.7h-1.7zM99.1 416.8h1.7v1.7h-1.7zM106.4 425.7h1.7v1.7h-1.7zM101.7 433.4h1.7v1.7h-1.7zM104 427.9h1.7v1.7h-1.7zM99.5 424.1h1.7v1.7h-1.7zM110.1 422h1.7v1.7h-1.7zM111.9 424.4h1.7v1.7h-1.7zM111.9 426.5h1.7v1.7h-1.7zM100.1 432.7h1.7v1.7h-1.7zM104.5 429.2h1.7v1.7h-1.7zM100.7 424.6h1.7v1.7h-1.7zM111.3 425.8h1.7v1.7h-1.7zM108.6 433.3h1.7v1.7h-1.7zM111.9 437.9h1.7v1.7h-1.7zM107.5 433.7h1.7v1.7h-1.7zM104 431.6h1.7v1.7h-1.7zM110 417.1h1.7v1.7h-1.7zM114.1 418.6h1.7v1.7h-1.7zM114.2 430.3h1.7v1.7h-1.7zM111.3 432.5h1.7v1.7h-1.7zM111 431.5h1.7v1.7h-1.7zM103 420h1.7v1.7h-1.7zM111.9 414.3h1.7v1.7h-1.7zM101.8 415.8h1.7v1.7h-1.7zM99.6 430h1.7v1.7h-1.7zM99.7 438.7h1.7v1.7h-1.7zM114.4 430.4h1.7v1.7h-1.7zM115.2 422.7h1.7v1.7h-1.7zM108.7 436.6h1.7v1.7h-1.7zM100.4 418.2h1.7v1.7h-1.7zM98.7 418h1.7v1.7h-1.7zM105.4 423.9h1.7v1.7h-1.7zM104.7 413.7h1.7v1.7h-1.7zM114.5 422h1.7v1.7h-1.7zM111.3 436.6h1.7v1.7h-1.7zM107.9 414.8h1.7v1.7h-1.7zM106.1 422.5h1.7v1.7h-1.7zM104.4 416.1h1.7v1.7h-1.7zM103.1 428.9h1.7v1.7h-1.7zM108.2 430.7h1.7v1.7h-1.7zM103.3 417.5h1.7v1.7h-1.7zM97.5 423.1h1.7v1.7h-1.7zM104.9 420.7h1.7v1.7h-1.7zM112.4 421.5h1.7v1.7h-1.7zM112.4 429.8h1.7v1.7h-1.7zM107.8 443.1h1.7v1.7h-1.7zM104.2 424.1h1.7v1.7h-1.7zM102 423.6h1.7v1.7h-1.7zM107.1 425.2h1.7v1.7h-1.7zM124.7 430h1.7v1.7h-1.7zM125.2 441.7h1.7v1.7h-1.7zM131.1 420.8h1.7v1.7h-1.7zM128.7 441.3h1.7v1.7h-1.7zM128.7 418.7h1.7v1.7h-1.7zM135.7 422.1h1.7v1.7h-1.7zM118.8 418.5h1.7v1.7h-1.7zM129.9 436.5h1.7v1.7h-1.7zM134.5 420.1h1.7v1.7h-1.7zM134.1 437.3h1.7v1.7h-1.7zM128.3 433.4h1.7v1.7h-1.7zM123.3 422h1.7v1.7h-1.7zM129 434.8h1.7v1.7h-1.7zM127.7 417h1.7v1.7h-1.7zM128.2 417.4h1.7v1.7h-1.7zM128.1 415.1h1.7v1.7h-1.7zM118.5 431h1.7v1.7h-1.7zM127.9 423h1.7v1.7h-1.7zM135.4 426.1h1.7v1.7h-1.7zM126.6 425.8h1.7v1.7h-1.7z" fill="#000"/>
<path d="M45 421.9h1.3v1.3h-1.3zM48.8 427.7h1.3v1.3h-1.3zM41.6 428.4h1.3v1.3h-1.3zM40.9 422.6h1.3v1.3h-1.3zM50.3 426.3h1.3v1.3h-1.3z" fill="#2727F0"/>
<rect x="36.2" y="447.9" width="18" height="2.5" fill="#000"/>
<rect x="61.8" y="447.9" width="8" height="2.5" fill="#000"/>
<rect x="77.5" y="447.9" width="18" height="2.5" fill="#000"/>
<rect x="98.2" y="447.9" width="18" height="2.5" fill="#000"/>
<rect x="118.8" y="447.9" width="18" height="2.5" fill="#000"/>
<path d="M33 400V451.2H140.3" fill="none" stroke="#3a3a3a" stroke-width="1"/>
<path d="M33 449.2h-2" stroke="#3a3a3a" stroke-width="0.9"/>
<text x="29.1" y="452.3" font-size="7.2" font-weight="normal" fill="#111" text-anchor="end">0</text>
<path d="M33 440.1h-2" stroke="#3a3a3a" stroke-width="0.9"/>
<text x="29.1" y="443.2" font-size="7.2" font-weight="normal" fill="#111" text-anchor="end">1</text>
<path d="M33 431.1h-2" stroke="#3a3a3a" stroke-width="0.9"/>
<text x="29.1" y="434.2" font-size="7.2" font-weight="normal" fill="#111" text-anchor="end">2</text>
<path d="M33 422.1h-2" stroke="#3a3a3a" stroke-width="0.9"/>
<text x="29.1" y="425.2" font-size="7.2" font-weight="normal" fill="#111" text-anchor="end">3</text>
<path d="M33 413h-2" stroke="#3a3a3a" stroke-width="0.9"/>
<text x="29.1" y="416.1" font-size="7.2" font-weight="normal" fill="#111" text-anchor="end">4</text>
<path d="M33 403.9h-2" stroke="#3a3a3a" stroke-width="0.9"/>
<text x="29.1" y="407.1" font-size="7.2" font-weight="normal" fill="#111" text-anchor="end">5</text>
<path d="M45.2 451.2v2" stroke="#3a3a3a" stroke-width="0.9"/>
<text x="0" y="0" font-size="7.1" font-weight="normal" fill="#111" text-anchor="end" stroke="#111" stroke-width="0.12" transform="translate(49.8 458.7) rotate(-45)">Tenocyte A</text>
<path d="M65.8 451.2v2" stroke="#3a3a3a" stroke-width="0.9"/>
<text x="0" y="0" font-size="7.1" font-weight="normal" fill="#111" text-anchor="end" stroke="#111" stroke-width="0.12" transform="translate(70.4 458.7) rotate(-45)">Tenocyte B</text>
<path d="M86.5 451.2v2" stroke="#3a3a3a" stroke-width="0.9"/>
<text x="0" y="0" font-size="7.1" font-weight="normal" fill="#111" text-anchor="end" stroke="#111" stroke-width="0.12" transform="translate(91.1 458.7) rotate(-45)">Tenocyte C</text>
<path d="M107.2 451.2v2" stroke="#3a3a3a" stroke-width="0.9"/>
<text x="0" y="0" font-size="7.1" font-weight="normal" fill="#111" text-anchor="end" stroke="#111" stroke-width="0.12" transform="translate(111.8 458.7) rotate(-45)">Tenocyte D</text>
<path d="M127.8 451.2v2" stroke="#3a3a3a" stroke-width="0.9"/>
<text x="0" y="0" font-size="7.1" font-weight="normal" fill="#111" text-anchor="end" stroke="#111" stroke-width="0.12" transform="translate(132.4 458.7) rotate(-45)">Tenocyte E</text>
<text x="86.7" y="492.9" font-size="8" font-weight="normal" fill="#111" text-anchor="middle" stroke="#111" stroke-width="0.1">Identity</text>
<text x="0" y="0" font-size="7.8" font-weight="normal" fill="#111" text-anchor="middle" stroke="#111" stroke-width="0.1" transform="translate(20.9 426.3) rotate(-90)">Expression Level</text>
<text x="221.7" y="395.6" font-size="8.3" font-weight="bold" fill="#111" text-anchor="middle" stroke="#111" stroke-width="0.25" textLength="22.4" lengthAdjust="spacingAndGlyphs">ITGA7</text>
<path d="M180.2 449.2V423.8" stroke="#8c8c8c" stroke-width="1"/>
<path d="M200.8 449.2V431.1" stroke="#8c8c8c" stroke-width="1"/>
<path d="M221.5 449.2V402.6" stroke="#8c8c8c" stroke-width="1"/>
<path d="M242.1 449.2V422.6" stroke="#8c8c8c" stroke-width="1"/>
<path d="M262.8 449.2V431.1" stroke="#8c8c8c" stroke-width="1"/>
<path d="M173.4 438.9 L172.7 440.1 L173 441.3 L172.9 442.5 L188.2 442.5 L188 441.3 L186.8 440.1 L187.2 438.9 L185 437.1 L183.8 437.2 L182.6 437 L181.4 437.5 L180.2 437.3 L179 437.5 L177.8 436.9 L176.6 437.1 L175.4 437.7Z" fill="#000"/>
<path d="M193.9 438.3 L194.2 439.7 L193.5 441 L193.5 442.4 L208 442.4 L208.3 441 L207.3 439.7 L207.7 438.3 L205.7 438.1 L204.4 438.1 L203.2 438.1 L202 437.9 L200.8 438 L199.7 437.7 L198.4 437.6 L197.2 438.3 L196 437.8Z" fill="#000"/>
<path d="M213.7 418.9 L213.1 420.1 L212.7 421.2 L212.3 422.4 L212.5 423.5 L212.5 424.7 L212.1 425.8 L212.6 427 L212.1 428.1 L212.9 429.3 L212.3 430.4 L213 431.6 L212.6 432.7 L212.2 433.9 L213 435 L212.7 436.1 L212.9 437.3 L212.3 438.4 L212.9 439.6 L231 439.6 L230.3 438.4 L231.1 437.3 L230.1 436.1 L231 435 L230.4 433.9 L230.7 432.7 L231 431.6 L230.7 430.4 L230.8 429.3 L231.1 428.1 L231.1 427 L230.8 425.8 L230.2 424.7 L230.1 423.5 L230.3 422.4 L230 421.2 L229.4 420.1 L228.5 418.9 L227.2 418.8 L226 418 L224.7 418.9 L223.4 418.5 L222.1 418.9 L220.9 418 L219.6 418.5 L218.3 418.8 L217 418.4 L215.8 418.3Z" fill="#000"/>
<path d="M220.9 441.3 L217.5 445.6 L212.5 448.6 L221.5 448.6 L221.5 445.6 L221.5 441.3Z" fill="#000"/>
<path d="M221.5 441.3 L221.5 445.6 L221.5 448.6 L230.5 448.6 L225.5 445.6 L222.1 441.3Z" fill="#2727F0"/>
<path d="M174.7 439.7h1v1h-1zM179.8 438.4h1v1h-1zM184.4 442.4h1v1h-1zM176.1 438.3h1v1h-1zM183.5 437.6h1v1h-1zM172.6 441.9h1v1h-1zM183.7 438h1v1h-1zM183.6 442.7h1v1h-1zM181.4 438.6h1v1h-1zM185.8 438.2h1v1h-1zM184.4 441.3h1v1h-1zM177.4 437.7h1v1h-1zM206.4 438.8h1v1h-1zM207.1 441.2h1v1h-1zM206 443.2h1v1h-1zM201 443.1h1v1h-1zM204.1 441.1h1v1h-1zM196.2 441.5h1v1h-1zM201 439h1v1h-1zM200.2 439.1h1v1h-1zM204.4 443.1h1v1h-1zM199.9 442.1h1v1h-1zM196.7 443.3h1v1h-1zM203.8 439.6h1v1h-1zM224.8 439.9h1v1h-1zM220.2 431.6h1v1h-1zM218.8 427.3h1v1h-1zM212.8 435h1v1h-1zM228.2 421.2h1v1h-1zM220.5 434h1v1h-1zM213.5 433.2h1v1h-1zM226.4 420.8h1v1h-1zM216.9 435h1v1h-1zM226.1 425h1v1h-1zM219.1 430h1v1h-1zM226.2 435.1h1v1h-1zM227 421.4h1v1h-1zM222.7 437.7h1v1h-1zM224.1 418.8h1v1h-1zM215 430.2h1v1h-1zM225 438.9h1v1h-1zM226.3 438.7h1v1h-1zM220.6 425.7h1v1h-1zM228 420.8h1v1h-1zM214.2 426.8h1v1h-1zM219.7 427.4h1v1h-1zM228.4 434.8h1v1h-1zM214.6 424.3h1v1h-1zM218.4 435.2h1v1h-1zM218.1 427.8h1v1h-1zM226.4 430.7h1v1h-1zM224.8 436.3h1v1h-1zM228.7 433h1v1h-1zM218.4 419.5h1v1h-1zM214.4 427h1v1h-1zM223.2 431.3h1v1h-1zM218.4 426.3h1v1h-1zM214.6 439.5h1v1h-1zM215.4 428h1v1h-1zM223.1 433.6h1v1h-1zM221.3 420.6h1v1h-1zM222.5 434.7h1v1h-1zM225.9 434.2h1v1h-1zM217 436.8h1v1h-1zM228 430.7h1v1h-1zM215.8 436.6h1v1h-1zM216.2 437.4h1v1h-1zM219.3 433h1v1h-1zM219.4 423.7h1v1h-1zM219.3 429.9h1v1h-1zM227.9 423.4h1v1h-1zM228.3 431h1v1h-1zM229.2 434.8h1v1h-1zM224.2 428.8h1v1h-1zM217.1 431.9h1v1h-1zM227.6 437.3h1v1h-1zM224.4 432.4h1v1h-1zM221.5 430.2h1v1h-1zM215.5 435.7h1v1h-1zM224.2 432.9h1v1h-1zM212.5 428.4h1v1h-1zM219.9 424.7h1v1h-1zM216.9 438.7h1v1h-1zM226.6 435.6h1v1h-1z" fill="#fff"/>
<path d="M186.7 440.9h1.7v1.7h-1.7zM186.3 437.1h1.7v1.7h-1.7zM172.4 439.8h1.7v1.7h-1.7zM187 440.8h1.7v1.7h-1.7zM182.6 435.5h1.7v1.7h-1.7zM184.6 435.9h1.7v1.7h-1.7zM179.3 436.7h1.7v1.7h-1.7zM184.6 435.7h1.7v1.7h-1.7zM178.1 434.9h1.7v1.7h-1.7zM179.9 436.5h1.7v1.7h-1.7zM177.3 436.7h1.7v1.7h-1.7zM175.2 436.2h1.7v1.7h-1.7zM181.8 436.1h1.7v1.7h-1.7zM181.9 426.4h1.7v1.7h-1.7zM184.2 427.7h1.7v1.7h-1.7zM176.2 431.1h1.7v1.7h-1.7zM179.9 432.4h1.7v1.7h-1.7zM184.4 424.1h1.7v1.7h-1.7zM175.7 426.2h1.7v1.7h-1.7zM184.4 440h1.7v1.7h-1.7zM184.1 440.6h1.7v1.7h-1.7zM175.4 439.8h1.7v1.7h-1.7zM184.2 438h1.7v1.7h-1.7zM173.2 444.7h1.7v1.7h-1.7zM172.3 438.1h1.7v1.7h-1.7zM173.3 442.9h1.7v1.7h-1.7zM171.7 434.2h1.7v1.7h-1.7zM182.4 439.3h1.7v1.7h-1.7zM171.9 440.6h1.7v1.7h-1.7zM186.1 439.2h1.7v1.7h-1.7zM177.7 434.8h1.7v1.7h-1.7zM176.5 440h1.7v1.7h-1.7zM174.7 439h1.7v1.7h-1.7zM184.5 438.1h1.7v1.7h-1.7zM179.9 443.9h1.7v1.7h-1.7zM177.3 439.8h1.7v1.7h-1.7zM175.6 440.8h1.7v1.7h-1.7zM174.2 440.3h1.7v1.7h-1.7zM176.2 434.4h1.7v1.7h-1.7zM181.8 440.5h1.7v1.7h-1.7zM179 433.4h1.7v1.7h-1.7zM187.3 444.2h1.7v1.7h-1.7zM178.4 434.6h1.7v1.7h-1.7zM175 444.8h1.7v1.7h-1.7zM175 441.7h1.7v1.7h-1.7zM184.2 436.4h1.7v1.7h-1.7zM173.2 437.1h1.7v1.7h-1.7zM179 435.5h1.7v1.7h-1.7zM186.4 443.6h1.7v1.7h-1.7zM177.1 435.4h1.7v1.7h-1.7zM183.7 436.2h1.7v1.7h-1.7zM187 436.3h1.7v1.7h-1.7zM179.6 440.7h1.7v1.7h-1.7zM175.5 441.5h1.7v1.7h-1.7zM186.8 442.5h1.7v1.7h-1.7zM186.7 438.1h1.7v1.7h-1.7zM187.7 436.2h1.7v1.7h-1.7zM172.9 440.8h1.7v1.7h-1.7zM186.1 435.5h1.7v1.7h-1.7zM177.8 441.3h1.7v1.7h-1.7zM185.6 438.6h1.7v1.7h-1.7zM185.1 439.3h1.7v1.7h-1.7zM174.2 443.3h1.7v1.7h-1.7zM183.9 435.2h1.7v1.7h-1.7zM173.9 442.3h1.7v1.7h-1.7zM184.8 438.7h1.7v1.7h-1.7zM188 439.4h1.7v1.7h-1.7zM174.3 440.6h1.7v1.7h-1.7zM180.7 441.5h1.7v1.7h-1.7zM186.4 437.1h1.7v1.7h-1.7zM176.9 435.2h1.7v1.7h-1.7zM172.3 440.7h1.7v1.7h-1.7zM180.8 436h1.7v1.7h-1.7zM178.4 437.7h1.7v1.7h-1.7zM176.7 436.2h1.7v1.7h-1.7zM177.9 439.6h1.7v1.7h-1.7zM181 435.9h1.7v1.7h-1.7zM180.1 433h1.7v1.7h-1.7zM176 441.3h1.7v1.7h-1.7zM179.2 438.2h1.7v1.7h-1.7zM180.5 436.5h1.7v1.7h-1.7zM173.2 439h1.7v1.7h-1.7zM176.6 438.3h1.7v1.7h-1.7zM174.6 438h1.7v1.7h-1.7zM184.4 445.5h1.7v1.7h-1.7zM179.9 442.8h1.7v1.7h-1.7zM171.1 437.9h1.7v1.7h-1.7zM182.8 435.2h1.7v1.7h-1.7zM177.2 437.5h1.7v1.7h-1.7zM193.5 438.5h1.7v1.7h-1.7zM207.4 438.5h1.7v1.7h-1.7zM192.8 439.3h1.7v1.7h-1.7zM206.3 437.6h1.7v1.7h-1.7zM200.4 437.1h1.7v1.7h-1.7zM198 437h1.7v1.7h-1.7zM196.8 437.4h1.7v1.7h-1.7zM199.3 437.3h1.7v1.7h-1.7zM204.4 437.1h1.7v1.7h-1.7zM197.6 435.6h1.7v1.7h-1.7zM196.8 437.2h1.7v1.7h-1.7zM202.7 436.5h1.7v1.7h-1.7zM198.2 437.4h1.7v1.7h-1.7zM202.5 443.3h1.7v1.7h-1.7zM203 443.9h1.7v1.7h-1.7zM194.7 438.4h1.7v1.7h-1.7zM204.1 443.4h1.7v1.7h-1.7zM194.6 440.7h1.7v1.7h-1.7zM192.7 440.8h1.7v1.7h-1.7zM197.3 437.6h1.7v1.7h-1.7zM194.1 440.3h1.7v1.7h-1.7zM204.2 443.3h1.7v1.7h-1.7zM193.7 436.6h1.7v1.7h-1.7zM192.7 436.9h1.7v1.7h-1.7zM195.9 439.9h1.7v1.7h-1.7zM206.9 436.7h1.7v1.7h-1.7zM204.5 437.9h1.7v1.7h-1.7zM203.5 440.7h1.7v1.7h-1.7zM208.1 441.8h1.7v1.7h-1.7zM208.2 440.6h1.7v1.7h-1.7zM196.8 437.5h1.7v1.7h-1.7zM194.6 439.7h1.7v1.7h-1.7zM191.4 445h1.7v1.7h-1.7zM206 437.5h1.7v1.7h-1.7zM207.2 440h1.7v1.7h-1.7zM195.9 439.5h1.7v1.7h-1.7zM197.6 439.6h1.7v1.7h-1.7zM193.2 438.6h1.7v1.7h-1.7zM201.4 439h1.7v1.7h-1.7zM199 438.1h1.7v1.7h-1.7zM204.9 441h1.7v1.7h-1.7zM204 436.8h1.7v1.7h-1.7zM205.2 443.2h1.7v1.7h-1.7zM201.1 434.9h1.7v1.7h-1.7zM193.4 442.2h1.7v1.7h-1.7zM206.9 439.5h1.7v1.7h-1.7zM207.7 440.8h1.7v1.7h-1.7zM207 440.6h1.7v1.7h-1.7zM195.3 435.8h1.7v1.7h-1.7zM200.6 439h1.7v1.7h-1.7zM200 438.6h1.7v1.7h-1.7zM203 442h1.7v1.7h-1.7zM198.7 438.6h1.7v1.7h-1.7zM208.7 436.4h1.7v1.7h-1.7zM191.7 438.3h1.7v1.7h-1.7zM195.9 436h1.7v1.7h-1.7zM200.5 438.8h1.7v1.7h-1.7zM194.1 438.9h1.7v1.7h-1.7zM202.2 439.5h1.7v1.7h-1.7zM206.5 441h1.7v1.7h-1.7zM204.8 438.6h1.7v1.7h-1.7zM199.5 438.5h1.7v1.7h-1.7zM198.2 437.7h1.7v1.7h-1.7zM208.2 440.9h1.7v1.7h-1.7zM207 443.7h1.7v1.7h-1.7zM194.6 434.1h1.7v1.7h-1.7zM193.1 446h1.7v1.7h-1.7zM206.3 441.7h1.7v1.7h-1.7zM201.8 439.2h1.7v1.7h-1.7zM192.8 444.3h1.7v1.7h-1.7zM205.1 438.7h1.7v1.7h-1.7zM204 440.2h1.7v1.7h-1.7zM198.4 441.5h1.7v1.7h-1.7zM229.8 419.1h1.7v1.7h-1.7zM211.7 423.9h1.7v1.7h-1.7zM210.8 429.2h1.7v1.7h-1.7zM230.9 428.7h1.7v1.7h-1.7zM210.3 430.7h1.7v1.7h-1.7zM211.2 434.7h1.7v1.7h-1.7zM230 420.5h1.7v1.7h-1.7zM229.3 428.7h1.7v1.7h-1.7zM211.9 432.7h1.7v1.7h-1.7zM209.5 437.2h1.7v1.7h-1.7zM229.8 429.3h1.7v1.7h-1.7zM229.3 424.7h1.7v1.7h-1.7zM211.1 424h1.7v1.7h-1.7zM229.4 427.8h1.7v1.7h-1.7zM230 432.4h1.7v1.7h-1.7zM229.9 422.4h1.7v1.7h-1.7zM229.8 437.6h1.7v1.7h-1.7zM224.1 416.9h1.7v1.7h-1.7zM220.9 416.4h1.7v1.7h-1.7zM221.5 416.6h1.7v1.7h-1.7zM222.8 417.3h1.7v1.7h-1.7zM221.9 416.1h1.7v1.7h-1.7zM221.7 418h1.7v1.7h-1.7zM215.5 417h1.7v1.7h-1.7zM219.7 417.5h1.7v1.7h-1.7zM221.5 417.3h1.7v1.7h-1.7zM219.6 417.2h1.7v1.7h-1.7zM218.9 417.6h1.7v1.7h-1.7zM221.6 416.2h1.7v1.7h-1.7zM216.1 416.8h1.7v1.7h-1.7zM216.7 415.9h1.7v1.7h-1.7zM225.9 408.4h1.7v1.7h-1.7zM224.2 406.7h1.7v1.7h-1.7zM223.4 419.8h1.7v1.7h-1.7zM212.5 418.9h1.7v1.7h-1.7zM216.3 412.8h1.7v1.7h-1.7zM226.4 411.8h1.7v1.7h-1.7zM219.4 417.6h1.7v1.7h-1.7zM229.3 409h1.7v1.7h-1.7zM217.8 421h1.7v1.7h-1.7zM229.3 417.4h1.7v1.7h-1.7zM226.9 419.7h1.7v1.7h-1.7zM223.4 415.7h1.7v1.7h-1.7zM227.7 416.7h1.7v1.7h-1.7zM213.5 418.4h1.7v1.7h-1.7zM226.2 405.2h1.7v1.7h-1.7zM223.2 410.2h1.7v1.7h-1.7zM216.7 417.1h1.7v1.7h-1.7zM213.2 405h1.7v1.7h-1.7zM212.4 411.4h1.7v1.7h-1.7zM217.9 418.6h1.7v1.7h-1.7zM219.5 406h1.7v1.7h-1.7zM216.1 418.9h1.7v1.7h-1.7zM223 410.6h1.7v1.7h-1.7zM220.8 418.7h1.7v1.7h-1.7zM227.4 419.9h1.7v1.7h-1.7zM214.8 417.6h1.7v1.7h-1.7zM220.9 413.7h1.7v1.7h-1.7zM221.6 409.4h1.7v1.7h-1.7zM227.7 413.8h1.7v1.7h-1.7zM212.4 407.7h1.7v1.7h-1.7zM212 416.3h1.7v1.7h-1.7zM214.2 411.5h1.7v1.7h-1.7zM225.7 419.5h1.7v1.7h-1.7zM216.9 407.3h1.7v1.7h-1.7zM224.1 419.9h1.7v1.7h-1.7zM224 408.3h1.7v1.7h-1.7zM219 419.1h1.7v1.7h-1.7zM244.2 435.7h1.7v1.7h-1.7zM234.7 438.9h1.7v1.7h-1.7zM239.5 439.7h1.7v1.7h-1.7zM239.2 431h1.7v1.7h-1.7zM242.2 434h1.7v1.7h-1.7zM246.7 440.5h1.7v1.7h-1.7zM238.2 423.1h1.7v1.7h-1.7zM247.9 423.4h1.7v1.7h-1.7zM246.1 431.3h1.7v1.7h-1.7zM246.5 430.5h1.7v1.7h-1.7zM234.4 437h1.7v1.7h-1.7zM234.1 424.3h1.7v1.7h-1.7zM238.1 433.9h1.7v1.7h-1.7zM242 440.2h1.7v1.7h-1.7zM245 425.9h1.7v1.7h-1.7zM267.3 431.6h1.7v1.7h-1.7zM258.7 440.5h1.7v1.7h-1.7zM266.7 433.9h1.7v1.7h-1.7z" fill="#000"/>
<rect x="171.2" y="447.9" width="18" height="2.5" fill="#000"/>
<rect x="191.8" y="447.9" width="18" height="2.5" fill="#000"/>
<rect x="212.5" y="447.9" width="18" height="2.5" fill="#000"/>
<rect x="233.1" y="447.9" width="18" height="2.5" fill="#000"/>
<rect x="253.8" y="447.9" width="18" height="2.5" fill="#000"/>
<path d="M168 400V451.2H275.3" fill="none" stroke="#3a3a3a" stroke-width="1"/>
<path d="M168 449.2h-2" stroke="#3a3a3a" stroke-width="0.9"/>
<text x="164.1" y="452.3" font-size="7.2" font-weight="normal" fill="#111" text-anchor="end">0</text>
<path d="M168 437.1h-2" stroke="#3a3a3a" stroke-width="0.9"/>
<text x="164.1" y="440.2" font-size="7.2" font-weight="normal" fill="#111" text-anchor="end">1</text>
<path d="M168 425h-2" stroke="#3a3a3a" stroke-width="0.9"/>
<text x="164.1" y="428.1" font-size="7.2" font-weight="normal" fill="#111" text-anchor="end">2</text>
<path d="M168 412.9h-2" stroke="#3a3a3a" stroke-width="0.9"/>
<text x="164.1" y="416" font-size="7.2" font-weight="normal" fill="#111" text-anchor="end">3</text>
<path d="M168 400.8h-2" stroke="#3a3a3a" stroke-width="0.9"/>
<text x="164.1" y="403.9" font-size="7.2" font-weight="normal" fill="#111" text-anchor="end">4</text>
<path d="M180.2 451.2v2" stroke="#3a3a3a" stroke-width="0.9"/>
<text x="0" y="0" font-size="7.1" font-weight="normal" fill="#111" text-anchor="end" stroke="#111" stroke-width="0.12" transform="translate(184.8 458.7) rotate(-45)">Tenocyte A</text>
<path d="M200.8 451.2v2" stroke="#3a3a3a" stroke-width="0.9"/>
<text x="0" y="0" font-size="7.1" font-weight="normal" fill="#111" text-anchor="end" stroke="#111" stroke-width="0.12" transform="translate(205.4 458.7) rotate(-45)">Tenocyte B</text>
<path d="M221.5 451.2v2" stroke="#3a3a3a" stroke-width="0.9"/>
<text x="0" y="0" font-size="7.1" font-weight="normal" fill="#111" text-anchor="end" stroke="#111" stroke-width="0.12" transform="translate(226.1 458.7) rotate(-45)">Tenocyte C</text>
<path d="M242.1 451.2v2" stroke="#3a3a3a" stroke-width="0.9"/>
<text x="0" y="0" font-size="7.1" font-weight="normal" fill="#111" text-anchor="end" stroke="#111" stroke-width="0.12" transform="translate(246.7 458.7) rotate(-45)">Tenocyte D</text>
<path d="M262.8 451.2v2" stroke="#3a3a3a" stroke-width="0.9"/>
<text x="0" y="0" font-size="7.1" font-weight="normal" fill="#111" text-anchor="end" stroke="#111" stroke-width="0.12" transform="translate(267.4 458.7) rotate(-45)">Tenocyte E</text>
<text x="221.7" y="492.9" font-size="8" font-weight="normal" fill="#111" text-anchor="middle" stroke="#111" stroke-width="0.1">Identity</text>
<text x="0" y="0" font-size="7.8" font-weight="normal" fill="#111" text-anchor="middle" stroke="#111" stroke-width="0.1" transform="translate(155.9 426.3) rotate(-90)">Expression Level</text>
<text x="356.1" y="395.6" font-size="8.3" font-weight="bold" fill="#111" text-anchor="middle" stroke="#111" stroke-width="0.25" textLength="20.7" lengthAdjust="spacingAndGlyphs">RGS5</text>
<path d="M314.6 449.2V423.4" stroke="#8c8c8c" stroke-width="1"/>
<path d="M335.2 449.2V414.4" stroke="#8c8c8c" stroke-width="1"/>
<path d="M355.9 449.2V402.8" stroke="#8c8c8c" stroke-width="1"/>
<path d="M376.5 449.2V416.5" stroke="#8c8c8c" stroke-width="1"/>
<path d="M397.2 449.2V425.1" stroke="#8c8c8c" stroke-width="1"/>
<path d="M351.2 403 L349.9 404.1 L348.4 405.2 L347.7 406.4 L347.4 407.5 L347 408.6 L346.7 409.7 L346.9 410.8 L346.5 411.9 L346.3 413 L346.3 414.1 L346.6 415.3 L346.9 416.4 L346.3 417.5 L346.6 418.6 L346.3 419.7 L346.8 420.8 L346.3 421.9 L346.6 423 L346.8 424.2 L346.1 425.3 L346.5 426.4 L346.3 427.5 L345.9 428.6 L346.2 429.7 L346.8 430.8 L346.6 431.9 L346.5 433.1 L346.1 434.2 L346.7 435.3 L347.6 436.4 L348.5 437.5 L350 438.6 L360.3 438.6 L362.1 437.5 L363.4 436.4 L364.7 435.3 L365.5 434.2 L365.5 433.1 L364.6 431.9 L364.6 430.8 L365.3 429.7 L365.5 428.6 L364.8 427.5 L364.8 426.4 L365.1 425.3 L365.4 424.2 L364.9 423 L364.8 421.9 L364.6 420.8 L364.5 419.7 L365.5 418.6 L365.2 417.5 L364.7 416.4 L365.2 415.3 L365 414.1 L364.2 413 L364.7 411.9 L364.7 410.8 L364.6 409.7 L363.9 408.6 L363.7 407.5 L363.2 406.4 L362.9 405.2 L361.6 404.1 L360.2 403 L356.6 401.3 L355.2 401.3Z" fill="#000"/>
<path d="M355.4 442.3 L346.9 448.8 L355.9 448.8 L355.9 442.3Z" fill="#000"/>
<path d="M355.9 434.6 L355.9 440.6 L355.9 444.9 L355.9 448.8 L364.9 448.8 L363.9 444.9 L360.9 440.6 L356.9 434.6Z" fill="#2727F0"/>
<path d="M354.5 404.4h1v1h-1zM353.6 432.2h1v1h-1zM354 416.9h1v1h-1zM352.6 439.1h1v1h-1zM349 412.3h1v1h-1zM360.6 429.6h1v1h-1z" fill="#fff"/>
<path d="M311.4 441.7h1.7v1.7h-1.7zM319.7 442.6h1.7v1.7h-1.7zM313 439.8h1.7v1.7h-1.7zM310.5 440.3h1.7v1.7h-1.7zM314 444.4h1.7v1.7h-1.7zM311.1 441.7h1.7v1.7h-1.7zM320.3 442.7h1.7v1.7h-1.7zM318.4 444.7h1.7v1.7h-1.7zM309.7 444.5h1.7v1.7h-1.7zM320.7 442.6h1.7v1.7h-1.7zM306.3 440.5h1.7v1.7h-1.7zM308.3 444.3h1.7v1.7h-1.7zM319.3 440.5h1.7v1.7h-1.7zM314.3 441.7h1.7v1.7h-1.7zM312.1 445.5h1.7v1.7h-1.7zM335.4 442.4h1.7v1.7h-1.7zM327.3 432.5h1.7v1.7h-1.7zM327.9 435.4h1.7v1.7h-1.7zM339.9 443.5h1.7v1.7h-1.7zM337.9 446h1.7v1.7h-1.7zM325.6 439.3h1.7v1.7h-1.7zM329.7 441.2h1.7v1.7h-1.7zM335 440.2h1.7v1.7h-1.7zM339.3 443h1.7v1.7h-1.7zM341.6 437.7h1.7v1.7h-1.7zM364.9 427.5h1.7v1.7h-1.7zM364.7 412.8h1.7v1.7h-1.7zM345.8 428.1h1.7v1.7h-1.7zM364.6 421.3h1.7v1.7h-1.7zM364.3 405.6h1.7v1.7h-1.7zM346.5 408h1.7v1.7h-1.7zM364.2 411h1.7v1.7h-1.7zM345.4 434.7h1.7v1.7h-1.7zM345.3 416.3h1.7v1.7h-1.7zM346.3 407h1.7v1.7h-1.7zM345.5 427.3h1.7v1.7h-1.7zM359.5 402.3h1.7v1.7h-1.7zM364 418.3h1.7v1.7h-1.7zM359 401.7h1.7v1.7h-1.7zM357.8 401.1h1.7v1.7h-1.7zM347.3 402.7h1.7v1.7h-1.7zM364.1 428.9h1.7v1.7h-1.7zM366.3 425.2h1.7v1.7h-1.7zM346.3 405.7h1.7v1.7h-1.7zM344.5 407.8h1.7v1.7h-1.7zM344.6 429.3h1.7v1.7h-1.7zM345.7 416.9h1.7v1.7h-1.7zM364.4 435.3h1.7v1.7h-1.7zM361.8 436.2h1.7v1.7h-1.7zM362.3 435.9h1.7v1.7h-1.7zM345.9 408.6h1.7v1.7h-1.7zM363.9 403.8h1.7v1.7h-1.7zM365.6 428.5h1.7v1.7h-1.7zM363.7 413.5h1.7v1.7h-1.7zM364.1 423.4h1.7v1.7h-1.7zM356.5 400.4h1.7v1.7h-1.7zM353.6 400.7h1.7v1.7h-1.7zM360.8 400.8h1.7v1.7h-1.7zM349.8 405.3h1.7v1.7h-1.7zM359.1 402.3h1.7v1.7h-1.7zM352.9 405.3h1.7v1.7h-1.7zM354 404.1h1.7v1.7h-1.7zM356.5 400.3h1.7v1.7h-1.7zM350.4 405h1.7v1.7h-1.7zM358.2 404.8h1.7v1.7h-1.7zM350.6 403.1h1.7v1.7h-1.7zM362.8 403.7h1.7v1.7h-1.7zM352.1 402.9h1.7v1.7h-1.7zM349.6 403.3h1.7v1.7h-1.7zM358.3 403.7h1.7v1.7h-1.7zM359.8 404.4h1.7v1.7h-1.7zM348.7 402.1h1.7v1.7h-1.7zM371.4 430.7h1.7v1.7h-1.7zM378.8 438.6h1.7v1.7h-1.7zM373.6 441.7h1.7v1.7h-1.7zM381 439.8h1.7v1.7h-1.7zM369.1 437.6h1.7v1.7h-1.7zM378.2 429.3h1.7v1.7h-1.7zM376.1 424.2h1.7v1.7h-1.7zM380.2 439.2h1.7v1.7h-1.7zM376.3 440.1h1.7v1.7h-1.7zM371.1 440.6h1.7v1.7h-1.7zM368.1 435.9h1.7v1.7h-1.7zM382.7 428.8h1.7v1.7h-1.7zM368.3 439h1.7v1.7h-1.7zM377.3 431.7h1.7v1.7h-1.7zM367.2 441.9h1.7v1.7h-1.7zM376.9 430.1h1.7v1.7h-1.7zM368.1 426.1h1.7v1.7h-1.7zM371 430.4h1.7v1.7h-1.7zM376.2 436.2h1.7v1.7h-1.7zM383.7 434.9h1.7v1.7h-1.7zM374.3 431.5h1.7v1.7h-1.7zM381.8 421.1h1.7v1.7h-1.7zM380.6 431.5h1.7v1.7h-1.7zM379.6 429.2h1.7v1.7h-1.7zM384 421.5h1.7v1.7h-1.7zM380.4 439h1.7v1.7h-1.7zM376.9 433.8h1.7v1.7h-1.7zM370.9 425.9h1.7v1.7h-1.7zM370.7 427.6h1.7v1.7h-1.7zM375.5 434.1h1.7v1.7h-1.7zM379.4 427.2h1.7v1.7h-1.7zM384.5 420.9h1.7v1.7h-1.7zM381.1 437.9h1.7v1.7h-1.7zM378.7 432.5h1.7v1.7h-1.7zM383.6 433.7h1.7v1.7h-1.7zM395.8 441.2h1.7v1.7h-1.7zM396.9 439.8h1.7v1.7h-1.7zM396.1 441.3h1.7v1.7h-1.7zM388.6 438.7h1.7v1.7h-1.7zM393.6 438.4h1.7v1.7h-1.7zM396.4 436.5h1.7v1.7h-1.7zM389.8 444.8h1.7v1.7h-1.7zM387.7 441.4h1.7v1.7h-1.7zM392.4 444.8h1.7v1.7h-1.7zM400.7 442.9h1.7v1.7h-1.7zM396.2 437.6h1.7v1.7h-1.7zM389.7 440.5h1.7v1.7h-1.7zM391.1 441h1.7v1.7h-1.7zM394.3 443.6h1.7v1.7h-1.7zM404.7 437.4h1.7v1.7h-1.7zM404.7 445.8h1.7v1.7h-1.7zM398.9 438.5h1.7v1.7h-1.7zM393.4 445.1h1.7v1.7h-1.7zM397 430.1h1.7v1.7h-1.7zM397.8 438.2h1.7v1.7h-1.7zM394.1 434.1h1.7v1.7h-1.7zM398.9 437.7h1.7v1.7h-1.7zM394 442.6h1.7v1.7h-1.7zM392.3 431.2h1.7v1.7h-1.7zM392.2 438.2h1.7v1.7h-1.7zM396.1 442.5h1.7v1.7h-1.7zM391.1 438.5h1.7v1.7h-1.7zM401.7 440.9h1.7v1.7h-1.7zM401.4 436.6h1.7v1.7h-1.7zM400.2 438.6h1.7v1.7h-1.7z" fill="#000"/>
<path d="M355.8 442.9h1.1v1.1h-1.1zM362.8 448h1.1v1.1h-1.1zM357.4 435.9h1.1v1.1h-1.1zM362.1 447.1h1.1v1.1h-1.1zM358.2 445.8h1.1v1.1h-1.1zM362.5 445.4h1.1v1.1h-1.1zM357.6 436.6h1.1v1.1h-1.1zM361.8 442.8h1.1v1.1h-1.1z" fill="#000"/>
<path d="M358.4 408h1.3v1.3h-1.3zM356 413.2h1.3v1.3h-1.3zM359.9 424.5h1.3v1.3h-1.3zM356.1 417.2h1.3v1.3h-1.3zM360.6 421.4h1.3v1.3h-1.3zM358.6 415h1.3v1.3h-1.3zM359.5 422.9h1.3v1.3h-1.3zM356.6 421.7h1.3v1.3h-1.3zM359.1 408.7h1.3v1.3h-1.3zM362.2 418.9h1.3v1.3h-1.3zM357.5 428.9h1.3v1.3h-1.3zM359.7 413.4h1.3v1.3h-1.3zM357 414.9h1.3v1.3h-1.3zM362.2 423.9h1.3v1.3h-1.3zM361.8 422.5h1.3v1.3h-1.3zM359.8 409.6h1.3v1.3h-1.3zM356.7 425.2h1.3v1.3h-1.3zM362.1 433.7h1.3v1.3h-1.3zM357.4 421.3h1.3v1.3h-1.3zM360.5 416.7h1.3v1.3h-1.3zM361.8 415.5h1.3v1.3h-1.3zM355.3 433.5h1.3v1.3h-1.3zM355.5 422.7h1.3v1.3h-1.3zM355.4 419.8h1.3v1.3h-1.3zM359.7 429.6h1.3v1.3h-1.3zM361.2 423.2h1.3v1.3h-1.3zM362 424.9h1.3v1.3h-1.3zM359.6 419.3h1.3v1.3h-1.3zM357.1 412.2h1.3v1.3h-1.3zM355.3 428.1h1.3v1.3h-1.3zM357.5 409.1h1.3v1.3h-1.3zM358.8 434.6h1.3v1.3h-1.3zM357.3 417.3h1.3v1.3h-1.3zM360.9 432.4h1.3v1.3h-1.3zM360.7 423.9h1.3v1.3h-1.3zM358.9 423h1.3v1.3h-1.3zM358.3 405.8h1.3v1.3h-1.3zM361.7 408h1.3v1.3h-1.3zM360.4 414.6h1.3v1.3h-1.3zM356.2 434.6h1.3v1.3h-1.3zM361.1 415.4h1.3v1.3h-1.3zM359.7 426.2h1.3v1.3h-1.3zM357.1 407.9h1.3v1.3h-1.3zM359 435.1h1.3v1.3h-1.3zM357.6 425.1h1.3v1.3h-1.3zM355.7 406.2h1.3v1.3h-1.3zM361.6 411.1h1.3v1.3h-1.3zM355.3 423.1h1.3v1.3h-1.3zM356 413.8h1.3v1.3h-1.3zM360.9 411.9h1.3v1.3h-1.3zM360.8 432h1.3v1.3h-1.3zM355.3 432.9h1.3v1.3h-1.3zM361.1 410.7h1.3v1.3h-1.3zM358.9 428.6h1.3v1.3h-1.3zM361.2 432h1.3v1.3h-1.3zM357.5 435.6h1.3v1.3h-1.3zM362.1 423.2h1.3v1.3h-1.3zM360.6 411.5h1.3v1.3h-1.3zM359.3 405.9h1.3v1.3h-1.3zM360.7 407.7h1.3v1.3h-1.3zM362 433.2h1.3v1.3h-1.3zM360.5 428.8h1.3v1.3h-1.3zM357.5 425.4h1.3v1.3h-1.3zM362.2 433.8h1.3v1.3h-1.3zM358.3 431.8h1.3v1.3h-1.3zM362.2 420.7h1.3v1.3h-1.3zM360.2 420h1.3v1.3h-1.3zM360.6 425.5h1.3v1.3h-1.3zM358.1 413.2h1.3v1.3h-1.3zM360.2 408.9h1.3v1.3h-1.3zM357.4 410.1h1.3v1.3h-1.3zM360.4 418.4h1.3v1.3h-1.3zM358.1 418.6h1.3v1.3h-1.3zM355.8 432.7h1.3v1.3h-1.3zM357.4 431.9h1.3v1.3h-1.3zM355.6 414.1h1.3v1.3h-1.3zM360.4 417.1h1.3v1.3h-1.3zM356.7 413.9h1.3v1.3h-1.3zM361 417h1.3v1.3h-1.3zM356.8 418.7h1.3v1.3h-1.3zM358 427.6h1.3v1.3h-1.3zM356.3 409.6h1.3v1.3h-1.3zM359.7 407.6h1.3v1.3h-1.3zM356.5 427.7h1.3v1.3h-1.3zM358.8 433.9h1.3v1.3h-1.3zM357.4 419.4h1.3v1.3h-1.3zM358.6 408.3h1.3v1.3h-1.3zM359.3 416.5h1.3v1.3h-1.3zM359.3 412h1.3v1.3h-1.3zM357.8 435.6h1.3v1.3h-1.3zM362.1 411.8h1.3v1.3h-1.3zM356.1 432.3h1.3v1.3h-1.3zM356.8 415.8h1.3v1.3h-1.3zM356.2 435h1.3v1.3h-1.3zM358.7 435.5h1.3v1.3h-1.3zM357.1 424.1h1.3v1.3h-1.3zM356.7 435.6h1.3v1.3h-1.3zM357.1 428.3h1.3v1.3h-1.3zM357.5 423.2h1.3v1.3h-1.3zM357.8 425.9h1.3v1.3h-1.3zM355.4 410.4h1.3v1.3h-1.3zM360.4 420.8h1.3v1.3h-1.3zM355.3 428.6h1.3v1.3h-1.3zM361.6 421.9h1.3v1.3h-1.3zM356.7 411h1.3v1.3h-1.3zM361.5 432h1.3v1.3h-1.3zM358.8 418.8h1.3v1.3h-1.3zM356.1 426h1.3v1.3h-1.3zM359.6 415.4h1.3v1.3h-1.3zM359.6 417h1.3v1.3h-1.3z" fill="#2727F0"/>
<rect x="305.6" y="447.9" width="18" height="2.5" fill="#000"/>
<rect x="326.2" y="447.9" width="18" height="2.5" fill="#000"/>
<rect x="346.9" y="447.9" width="18" height="2.5" fill="#000"/>
<rect x="367.5" y="447.9" width="18" height="2.5" fill="#000"/>
<rect x="388.2" y="447.9" width="18" height="2.5" fill="#000"/>
<path d="M302.4 400V451.2H409.7" fill="none" stroke="#3a3a3a" stroke-width="1"/>
<path d="M302.4 449.2h-2" stroke="#3a3a3a" stroke-width="0.9"/>
<text x="298.5" y="452.3" font-size="7.2" font-weight="normal" fill="#111" text-anchor="end">0</text>
<path d="M302.4 432h-2" stroke="#3a3a3a" stroke-width="0.9"/>
<text x="298.5" y="435.1" font-size="7.2" font-weight="normal" fill="#111" text-anchor="end">2</text>
<path d="M302.4 414.8h-2" stroke="#3a3a3a" stroke-width="0.9"/>
<text x="298.5" y="417.9" font-size="7.2" font-weight="normal" fill="#111" text-anchor="end">4</text>
<path d="M314.6 451.2v2" stroke="#3a3a3a" stroke-width="0.9"/>
<text x="0" y="0" font-size="7.1" font-weight="normal" fill="#111" text-anchor="end" stroke="#111" stroke-width="0.12" transform="translate(319.2 458.7) rotate(-45)">Tenocyte A</text>
<path d="M335.2 451.2v2" stroke="#3a3a3a" stroke-width="0.9"/>
<text x="0" y="0" font-size="7.1" font-weight="normal" fill="#111" text-anchor="end" stroke="#111" stroke-width="0.12" transform="translate(339.8 458.7) rotate(-45)">Tenocyte B</text>
<path d="M355.9 451.2v2" stroke="#3a3a3a" stroke-width="0.9"/>
<text x="0" y="0" font-size="7.1" font-weight="normal" fill="#111" text-anchor="end" stroke="#111" stroke-width="0.12" transform="translate(360.5 458.7) rotate(-45)">Tenocyte C</text>
<path d="M376.5 451.2v2" stroke="#3a3a3a" stroke-width="0.9"/>
<text x="0" y="0" font-size="7.1" font-weight="normal" fill="#111" text-anchor="end" stroke="#111" stroke-width="0.12" transform="translate(381.1 458.7) rotate(-45)">Tenocyte D</text>
<path d="M397.2 451.2v2" stroke="#3a3a3a" stroke-width="0.9"/>
<text x="0" y="0" font-size="7.1" font-weight="normal" fill="#111" text-anchor="end" stroke="#111" stroke-width="0.12" transform="translate(401.8 458.7) rotate(-45)">Tenocyte E</text>
<text x="356.1" y="492.9" font-size="8" font-weight="normal" fill="#111" text-anchor="middle" stroke="#111" stroke-width="0.1">Identity</text>
<text x="0" y="0" font-size="7.8" font-weight="normal" fill="#111" text-anchor="middle" stroke="#111" stroke-width="0.1" transform="translate(290.3 426.3) rotate(-90)">Expression Level</text>
<text x="490.5" y="395.6" font-size="8.3" font-weight="bold" fill="#111" text-anchor="middle" stroke="#111" stroke-width="0.25" textLength="24.8" lengthAdjust="spacingAndGlyphs">ACTA2</text>
<path d="M449 449.2V416.8" stroke="#8c8c8c" stroke-width="1"/>
<path d="M469.6 449.2V410.2" stroke="#8c8c8c" stroke-width="1"/>
<path d="M490.3 449.2V401.9" stroke="#8c8c8c" stroke-width="1"/>
<path d="M510.9 449.2V413.5" stroke="#8c8c8c" stroke-width="1"/>
<path d="M531.6 449.2V416.8" stroke="#8c8c8c" stroke-width="1"/>
<path d="M439.5 438.8 L439.4 440 L439.5 441.2 L439.4 442.4 L440 443.6 L439.8 444.8 L440.1 446 L439.7 447.2 L458.9 447.2 L458.9 446 L458 444.8 L458.2 443.6 L458.5 442.4 L458.5 441.2 L458.4 440 L458.1 438.8 L456.7 437.5 L455.5 437 L454.2 436.6 L452.9 436.7 L451.7 437 L450.4 437.1 L449.2 436.9 L447.9 436.7 L446.6 437.3 L445.4 437.5 L444.1 437.1 L442.8 437.1 L441.6 437.4Z" fill="#000"/>
<path d="M449 445.5 L448 448.2 L453 448.2 L452 445.5Z" fill="#2727F0"/>
<path d="M461.3 437.1 L460.4 438.2 L460.6 439.3 L461.3 440.4 L460.5 441.6 L461.3 442.7 L460.7 443.8 L460.7 445 L461.2 446.1 L461.2 447.2 L478.3 447.2 L478.6 446.1 L478.5 445 L478.4 443.8 L478.7 442.7 L478.7 441.6 L478.4 440.4 L478.3 439.3 L478.2 438.2 L478.2 437.1 L476.7 435 L475.4 434.9 L474.1 435.9 L472.8 435.6 L471.6 435.9 L470.3 435.4 L469 435.5 L467.7 435.4 L466.5 435.2 L465.2 435.4 L463.9 435.4 L462.6 435.1Z" fill="#000"/>
<path d="M469.6 445.1 L469.6 448.2 L476.6 448.2 L475.6 445.1Z" fill="#2727F0"/>
<path d="M486.3 401.9 L483.1 403 L482.2 404.1 L481.5 405.2 L480.9 406.3 L481.3 407.4 L481.1 408.5 L481.2 409.6 L481.2 410.7 L481 411.8 L481 413 L480.9 414.1 L481.3 415.2 L481.6 416.3 L480.8 417.4 L481.5 418.5 L480.9 419.6 L480.8 420.7 L481.4 421.8 L481 422.9 L481.4 424 L482 425.1 L483 426.2 L483.4 427.3 L484.1 428.4 L485.5 429.6 L485.8 430.7 L485.8 431.8 L487.5 432.9 L488.3 434 L488.8 435.1 L491.3 435.1 L493 434 L493.3 432.9 L494 431.8 L495 430.7 L496.1 429.6 L496.3 428.4 L496.9 427.3 L498 426.2 L499 425.1 L500.2 424 L499.7 422.9 L499.8 421.8 L499.5 420.7 L499.8 419.6 L500 418.5 L500.2 417.4 L499.8 416.3 L499.4 415.2 L499.8 414.1 L500.2 413 L499.4 411.8 L499.7 410.7 L499.8 409.6 L500.2 408.5 L499.9 407.4 L500 406.3 L499.4 405.2 L499.6 404.1 L498.7 403 L494.8 401.9 L493 401 L491.6 401.6 L490.3 401.7 L489 401.4 L487.6 401.6Z" fill="#000"/>
<path d="M489.6 435.1 L489.6 446.7 L487.8 448.8 L492.8 448.8 L491 446.7 L491 435.1Z" fill="#000"/>
<path d="M441.5 442.1h1v1h-1zM447.7 441.6h1v1h-1zM454.5 444.3h1v1h-1zM441.9 440.4h1v1h-1zM440.7 446.7h1v1h-1zM451.1 445h1v1h-1zM456.9 437.4h1v1h-1zM442 438.5h1v1h-1zM449.4 438h1v1h-1zM452.1 442.1h1v1h-1zM454.7 440.6h1v1h-1zM453.8 437.6h1v1h-1zM448 441.5h1v1h-1zM446 437.9h1v1h-1zM454.8 440.9h1v1h-1zM469.6 440.3h1v1h-1zM475.7 437.1h1v1h-1zM461 443.8h1v1h-1zM471.6 438.2h1v1h-1zM462.1 439.7h1v1h-1zM475.8 446.9h1v1h-1zM468.7 443.3h1v1h-1zM464.1 435.8h1v1h-1zM461.9 440h1v1h-1zM473.1 440.9h1v1h-1zM473.5 445.9h1v1h-1zM474.6 435.8h1v1h-1zM469.2 435.7h1v1h-1zM475.1 439.8h1v1h-1zM466.8 437.6h1v1h-1zM464.3 442.5h1v1h-1zM474.5 438.3h1v1h-1zM470.8 439.6h1v1h-1zM464.5 435.7h1v1h-1zM472.8 436.6h1v1h-1zM489.9 432.2h1v1h-1zM491.1 426h1v1h-1zM485.8 426h1v1h-1zM494.7 426.9h1v1h-1z" fill="#fff"/>
<path d="M439.4 438.1h1.7v1.7h-1.7zM457.8 442h1.7v1.7h-1.7zM438.2 442.6h1.7v1.7h-1.7zM438 441.7h1.7v1.7h-1.7zM460.2 438.5h1.7v1.7h-1.7zM437.8 446.8h1.7v1.7h-1.7zM439.3 442.7h1.7v1.7h-1.7zM459.8 446h1.7v1.7h-1.7zM453.6 430.6h1.7v1.7h-1.7zM447.8 426.8h1.7v1.7h-1.7zM450.1 437.2h1.7v1.7h-1.7zM443.1 437.1h1.7v1.7h-1.7zM450.3 432.5h1.7v1.7h-1.7zM454.8 437.6h1.7v1.7h-1.7zM439.3 427.2h1.7v1.7h-1.7zM443.9 436.3h1.7v1.7h-1.7zM455 437.2h1.7v1.7h-1.7zM453.7 428.5h1.7v1.7h-1.7zM449.4 432.7h1.7v1.7h-1.7zM439.3 432.7h1.7v1.7h-1.7zM450.4 430.4h1.7v1.7h-1.7zM448.6 437.2h1.7v1.7h-1.7zM443.2 432.1h1.7v1.7h-1.7zM440.6 437.3h1.7v1.7h-1.7zM443.7 430.1h1.7v1.7h-1.7zM449.2 435.5h1.7v1.7h-1.7zM456.8 433h1.7v1.7h-1.7zM443.5 433.2h1.7v1.7h-1.7zM454.8 435.4h1.7v1.7h-1.7zM447.1 433.1h1.7v1.7h-1.7zM457.2 432.3h1.7v1.7h-1.7zM442.5 433h1.7v1.7h-1.7zM445 434.3h1.7v1.7h-1.7zM452.2 437.5h1.7v1.7h-1.7zM448.4 435.9h1.7v1.7h-1.7zM450.1 429.7h1.7v1.7h-1.7zM447.7 432.4h1.7v1.7h-1.7zM444.4 436.3h1.7v1.7h-1.7zM448.5 433.6h1.7v1.7h-1.7zM443.2 430.5h1.7v1.7h-1.7zM448.3 435.5h1.7v1.7h-1.7zM443.8 429.4h1.7v1.7h-1.7zM455.7 427.8h1.7v1.7h-1.7zM443.7 437.4h1.7v1.7h-1.7zM450.7 437.5h1.7v1.7h-1.7zM454.8 431.8h1.7v1.7h-1.7zM445.3 434.6h1.7v1.7h-1.7zM451.6 437h1.7v1.7h-1.7zM445.8 430.2h1.7v1.7h-1.7zM451.6 433h1.7v1.7h-1.7zM441 436.6h1.7v1.7h-1.7zM443.8 437.5h1.7v1.7h-1.7zM450.9 433.1h1.7v1.7h-1.7zM456.1 433.4h1.7v1.7h-1.7zM456 434.3h1.7v1.7h-1.7zM448.6 436.1h1.7v1.7h-1.7zM447.6 427.8h1.7v1.7h-1.7zM448.1 437.6h1.7v1.7h-1.7zM445.6 436.8h1.7v1.7h-1.7zM450.6 433.9h1.7v1.7h-1.7zM447.9 428h1.7v1.7h-1.7zM453.1 437.3h1.7v1.7h-1.7zM439.7 431.5h1.7v1.7h-1.7zM450.1 432.1h1.7v1.7h-1.7zM448.3 437.5h1.7v1.7h-1.7zM447.4 429.5h1.7v1.7h-1.7zM450.2 437.5h1.7v1.7h-1.7zM441.4 428.4h1.7v1.7h-1.7zM439.3 432.7h1.7v1.7h-1.7zM449.2 422.3h1.7v1.7h-1.7zM450.3 423.2h1.7v1.7h-1.7zM441 426.7h1.7v1.7h-1.7zM442.4 429.6h1.7v1.7h-1.7zM441.8 428h1.7v1.7h-1.7zM440 425.8h1.7v1.7h-1.7zM450.8 422.9h1.7v1.7h-1.7zM453 432.5h1.7v1.7h-1.7zM454.8 427.1h1.7v1.7h-1.7zM456 427.7h1.7v1.7h-1.7zM440.6 425.2h1.7v1.7h-1.7zM442.3 422h1.7v1.7h-1.7zM448.9 422.9h1.7v1.7h-1.7zM448 429.6h1.7v1.7h-1.7zM451.1 425.2h1.7v1.7h-1.7zM447.4 430.2h1.7v1.7h-1.7zM446.7 425.1h1.7v1.7h-1.7zM443.3 431.6h1.7v1.7h-1.7zM447.9 425.8h1.7v1.7h-1.7zM459.9 439.4h1.7v1.7h-1.7zM477.9 437.5h1.7v1.7h-1.7zM477.3 440h1.7v1.7h-1.7zM479.4 440.8h1.7v1.7h-1.7zM459.5 437.1h1.7v1.7h-1.7zM477.7 446.6h1.7v1.7h-1.7zM458.1 439h1.7v1.7h-1.7zM459.8 446.7h1.7v1.7h-1.7zM478 439h1.7v1.7h-1.7zM473.8 422.4h1.7v1.7h-1.7zM472.5 430.5h1.7v1.7h-1.7zM474.4 425.5h1.7v1.7h-1.7zM471 428.3h1.7v1.7h-1.7zM463.3 433.6h1.7v1.7h-1.7zM465.8 424.4h1.7v1.7h-1.7zM473.6 434.1h1.7v1.7h-1.7zM477.3 436.1h1.7v1.7h-1.7zM461.3 433.7h1.7v1.7h-1.7zM461.5 422.3h1.7v1.7h-1.7zM466.4 432.9h1.7v1.7h-1.7zM474.9 430.7h1.7v1.7h-1.7zM471 432.2h1.7v1.7h-1.7zM468.1 422.1h1.7v1.7h-1.7zM465 430.8h1.7v1.7h-1.7zM468.4 435.6h1.7v1.7h-1.7zM462.7 431.1h1.7v1.7h-1.7zM473.9 432.3h1.7v1.7h-1.7zM461.2 422.7h1.7v1.7h-1.7zM462.6 423.8h1.7v1.7h-1.7zM461 428.7h1.7v1.7h-1.7zM462.7 434.5h1.7v1.7h-1.7zM467.5 426.6h1.7v1.7h-1.7zM467.7 432.5h1.7v1.7h-1.7zM467.1 430.9h1.7v1.7h-1.7zM465 422.2h1.7v1.7h-1.7zM463.5 435.6h1.7v1.7h-1.7zM469.6 433.4h1.7v1.7h-1.7zM472.6 436.1h1.7v1.7h-1.7zM471.8 433.2h1.7v1.7h-1.7zM476.1 434h1.7v1.7h-1.7zM467.6 433.8h1.7v1.7h-1.7zM469.4 434.3h1.7v1.7h-1.7zM471.7 432.6h1.7v1.7h-1.7zM472.4 434.1h1.7v1.7h-1.7zM468.1 430.3h1.7v1.7h-1.7zM472.6 428.6h1.7v1.7h-1.7zM467.6 435.9h1.7v1.7h-1.7zM462.1 435.5h1.7v1.7h-1.7zM463.4 435.2h1.7v1.7h-1.7zM471.6 433.5h1.7v1.7h-1.7zM475.8 434.8h1.7v1.7h-1.7zM464.4 435.2h1.7v1.7h-1.7zM462.7 428h1.7v1.7h-1.7zM470.1 434.6h1.7v1.7h-1.7zM474.1 428.2h1.7v1.7h-1.7zM467.6 429.4h1.7v1.7h-1.7zM471.5 432.2h1.7v1.7h-1.7zM461.8 433.2h1.7v1.7h-1.7zM476.5 433.1h1.7v1.7h-1.7zM471.2 435.9h1.7v1.7h-1.7zM473.5 424.3h1.7v1.7h-1.7zM466.6 433.1h1.7v1.7h-1.7zM469 434.6h1.7v1.7h-1.7zM463.8 435.7h1.7v1.7h-1.7zM472 431.1h1.7v1.7h-1.7zM476.6 422h1.7v1.7h-1.7zM475.2 422.4h1.7v1.7h-1.7zM474.6 436.2h1.7v1.7h-1.7zM462.4 421.7h1.7v1.7h-1.7zM475.2 429.3h1.7v1.7h-1.7zM470.9 432.2h1.7v1.7h-1.7zM467.5 435.5h1.7v1.7h-1.7zM469.6 434.3h1.7v1.7h-1.7zM462.3 424.1h1.7v1.7h-1.7zM470.1 424h1.7v1.7h-1.7zM465.3 430h1.7v1.7h-1.7zM465 425h1.7v1.7h-1.7zM463.8 428.7h1.7v1.7h-1.7zM469.7 433.7h1.7v1.7h-1.7zM461.6 431.5h1.7v1.7h-1.7zM469.2 425.3h1.7v1.7h-1.7zM463.7 435.2h1.7v1.7h-1.7zM465.5 425.6h1.7v1.7h-1.7zM464.2 428.9h1.7v1.7h-1.7zM460.8 436h1.7v1.7h-1.7zM472.4 431.3h1.7v1.7h-1.7zM462.1 431.7h1.7v1.7h-1.7zM476.4 432.9h1.7v1.7h-1.7zM469.8 432.5h1.7v1.7h-1.7zM470 429.9h1.7v1.7h-1.7zM460.2 427.9h1.7v1.7h-1.7zM471.6 422h1.7v1.7h-1.7zM477.6 421.3h1.7v1.7h-1.7zM469.2 429.9h1.7v1.7h-1.7zM477 423.6h1.7v1.7h-1.7zM475.2 429.5h1.7v1.7h-1.7zM474.8 423.8h1.7v1.7h-1.7zM463.7 424.7h1.7v1.7h-1.7zM461.2 422.4h1.7v1.7h-1.7zM463.7 420.8h1.7v1.7h-1.7zM462.9 420.9h1.7v1.7h-1.7zM470.9 420.6h1.7v1.7h-1.7zM476.9 426.2h1.7v1.7h-1.7zM472.1 424.8h1.7v1.7h-1.7zM475.9 419.1h1.7v1.7h-1.7zM473.5 422.1h1.7v1.7h-1.7zM464.5 418h1.7v1.7h-1.7zM477.2 417.5h1.7v1.7h-1.7zM465.9 419.2h1.7v1.7h-1.7zM472 418.9h1.7v1.7h-1.7zM474.2 424.1h1.7v1.7h-1.7zM466.9 419.5h1.7v1.7h-1.7zM471.6 422.9h1.7v1.7h-1.7zM475.5 429.7h1.7v1.7h-1.7zM480.4 419.5h1.7v1.7h-1.7zM498.8 417h1.7v1.7h-1.7zM493.4 431.3h1.7v1.7h-1.7zM500.3 413.8h1.7v1.7h-1.7zM480.1 414.1h1.7v1.7h-1.7zM479.1 407.3h1.7v1.7h-1.7zM478.5 420.4h1.7v1.7h-1.7zM498.9 415.7h1.7v1.7h-1.7zM480 408.8h1.7v1.7h-1.7zM499.2 418.5h1.7v1.7h-1.7zM480.5 412.1h1.7v1.7h-1.7zM498.7 423.8h1.7v1.7h-1.7zM483.8 401.5h1.7v1.7h-1.7zM481.7 402.5h1.7v1.7h-1.7zM492.4 433.1h1.7v1.7h-1.7zM486.6 434h1.7v1.7h-1.7zM479.8 422.4h1.7v1.7h-1.7zM480.7 409.7h1.7v1.7h-1.7zM498.4 402.2h1.7v1.7h-1.7zM500.8 404.5h1.7v1.7h-1.7zM480.5 416.7h1.7v1.7h-1.7zM495.6 427.7h1.7v1.7h-1.7zM500.4 423.5h1.7v1.7h-1.7zM493.7 431.3h1.7v1.7h-1.7zM498.6 417.4h1.7v1.7h-1.7zM500.3 420.8h1.7v1.7h-1.7zM490.1 400.4h1.7v1.7h-1.7zM491.5 400.3h1.7v1.7h-1.7zM485.6 400h1.7v1.7h-1.7zM491.2 399.9h1.7v1.7h-1.7zM488.1 399.7h1.7v1.7h-1.7zM491.4 400.8h1.7v1.7h-1.7zM487.3 424.2h1.7v1.7h-1.7zM493.2 432.3h1.7v1.7h-1.7zM490.3 435.8h1.7v1.7h-1.7zM496.4 427.5h1.7v1.7h-1.7zM483.3 429h1.7v1.7h-1.7zM489.4 427h1.7v1.7h-1.7zM486.1 423.8h1.7v1.7h-1.7zM491.4 434.9h1.7v1.7h-1.7zM494.5 424.2h1.7v1.7h-1.7zM486.3 426.5h1.7v1.7h-1.7zM495.2 424.2h1.7v1.7h-1.7zM482.6 424.8h1.7v1.7h-1.7zM485.4 425.3h1.7v1.7h-1.7zM492.4 429.7h1.7v1.7h-1.7zM495.9 425.2h1.7v1.7h-1.7zM497.4 423.2h1.7v1.7h-1.7zM490.6 426.1h1.7v1.7h-1.7zM492.2 430.6h1.7v1.7h-1.7zM489.4 429.2h1.7v1.7h-1.7zM484.9 432.4h1.7v1.7h-1.7zM495 424.7h1.7v1.7h-1.7zM492.6 426.8h1.7v1.7h-1.7zM489.6 428.3h1.7v1.7h-1.7zM492.1 435.8h1.7v1.7h-1.7zM488.5 423h1.7v1.7h-1.7zM484.7 429.7h1.7v1.7h-1.7zM482.7 432.5h1.7v1.7h-1.7zM494.6 435.5h1.7v1.7h-1.7zM494.2 425.3h1.7v1.7h-1.7zM495.3 432.5h1.7v1.7h-1.7zM496.4 431h1.7v1.7h-1.7zM488.7 423.3h1.7v1.7h-1.7zM490.2 426.9h1.7v1.7h-1.7zM483.2 435.8h1.7v1.7h-1.7zM485.7 434.5h1.7v1.7h-1.7zM494.6 432.6h1.7v1.7h-1.7zM496.8 426.9h1.7v1.7h-1.7zM484.5 426.5h1.7v1.7h-1.7zM486.5 428.9h1.7v1.7h-1.7zM482.7 424.8h1.7v1.7h-1.7zM494 428.2h1.7v1.7h-1.7zM492.5 431.4h1.7v1.7h-1.7zM483.5 431.6h1.7v1.7h-1.7zM493.3 428.4h1.7v1.7h-1.7zM483.6 432.7h1.7v1.7h-1.7zM508.7 430.7h1.7v1.7h-1.7zM506.8 437.4h1.7v1.7h-1.7zM513.5 443.3h1.7v1.7h-1.7zM504.4 446.4h1.7v1.7h-1.7zM510.2 425.9h1.7v1.7h-1.7zM516.4 436.5h1.7v1.7h-1.7zM515.2 429.3h1.7v1.7h-1.7zM515.1 430.7h1.7v1.7h-1.7zM509.7 436.9h1.7v1.7h-1.7zM505.9 437.9h1.7v1.7h-1.7zM509.3 440.8h1.7v1.7h-1.7zM510.8 439.8h1.7v1.7h-1.7zM506.2 447h1.7v1.7h-1.7zM506 442.8h1.7v1.7h-1.7zM516.4 434.7h1.7v1.7h-1.7zM517.7 433.1h1.7v1.7h-1.7zM517.4 431.8h1.7v1.7h-1.7zM516.7 431.7h1.7v1.7h-1.7zM506.6 416.6h1.7v1.7h-1.7zM502.3 438.5h1.7v1.7h-1.7zM501.4 435.9h1.7v1.7h-1.7zM505.7 428.5h1.7v1.7h-1.7zM503.9 445.2h1.7v1.7h-1.7zM503.3 434.3h1.7v1.7h-1.7zM503.3 437.2h1.7v1.7h-1.7zM503 433.5h1.7v1.7h-1.7zM501.9 432h1.7v1.7h-1.7zM512.8 431.9h1.7v1.7h-1.7zM502.6 439.5h1.7v1.7h-1.7zM501.9 424.9h1.7v1.7h-1.7zM517.6 431.7h1.7v1.7h-1.7zM514.7 437.1h1.7v1.7h-1.7zM512.7 433.2h1.7v1.7h-1.7zM503.7 435.1h1.7v1.7h-1.7zM505.3 440.6h1.7v1.7h-1.7zM509.7 443.9h1.7v1.7h-1.7zM512.5 432.9h1.7v1.7h-1.7zM513.5 423.7h1.7v1.7h-1.7zM517 437.5h1.7v1.7h-1.7zM515.1 437.4h1.7v1.7h-1.7zM510 444.2h1.7v1.7h-1.7zM514.7 436.7h1.7v1.7h-1.7zM510.4 440.8h1.7v1.7h-1.7zM504.9 436.9h1.7v1.7h-1.7zM516.8 428.4h1.7v1.7h-1.7zM514 435.7h1.7v1.7h-1.7zM511.6 434h1.7v1.7h-1.7zM511.5 428.7h1.7v1.7h-1.7zM513.5 443.1h1.7v1.7h-1.7zM517 434.1h1.7v1.7h-1.7zM513.3 446.7h1.7v1.7h-1.7zM503.3 437h1.7v1.7h-1.7zM507.5 436.2h1.7v1.7h-1.7zM509.9 430.5h1.7v1.7h-1.7zM514.3 441.9h1.7v1.7h-1.7zM507.8 414.9h1.7v1.7h-1.7zM504 440.3h1.7v1.7h-1.7zM507.9 446.7h1.7v1.7h-1.7zM506.9 427.8h1.7v1.7h-1.7zM503.7 443.7h1.7v1.7h-1.7zM507.4 433.7h1.7v1.7h-1.7zM509.4 442h1.7v1.7h-1.7zM517.6 437.7h1.7v1.7h-1.7zM507.7 435.5h1.7v1.7h-1.7zM501.2 439.8h1.7v1.7h-1.7zM504.3 434.2h1.7v1.7h-1.7zM509.7 430.5h1.7v1.7h-1.7zM508.5 429.8h1.7v1.7h-1.7zM505.5 429.2h1.7v1.7h-1.7zM501.5 438.1h1.7v1.7h-1.7zM516.2 441h1.7v1.7h-1.7zM506.4 435.6h1.7v1.7h-1.7zM503.7 436.7h1.7v1.7h-1.7zM518.5 426.3h1.7v1.7h-1.7zM502 440.4h1.7v1.7h-1.7zM506.2 442.3h1.7v1.7h-1.7zM503.7 427.8h1.7v1.7h-1.7zM518.6 438h1.7v1.7h-1.7zM514.5 437.3h1.7v1.7h-1.7zM504.3 431.9h1.7v1.7h-1.7zM505.4 445.5h1.7v1.7h-1.7zM502.6 428.3h1.7v1.7h-1.7zM504.5 434h1.7v1.7h-1.7zM515.3 429.5h1.7v1.7h-1.7zM506.2 423.5h1.7v1.7h-1.7zM503.6 432.3h1.7v1.7h-1.7zM508 436.6h1.7v1.7h-1.7zM515.3 434.9h1.7v1.7h-1.7zM510.9 438.6h1.7v1.7h-1.7zM501.9 434.2h1.7v1.7h-1.7zM502.9 441.3h1.7v1.7h-1.7zM514.8 437.1h1.7v1.7h-1.7zM504.7 443.2h1.7v1.7h-1.7zM516.4 436.7h1.7v1.7h-1.7zM513.8 431.7h1.7v1.7h-1.7zM501.8 430.3h1.7v1.7h-1.7zM509.5 427.6h1.7v1.7h-1.7zM514 436.4h1.7v1.7h-1.7zM513.4 425.3h1.7v1.7h-1.7zM512.6 435.3h1.7v1.7h-1.7zM534.3 435.8h1.7v1.7h-1.7zM537.9 425.7h1.7v1.7h-1.7zM528.3 436.9h1.7v1.7h-1.7zM538.4 446.5h1.7v1.7h-1.7zM533.4 438.6h1.7v1.7h-1.7zM530.6 438.6h1.7v1.7h-1.7zM529.2 429.9h1.7v1.7h-1.7zM527.8 436h1.7v1.7h-1.7zM527.4 441h1.7v1.7h-1.7zM535.2 434.8h1.7v1.7h-1.7zM537 432.4h1.7v1.7h-1.7zM524 442.1h1.7v1.7h-1.7zM535.8 438.6h1.7v1.7h-1.7zM539 440.4h1.7v1.7h-1.7zM532.7 435.1h1.7v1.7h-1.7zM523.8 440.8h1.7v1.7h-1.7zM532 442.3h1.7v1.7h-1.7zM533.7 430.2h1.7v1.7h-1.7zM535.3 437.3h1.7v1.7h-1.7zM524.2 445.6h1.7v1.7h-1.7zM532.5 429.4h1.7v1.7h-1.7zM525.2 437.8h1.7v1.7h-1.7zM534.8 429.4h1.7v1.7h-1.7zM533.7 432.3h1.7v1.7h-1.7zM535.6 437.8h1.7v1.7h-1.7zM533.3 430.4h1.7v1.7h-1.7zM535.7 435.3h1.7v1.7h-1.7zM522 439h1.7v1.7h-1.7zM523.1 443h1.7v1.7h-1.7zM529.3 443h1.7v1.7h-1.7zM523.1 443.7h1.7v1.7h-1.7zM523.9 438.2h1.7v1.7h-1.7zM527.9 426.1h1.7v1.7h-1.7zM525.5 446.8h1.7v1.7h-1.7zM529.3 434.9h1.7v1.7h-1.7zM534.5 434.1h1.7v1.7h-1.7zM538.9 430.2h1.7v1.7h-1.7zM529.4 440.6h1.7v1.7h-1.7zM529.3 437.6h1.7v1.7h-1.7zM522.2 437.6h1.7v1.7h-1.7zM523.8 429.9h1.7v1.7h-1.7zM527.1 429.2h1.7v1.7h-1.7zM522.3 445.1h1.7v1.7h-1.7zM523.7 438.8h1.7v1.7h-1.7zM523.4 440.4h1.7v1.7h-1.7zM530.4 443.2h1.7v1.7h-1.7zM522.6 420h1.7v1.7h-1.7zM531.7 436.5h1.7v1.7h-1.7zM539 435.3h1.7v1.7h-1.7zM531.5 437h1.7v1.7h-1.7zM528.2 440.5h1.7v1.7h-1.7zM532.6 427.9h1.7v1.7h-1.7zM526.4 438.9h1.7v1.7h-1.7zM528.6 444.6h1.7v1.7h-1.7zM531.9 434.6h1.7v1.7h-1.7zM539.5 432.1h1.7v1.7h-1.7zM528.9 434.1h1.7v1.7h-1.7zM536.4 437.9h1.7v1.7h-1.7zM534.6 438.1h1.7v1.7h-1.7zM525.3 443.6h1.7v1.7h-1.7zM525.2 438.4h1.7v1.7h-1.7zM524.9 438.3h1.7v1.7h-1.7zM522.1 443.7h1.7v1.7h-1.7zM537.5 429.4h1.7v1.7h-1.7zM538.8 424.8h1.7v1.7h-1.7zM532.8 429.2h1.7v1.7h-1.7zM529.8 429.6h1.7v1.7h-1.7zM535.8 436.5h1.7v1.7h-1.7zM533.4 438.9h1.7v1.7h-1.7zM523.2 437h1.7v1.7h-1.7z" fill="#000"/>
<path d="M491.9 423.4h1.3v1.3h-1.3zM487.1 414.3h1.3v1.3h-1.3zM488.1 405.2h1.3v1.3h-1.3zM488.1 408.1h1.3v1.3h-1.3zM495.4 417.1h1.3v1.3h-1.3zM492.6 403.1h1.3v1.3h-1.3zM493.4 415.6h1.3v1.3h-1.3zM497.4 418.3h1.3v1.3h-1.3z" fill="#2727F0"/>
<rect x="440" y="447.9" width="18" height="2.5" fill="#000"/>
<rect x="460.6" y="447.9" width="18" height="2.5" fill="#000"/>
<rect x="481.3" y="447.9" width="18" height="2.5" fill="#000"/>
<rect x="501.9" y="447.9" width="18" height="2.5" fill="#000"/>
<rect x="522.6" y="447.9" width="18" height="2.5" fill="#000"/>
<path d="M436.8 400V451.2H544.1" fill="none" stroke="#3a3a3a" stroke-width="1"/>
<path d="M436.8 449.2h-2" stroke="#3a3a3a" stroke-width="0.9"/>
<text x="432.9" y="452.3" font-size="7.2" font-weight="normal" fill="#111" text-anchor="end">0</text>
<path d="M436.8 432.6h-2" stroke="#3a3a3a" stroke-width="0.9"/>
<text x="432.9" y="435.7" font-size="7.2" font-weight="normal" fill="#111" text-anchor="end">2</text>
<path d="M436.8 416h-2" stroke="#3a3a3a" stroke-width="0.9"/>
<text x="432.9" y="419.1" font-size="7.2" font-weight="normal" fill="#111" text-anchor="end">4</text>
<path d="M449 451.2v2" stroke="#3a3a3a" stroke-width="0.9"/>
<text x="0" y="0" font-size="7.1" font-weight="normal" fill="#111" text-anchor="end" stroke="#111" stroke-width="0.12" transform="translate(453.6 458.7) rotate(-45)">Tenocyte A</text>
<path d="M469.6 451.2v2" stroke="#3a3a3a" stroke-width="0.9"/>
<text x="0" y="0" font-size="7.1" font-weight="normal" fill="#111" text-anchor="end" stroke="#111" stroke-width="0.12" transform="translate(474.2 458.7) rotate(-45)">Tenocyte B</text>
<path d="M490.3 451.2v2" stroke="#3a3a3a" stroke-width="0.9"/>
<text x="0" y="0" font-size="7.1" font-weight="normal" fill="#111" text-anchor="end" stroke="#111" stroke-width="0.12" transform="translate(494.9 458.7) rotate(-45)">Tenocyte C</text>
<path d="M510.9 451.2v2" stroke="#3a3a3a" stroke-width="0.9"/>
<text x="0" y="0" font-size="7.1" font-weight="normal" fill="#111" text-anchor="end" stroke="#111" stroke-width="0.12" transform="translate(515.5 458.7) rotate(-45)">Tenocyte D</text>
<path d="M531.6 451.2v2" stroke="#3a3a3a" stroke-width="0.9"/>
<text x="0" y="0" font-size="7.1" font-weight="normal" fill="#111" text-anchor="end" stroke="#111" stroke-width="0.12" transform="translate(536.2 458.7) rotate(-45)">Tenocyte E</text>
<text x="490.5" y="492.9" font-size="8" font-weight="normal" fill="#111" text-anchor="middle" stroke="#111" stroke-width="0.1">Identity</text>
<text x="0" y="0" font-size="7.8" font-weight="normal" fill="#111" text-anchor="middle" stroke="#111" stroke-width="0.1" transform="translate(424.7 426.3) rotate(-90)">Expression Level</text>
<text x="86.7" y="510.8" font-size="8.3" font-weight="bold" fill="#111" text-anchor="middle" stroke="#111" stroke-width="0.25" textLength="30" lengthAdjust="spacingAndGlyphs">COL3A1</text>
<path d="M45.2 563.9V523.2" stroke="#8c8c8c" stroke-width="1"/>
<path d="M65.8 563.9V536.5" stroke="#8c8c8c" stroke-width="1"/>
<path d="M86.5 563.9V524.9" stroke="#8c8c8c" stroke-width="1"/>
<path d="M107.2 563.9V517.4" stroke="#8c8c8c" stroke-width="1"/>
<path d="M127.8 563.9V523.2" stroke="#8c8c8c" stroke-width="1"/>
<path d="M36 544 L35.8 545.1 L35.9 546.2 L36.2 547.3 L35.5 548.5 L36.1 549.6 L36 550.7 L36.4 551.8 L36.3 553 L36.1 554.1 L35.9 555.2 L35.6 556.3 L36.1 557.5 L35.9 558.6 L35.7 559.7 L35.9 560.8 L36.1 561.9 L35.5 563.1 L55.2 563.1 L54.7 561.9 L54.5 560.8 L54.2 559.7 L54.5 558.6 L54.4 557.5 L54.9 556.3 L55.1 555.2 L55.1 554.1 L55.1 553 L54.5 551.8 L54.3 550.7 L54.6 549.6 L54.9 548.5 L55 547.3 L55.2 546.2 L54.4 545.1 L54.8 544 L52.9 543.4 L51.7 543.3 L50.4 543.4 L49.1 543.1 L47.9 543.2 L46.6 543.5 L45.4 543.2 L44.1 543.8 L42.8 543.4 L41.6 543.5 L40.3 543 L39 543 L37.8 543.6Z" fill="#000"/>
<path d="M45.2 558.9 L44.2 561.4 L45.2 563.1 L52.2 563.1 L52.2 561.4 L51.2 558.9Z" fill="#2727F0"/>
<path d="M56.9 546.5 L56.6 547.6 L56.7 548.7 L57.2 549.8 L56.7 550.9 L56.5 552 L56.5 553.1 L57.1 554.2 L56.4 555.3 L57 556.4 L56.7 557.5 L56.8 558.6 L56.3 559.8 L56.3 560.9 L57.1 562 L56.9 563.1 L75.5 563.1 L75.7 562 L75.9 560.9 L75.6 559.8 L75.4 558.6 L75.3 557.5 L75.4 556.4 L75.7 555.3 L75.8 554.2 L75.4 553.1 L75.7 552 L75.9 550.9 L75.8 549.8 L75.9 548.7 L75 547.6 L75.4 546.5 L73.7 545.9 L72.4 545.6 L71.2 546.5 L69.9 546.2 L68.6 545.5 L67.4 545.8 L66.1 546 L64.8 545.7 L63.6 546.1 L62.3 545.8 L61 546.2 L59.8 545.7 L58.5 545.9Z" fill="#000"/>
<path d="M66.8 558.9 L65.8 563.1 L70.8 563.1 L69.8 558.9Z" fill="#2727F0"/>
<path d="M77.8 534 L77.7 535.2 L77.7 536.3 L77.5 537.4 L77.7 538.6 L77.3 539.7 L77.1 540.8 L77.3 542 L78 543.1 L77.3 544.2 L77.4 545.4 L77.6 546.5 L77.2 547.6 L77.6 548.8 L77 549.9 L77.4 551 L77.1 552.2 L77.9 553.3 L77.8 554.4 L77.3 555.6 L77.1 556.7 L77.3 557.8 L77.1 559 L77 560.1 L77 561.2 L77.2 562.4 L87.8 562.4 L87.3 561.2 L88.2 560.1 L87.9 559 L88.5 557.8 L92.1 556.7 L95.3 555.6 L95.9 554.4 L95.8 553.3 L95.1 552.2 L95.2 551 L96 549.9 L95.6 548.8 L95.8 547.6 L95.9 546.5 L95.4 545.4 L95.2 544.2 L95.3 543.1 L95.6 542 L96 540.8 L95.7 539.7 L96 538.6 L96 537.4 L95.6 536.3 L96 535.2 L95.7 534 L93.9 533.8 L92.7 533.4 L91.4 533.4 L90.2 533.9 L89 533.1 L87.8 533.8 L86.5 533.3 L85.3 533.9 L84.1 533.5 L82.9 533.9 L81.7 533.6 L80.4 533.9 L79.2 533.7Z" fill="#000"/>
<path d="M86 524.9 L86 563.1 L87 563.1 L87 524.9Z" fill="#000"/>
<path d="M106.2 518.2 L104.9 519.4 L104.1 520.5 L103.4 521.6 L102.7 522.7 L101.5 523.8 L100.2 524.9 L99.1 526.1 L99 527.2 L99 528.3 L98.5 529.4 L97.9 530.5 L97.7 531.6 L98 532.7 L97.5 533.9 L97.2 535 L97.9 536.1 L97.8 537.2 L97.2 538.3 L97.7 539.4 L98.4 540.5 L98.5 541.7 L98.5 542.8 L99.6 543.9 L99.1 545 L100 546.1 L101.1 547.2 L101.1 548.3 L102 549.5 L102.9 550.6 L103.4 551.7 L104.1 552.8 L104.2 553.9 L104.5 555 L105.3 556.1 L107.5 556.1 L107.5 555 L107.8 553.9 L107.5 552.8 L107.7 551.7 L107.7 550.6 L108.5 549.5 L108.2 548.3 L109.2 547.2 L109.6 546.1 L109.7 545 L109.8 543.9 L110.1 542.8 L110.6 541.7 L110.3 540.5 L110.7 539.4 L110.3 538.3 L110.6 537.2 L110.4 536.1 L110.3 535 L110.2 533.9 L110.8 532.7 L110.4 531.6 L110.5 530.5 L110.4 529.4 L110.4 528.3 L109.8 527.2 L109 526.1 L109.3 524.9 L109.4 523.8 L109 522.7 L108.1 521.6 L108.4 520.5 L108 519.4 L107.7 518.2Z" fill="#000"/>
<path d="M107.2 519.9 L107.2 526.5 L107.2 534.9 L107.2 543.1 L107.2 549 L106.2 553.1 L105.2 557.3 L104.2 560.6 L103.7 563.5 L116.2 563.5 L115.2 560.6 L113.2 557.3 L110.7 553.1 L111.2 549 L113.2 543.1 L113.2 534.9 L111.2 526.5 L108.2 519.9Z" fill="#2727F0"/>
<path d="M125.3 523.2 L124.5 524.3 L124.5 525.4 L124 526.5 L122.9 527.7 L122 528.8 L121.9 529.9 L120.9 531 L120.6 532.1 L120.3 533.2 L119.9 534.3 L119.7 535.4 L119 536.5 L119.1 537.6 L119.2 538.7 L118.3 539.8 L118.4 540.9 L118.5 542 L118.6 543.1 L119.2 544.3 L118.7 545.4 L118.9 546.5 L118.5 547.6 L119.1 548.7 L118.6 549.8 L118.4 550.9 L118.8 552 L119.1 553.1 L118.6 554.2 L118.5 555.3 L118.2 556.4 L118.3 557.5 L119 558.6 L118.6 559.8 L118.5 560.9 L118.5 562 L118.2 563.1 L128.7 563.1 L128 562 L128.6 560.9 L128.2 559.8 L128.5 558.6 L128.5 557.5 L128.3 556.4 L127.9 555.3 L128 554.2 L128.4 553.1 L128.4 552 L128.5 550.9 L128.2 549.8 L128 548.7 L128 547.6 L128.4 546.5 L128 545.4 L128.6 544.3 L128.6 543.1 L128.1 542 L128.1 540.9 L128 539.8 L128.4 538.7 L128.4 537.6 L128.8 536.5 L128.2 535.4 L128.3 534.3 L128.3 533.2 L128.8 532.1 L128.3 531 L128.2 529.9 L128.2 528.8 L128.8 527.7 L128.7 526.5 L128.5 525.4 L127.9 524.3 L128.3 523.2Z" fill="#000"/>
<path d="M127.8 527.4 L127.8 534.9 L127.8 547.3 L127.8 555.6 L127.8 559.8 L127.8 563.5 L136.8 563.5 L135.8 559.8 L133.8 555.6 L134.3 547.3 L133.8 534.9 L130.8 527.4Z" fill="#2727F0"/>
<path d="M52.4 561.3h1v1h-1zM44.4 548.2h1v1h-1zM53.3 544.2h1v1h-1zM40.5 558.6h1v1h-1zM47.1 558.9h1v1h-1zM45.2 551.2h1v1h-1zM45.4 547.8h1v1h-1zM47.8 556.6h1v1h-1zM36.9 544.5h1v1h-1zM38.5 553.3h1v1h-1zM43.6 548.3h1v1h-1zM47.9 546.6h1v1h-1zM46.3 544.3h1v1h-1zM53.2 551.2h1v1h-1zM51.6 548h1v1h-1zM49.2 543.9h1v1h-1zM46.8 543.6h1v1h-1zM48.8 548.6h1v1h-1zM41.9 543.5h1v1h-1zM48.7 549.9h1v1h-1zM46.9 545.8h1v1h-1zM42 548.7h1v1h-1zM52.7 545.8h1v1h-1zM40.2 549.9h1v1h-1zM58.6 562h1v1h-1zM66.1 558.1h1v1h-1zM59.8 547h1v1h-1zM63.4 557.8h1v1h-1zM63 551.9h1v1h-1zM59.4 551.5h1v1h-1zM67 561.8h1v1h-1zM59.1 550.6h1v1h-1zM68.6 561.8h1v1h-1zM73.1 561.5h1v1h-1zM59.6 551.1h1v1h-1zM57.7 555.8h1v1h-1zM64.4 551.3h1v1h-1zM66.6 551.1h1v1h-1zM72.8 548h1v1h-1zM68.8 549.9h1v1h-1zM68.2 546.1h1v1h-1zM68.7 550.1h1v1h-1zM60.5 546.5h1v1h-1zM58.4 548.9h1v1h-1zM80.2 558h1v1h-1zM82.5 561.6h1v1h-1zM84.3 544.7h1v1h-1zM86.8 539.5h1v1h-1zM79 542.9h1v1h-1zM77.9 553.3h1v1h-1zM85.5 558.3h1v1h-1zM83 559h1v1h-1zM89 551.9h1v1h-1zM91.7 537.3h1v1h-1zM94 534.6h1v1h-1zM94.4 551.2h1v1h-1zM82.3 540.5h1v1h-1zM86.5 553.3h1v1h-1zM79.2 538.1h1v1h-1zM89 536.7h1v1h-1zM84.5 545.5h1v1h-1zM84.4 551.7h1v1h-1zM85.1 541.9h1v1h-1zM92.5 542h1v1h-1zM77.4 560.4h1v1h-1zM80.8 535.3h1v1h-1zM84.4 539h1v1h-1zM77.7 556.4h1v1h-1zM87.8 550.4h1v1h-1zM77.2 561.4h1v1h-1zM92.6 554.5h1v1h-1zM81.9 540.9h1v1h-1zM84.6 551.1h1v1h-1zM82.4 542.1h1v1h-1zM106.7 541h1v1h-1zM105.1 551.6h1v1h-1zM104.1 530.1h1v1h-1zM99.4 543.9h1v1h-1zM99.9 529.3h1v1h-1zM103.9 533.3h1v1h-1zM99.5 528.6h1v1h-1zM106.8 518.8h1v1h-1zM103 522.7h1v1h-1zM102.4 528.7h1v1h-1zM106 529.4h1v1h-1zM108.7 540.8h1v1h-1zM103.4 539.7h1v1h-1zM99.8 528.9h1v1h-1zM104.4 521.8h1v1h-1zM103.2 522.1h1v1h-1zM105.5 551.9h1v1h-1zM104 547.4h1v1h-1zM105.7 548.9h1v1h-1zM105.8 528h1v1h-1zM124.8 558.4h1v1h-1zM121 540.3h1v1h-1zM124.9 552.7h1v1h-1zM124.9 526h1v1h-1zM120.6 539.2h1v1h-1zM123.7 544h1v1h-1zM123.9 550.4h1v1h-1zM119.1 541h1v1h-1zM122.3 557.8h1v1h-1zM123.4 556.7h1v1h-1zM124.1 538.9h1v1h-1zM125.6 527.3h1v1h-1zM121.5 531.8h1v1h-1zM127 527.8h1v1h-1zM125.8 539h1v1h-1zM122.4 540.7h1v1h-1zM122.8 556.2h1v1h-1zM125.8 534.2h1v1h-1zM125.2 527h1v1h-1zM125.3 524.9h1v1h-1zM122.4 561.8h1v1h-1zM125.3 541h1v1h-1zM118.9 553.3h1v1h-1zM121.5 533.8h1v1h-1zM125.1 528.6h1v1h-1zM123.2 557.2h1v1h-1zM122.3 531.8h1v1h-1zM124.5 524.5h1v1h-1zM123.8 556.7h1v1h-1zM124.2 535.6h1v1h-1zM124.4 525.8h1v1h-1zM123.3 560.7h1v1h-1zM122.1 548.6h1v1h-1zM126.3 546.8h1v1h-1zM124.7 551.2h1v1h-1zM121.1 540h1v1h-1zM124.4 526.2h1v1h-1zM120.4 550.6h1v1h-1zM125 534.6h1v1h-1zM119.7 548h1v1h-1zM121.6 538.8h1v1h-1zM124.3 540.6h1v1h-1zM119.1 562.5h1v1h-1zM126.5 529.9h1v1h-1zM120.6 559.1h1v1h-1z" fill="#fff"/>
<path d="M35 559.7h1.7v1.7h-1.7zM34.5 561h1.7v1.7h-1.7zM35.5 559.6h1.7v1.7h-1.7zM53.5 561.1h1.7v1.7h-1.7zM54.2 550.1h1.7v1.7h-1.7zM54.6 562h1.7v1.7h-1.7zM35 554.2h1.7v1.7h-1.7zM55.3 555.5h1.7v1.7h-1.7zM56.7 555.7h1.7v1.7h-1.7zM54.8 546.7h1.7v1.7h-1.7zM35.6 546.1h1.7v1.7h-1.7zM34.3 557.9h1.7v1.7h-1.7zM53.4 544h1.7v1.7h-1.7zM34.1 554.5h1.7v1.7h-1.7zM34.4 552.3h1.7v1.7h-1.7zM50 541.8h1.7v1.7h-1.7zM37.2 532.8h1.7v1.7h-1.7zM36.5 532.7h1.7v1.7h-1.7zM52.4 537.4h1.7v1.7h-1.7zM52.7 538.3h1.7v1.7h-1.7zM49 538.5h1.7v1.7h-1.7zM39.4 543.9h1.7v1.7h-1.7zM48.9 540.5h1.7v1.7h-1.7zM37.6 539h1.7v1.7h-1.7zM40.2 542.6h1.7v1.7h-1.7zM51.4 538.1h1.7v1.7h-1.7zM49 534.8h1.7v1.7h-1.7zM43.3 540.5h1.7v1.7h-1.7zM43.3 541.6h1.7v1.7h-1.7zM49.6 533.5h1.7v1.7h-1.7zM40.8 536.6h1.7v1.7h-1.7zM39.3 544.1h1.7v1.7h-1.7zM47.9 535.5h1.7v1.7h-1.7zM41.4 531.3h1.7v1.7h-1.7zM48.5 542h1.7v1.7h-1.7zM49.3 534.3h1.7v1.7h-1.7zM37.9 533h1.7v1.7h-1.7zM43.3 542.5h1.7v1.7h-1.7zM42.3 539.5h1.7v1.7h-1.7zM45 542.3h1.7v1.7h-1.7zM36.5 537.9h1.7v1.7h-1.7zM48.5 536.9h1.7v1.7h-1.7zM42.6 534h1.7v1.7h-1.7zM35.7 543.6h1.7v1.7h-1.7zM35.7 539.1h1.7v1.7h-1.7zM44.9 542.9h1.7v1.7h-1.7zM45 544.1h1.7v1.7h-1.7zM36 531.9h1.7v1.7h-1.7zM51.6 543.9h1.7v1.7h-1.7zM47.4 539.7h1.7v1.7h-1.7zM45.2 534.3h1.7v1.7h-1.7zM47.1 532.4h1.7v1.7h-1.7zM47.8 532.9h1.7v1.7h-1.7zM37.5 534.7h1.7v1.7h-1.7zM41.2 532.8h1.7v1.7h-1.7zM49.8 531.9h1.7v1.7h-1.7zM49.2 541.2h1.7v1.7h-1.7zM44.9 535.4h1.7v1.7h-1.7zM36.4 539.3h1.7v1.7h-1.7zM45.7 536.5h1.7v1.7h-1.7zM41.6 538.3h1.7v1.7h-1.7zM48.8 541.4h1.7v1.7h-1.7zM47.8 533.1h1.7v1.7h-1.7zM42.1 539.5h1.7v1.7h-1.7zM44.2 534.4h1.7v1.7h-1.7zM40.3 542.4h1.7v1.7h-1.7zM42.5 537.6h1.7v1.7h-1.7zM38.2 531.6h1.7v1.7h-1.7zM44.6 536.3h1.7v1.7h-1.7zM42.9 544.1h1.7v1.7h-1.7zM42.4 538.8h1.7v1.7h-1.7zM37 531.6h1.7v1.7h-1.7zM46.1 540.4h1.7v1.7h-1.7zM35.9 542.7h1.7v1.7h-1.7zM41.5 537.6h1.7v1.7h-1.7zM38.5 540.1h1.7v1.7h-1.7zM40.3 538.9h1.7v1.7h-1.7zM47.9 539.6h1.7v1.7h-1.7zM49.1 538.1h1.7v1.7h-1.7zM36.9 537.5h1.7v1.7h-1.7zM44.2 535.8h1.7v1.7h-1.7zM52.5 541.7h1.7v1.7h-1.7zM50.9 542.9h1.7v1.7h-1.7zM47.2 544.1h1.7v1.7h-1.7zM50.4 540.6h1.7v1.7h-1.7zM43.7 539.9h1.7v1.7h-1.7zM42.2 542.9h1.7v1.7h-1.7zM48 538h1.7v1.7h-1.7zM36.3 542.5h1.7v1.7h-1.7zM52.4 542.4h1.7v1.7h-1.7zM40.7 538.7h1.7v1.7h-1.7zM42.2 532.2h1.7v1.7h-1.7zM53.3 543.6h1.7v1.7h-1.7zM39.5 543.4h1.7v1.7h-1.7zM43.5 542.4h1.7v1.7h-1.7zM47.7 533.5h1.7v1.7h-1.7zM36.7 544.1h1.7v1.7h-1.7zM37.4 542.1h1.7v1.7h-1.7zM37.8 540.7h1.7v1.7h-1.7zM42 536.3h1.7v1.7h-1.7zM53 531.6h1.7v1.7h-1.7zM43 537.7h1.7v1.7h-1.7zM37.8 538.2h1.7v1.7h-1.7zM51.5 533.5h1.7v1.7h-1.7zM37.9 543.4h1.7v1.7h-1.7zM40.9 538.8h1.7v1.7h-1.7zM48.4 531.6h1.7v1.7h-1.7zM50.7 528.4h1.7v1.7h-1.7zM42.6 534.6h1.7v1.7h-1.7zM52.8 541.9h1.7v1.7h-1.7zM48.9 529.8h1.7v1.7h-1.7zM51.9 536.6h1.7v1.7h-1.7zM52.5 543h1.7v1.7h-1.7zM35.5 538.8h1.7v1.7h-1.7zM44.8 535h1.7v1.7h-1.7zM53.2 534.1h1.7v1.7h-1.7zM40.9 533.9h1.7v1.7h-1.7zM41.8 533.2h1.7v1.7h-1.7zM49.5 534.4h1.7v1.7h-1.7zM44.1 537.5h1.7v1.7h-1.7zM37 540.6h1.7v1.7h-1.7zM43.9 529.9h1.7v1.7h-1.7zM45.5 541.4h1.7v1.7h-1.7zM43.9 532.1h1.7v1.7h-1.7zM44.1 539.5h1.7v1.7h-1.7zM41.4 534.7h1.7v1.7h-1.7zM49.3 542.1h1.7v1.7h-1.7zM42.1 539.3h1.7v1.7h-1.7zM51.5 528.7h1.7v1.7h-1.7zM42.2 526h1.7v1.7h-1.7zM74.9 551.5h1.7v1.7h-1.7zM55.2 547.4h1.7v1.7h-1.7zM74.2 550.2h1.7v1.7h-1.7zM55.7 556.2h1.7v1.7h-1.7zM74.9 555.4h1.7v1.7h-1.7zM74.5 561.2h1.7v1.7h-1.7zM54.9 551.6h1.7v1.7h-1.7zM75.1 549.5h1.7v1.7h-1.7zM55.4 558.6h1.7v1.7h-1.7zM75.7 548.1h1.7v1.7h-1.7zM55.8 559.1h1.7v1.7h-1.7zM74.7 556.3h1.7v1.7h-1.7zM55 556.8h1.7v1.7h-1.7zM57.7 544.4h1.7v1.7h-1.7zM72.2 537.2h1.7v1.7h-1.7zM69.9 541.2h1.7v1.7h-1.7zM66.8 542.8h1.7v1.7h-1.7zM68.1 542.9h1.7v1.7h-1.7zM63.4 538.3h1.7v1.7h-1.7zM61.6 543.9h1.7v1.7h-1.7zM68.5 536.3h1.7v1.7h-1.7zM62.4 543.6h1.7v1.7h-1.7zM63.5 545.6h1.7v1.7h-1.7zM62.6 539.1h1.7v1.7h-1.7zM59.5 543.1h1.7v1.7h-1.7zM61.3 542h1.7v1.7h-1.7zM70.3 546.1h1.7v1.7h-1.7zM65 545.7h1.7v1.7h-1.7zM67.9 540.7h1.7v1.7h-1.7zM60.1 545.4h1.7v1.7h-1.7zM61.6 544.6h1.7v1.7h-1.7zM72.4 537.8h1.7v1.7h-1.7zM70.6 544h1.7v1.7h-1.7zM64.5 545.6h1.7v1.7h-1.7zM64.5 536.5h1.7v1.7h-1.7zM57.8 544h1.7v1.7h-1.7zM59.7 538.2h1.7v1.7h-1.7zM61.6 543h1.7v1.7h-1.7zM57.1 540.5h1.7v1.7h-1.7zM65.5 538.9h1.7v1.7h-1.7zM69.3 539.7h1.7v1.7h-1.7zM60.9 545.3h1.7v1.7h-1.7zM67 546.4h1.7v1.7h-1.7zM73.2 540.1h1.7v1.7h-1.7zM65.1 544.3h1.7v1.7h-1.7zM57.5 542.3h1.7v1.7h-1.7zM70.2 546.1h1.7v1.7h-1.7zM57.9 540.6h1.7v1.7h-1.7zM64.7 539h1.7v1.7h-1.7zM63.6 536h1.7v1.7h-1.7zM72.1 544.7h1.7v1.7h-1.7zM65.9 541.9h1.7v1.7h-1.7zM64.3 538.6h1.7v1.7h-1.7zM69 538.6h1.7v1.7h-1.7zM60.7 542.8h1.7v1.7h-1.7zM66 541.9h1.7v1.7h-1.7zM56.4 538.7h1.7v1.7h-1.7zM64.3 545.9h1.7v1.7h-1.7zM71.7 542.2h1.7v1.7h-1.7zM69.6 539.8h1.7v1.7h-1.7zM67.5 537.1h1.7v1.7h-1.7zM57.1 544.6h1.7v1.7h-1.7zM59.1 541.2h1.7v1.7h-1.7zM60.1 546.4h1.7v1.7h-1.7zM58.6 545.8h1.7v1.7h-1.7zM66 543.4h1.7v1.7h-1.7zM64.6 546.4h1.7v1.7h-1.7zM65.8 545.2h1.7v1.7h-1.7zM57.8 546.3h1.7v1.7h-1.7zM58.9 544h1.7v1.7h-1.7zM59.2 543.3h1.7v1.7h-1.7zM59.1 539.9h1.7v1.7h-1.7zM72.1 544.7h1.7v1.7h-1.7zM57.4 536.3h1.7v1.7h-1.7zM57.6 541h1.7v1.7h-1.7zM69.9 543.1h1.7v1.7h-1.7zM72.4 545.9h1.7v1.7h-1.7zM69.3 537.2h1.7v1.7h-1.7zM72.5 538.1h1.7v1.7h-1.7zM64.1 542.8h1.7v1.7h-1.7zM71.6 544.2h1.7v1.7h-1.7zM60.8 546.4h1.7v1.7h-1.7zM59.8 546h1.7v1.7h-1.7zM73.1 544.8h1.7v1.7h-1.7zM62.5 536.1h1.7v1.7h-1.7zM68.7 543.6h1.7v1.7h-1.7zM58 544.3h1.7v1.7h-1.7zM61.4 536.5h1.7v1.7h-1.7zM63.8 536.1h1.7v1.7h-1.7zM61 546.4h1.7v1.7h-1.7zM72.6 546.3h1.7v1.7h-1.7zM70.5 541.7h1.7v1.7h-1.7zM61.3 538.4h1.7v1.7h-1.7zM57.9 536.5h1.7v1.7h-1.7zM63.5 535.7h1.7v1.7h-1.7zM69.2 539h1.7v1.7h-1.7zM59.3 539h1.7v1.7h-1.7zM66.9 536.5h1.7v1.7h-1.7zM72.1 539.6h1.7v1.7h-1.7zM56.4 537.6h1.7v1.7h-1.7zM68.4 537.7h1.7v1.7h-1.7zM70.5 536.8h1.7v1.7h-1.7zM67.3 536.7h1.7v1.7h-1.7zM58.3 536h1.7v1.7h-1.7zM68 540.9h1.7v1.7h-1.7zM94.8 544.2h1.7v1.7h-1.7zM94.8 548.6h1.7v1.7h-1.7zM75.9 544.4h1.7v1.7h-1.7zM74.7 561.1h1.7v1.7h-1.7zM76.6 547.5h1.7v1.7h-1.7zM77.1 537.8h1.7v1.7h-1.7zM76.7 554h1.7v1.7h-1.7zM94.4 538.2h1.7v1.7h-1.7zM76.2 556.8h1.7v1.7h-1.7zM94.7 547.3h1.7v1.7h-1.7zM95.8 547.7h1.7v1.7h-1.7zM76.7 561.4h1.7v1.7h-1.7zM76.8 542.8h1.7v1.7h-1.7zM86.5 561h1.7v1.7h-1.7zM94.7 550.7h1.7v1.7h-1.7zM76.8 552.7h1.7v1.7h-1.7zM94.5 540.9h1.7v1.7h-1.7zM95 549h1.7v1.7h-1.7zM74.2 557.5h1.7v1.7h-1.7zM88.8 561.9h1.7v1.7h-1.7zM94.5 549h1.7v1.7h-1.7zM76.7 545h1.7v1.7h-1.7zM94.8 540.4h1.7v1.7h-1.7zM90.2 532.8h1.7v1.7h-1.7zM89.1 531.3h1.7v1.7h-1.7zM93.4 532.4h1.7v1.7h-1.7zM81.3 532.4h1.7v1.7h-1.7zM81.7 531.1h1.7v1.7h-1.7zM92.6 532h1.7v1.7h-1.7zM87.1 530.4h1.7v1.7h-1.7zM93.8 531.6h1.7v1.7h-1.7zM83.5 531.8h1.7v1.7h-1.7zM85 531.3h1.7v1.7h-1.7zM84.3 532h1.7v1.7h-1.7zM92.5 532.9h1.7v1.7h-1.7zM79.6 531.7h1.7v1.7h-1.7zM83 529.8h1.7v1.7h-1.7zM80.9 530.6h1.7v1.7h-1.7zM90.1 529.8h1.7v1.7h-1.7zM77.7 531.4h1.7v1.7h-1.7zM86.9 532.5h1.7v1.7h-1.7zM83.6 529.3h1.7v1.7h-1.7zM83.2 533h1.7v1.7h-1.7zM92.4 534.2h1.7v1.7h-1.7zM93 533.9h1.7v1.7h-1.7zM86.6 529.4h1.7v1.7h-1.7zM84 528.6h1.7v1.7h-1.7zM92.6 531.7h1.7v1.7h-1.7zM77.7 532.8h1.7v1.7h-1.7zM92.5 528.9h1.7v1.7h-1.7zM90.2 531h1.7v1.7h-1.7zM82.5 528h1.7v1.7h-1.7zM86.9 525.7h1.7v1.7h-1.7zM79.5 531.4h1.7v1.7h-1.7zM89.1 525.8h1.7v1.7h-1.7zM85.1 527h1.7v1.7h-1.7zM78.6 528.5h1.7v1.7h-1.7zM82.6 527.9h1.7v1.7h-1.7zM82 533h1.7v1.7h-1.7zM81.5 527.6h1.7v1.7h-1.7zM89.5 525.7h1.7v1.7h-1.7zM101.1 522.6h1.7v1.7h-1.7zM96.6 535.3h1.7v1.7h-1.7zM101.5 520.8h1.7v1.7h-1.7zM109 543.1h1.7v1.7h-1.7zM107.8 520.1h1.7v1.7h-1.7zM95.9 532.3h1.7v1.7h-1.7zM108.5 524h1.7v1.7h-1.7zM109.3 526.6h1.7v1.7h-1.7zM108.7 543.9h1.7v1.7h-1.7zM109.6 523.6h1.7v1.7h-1.7zM110.3 541.4h1.7v1.7h-1.7zM110.1 539.4h1.7v1.7h-1.7zM107.1 554.6h1.7v1.7h-1.7zM110.7 538.2h1.7v1.7h-1.7zM105 555.6h1.7v1.7h-1.7zM110.3 542.6h1.7v1.7h-1.7zM102.3 521.4h1.7v1.7h-1.7zM100.3 523.8h1.7v1.7h-1.7zM97.6 539.2h1.7v1.7h-1.7zM102.3 521.5h1.7v1.7h-1.7zM98.3 543.9h1.7v1.7h-1.7zM109.7 531.2h1.7v1.7h-1.7zM105.1 518h1.7v1.7h-1.7zM99 545.1h1.7v1.7h-1.7zM106.6 555.2h1.7v1.7h-1.7zM110 524.7h1.7v1.7h-1.7zM107.3 555.4h1.7v1.7h-1.7zM95.9 532.8h1.7v1.7h-1.7zM108.8 524.3h1.7v1.7h-1.7zM96.2 538h1.7v1.7h-1.7zM109.4 530.2h1.7v1.7h-1.7zM112.3 549.2h1.7v1.7h-1.7zM113.8 548.2h1.7v1.7h-1.7zM114.3 534.7h1.7v1.7h-1.7zM115.1 526.8h1.7v1.7h-1.7zM114.1 526.6h1.7v1.7h-1.7zM113.6 542.2h1.7v1.7h-1.7zM112 530.2h1.7v1.7h-1.7zM114.1 532.2h1.7v1.7h-1.7zM113.6 537.4h1.7v1.7h-1.7zM115 539.7h1.7v1.7h-1.7zM112.3 523h1.7v1.7h-1.7zM114.5 524.6h1.7v1.7h-1.7zM115.2 537.9h1.7v1.7h-1.7zM112.3 536.3h1.7v1.7h-1.7zM113.5 539.3h1.7v1.7h-1.7zM114.6 543.3h1.7v1.7h-1.7zM115.2 544.4h1.7v1.7h-1.7zM112.8 526.5h1.7v1.7h-1.7zM112.6 529.5h1.7v1.7h-1.7zM112.8 538.7h1.7v1.7h-1.7zM113.4 543.4h1.7v1.7h-1.7zM114.7 523.3h1.7v1.7h-1.7zM115 546h1.7v1.7h-1.7zM111.9 537.8h1.7v1.7h-1.7zM114.4 534.7h1.7v1.7h-1.7zM103.1 542.5h1.7v1.7h-1.7zM101.7 551.5h1.7v1.7h-1.7zM100.3 553.9h1.7v1.7h-1.7zM100.3 545.4h1.7v1.7h-1.7zM99.9 552.4h1.7v1.7h-1.7zM101 543.6h1.7v1.7h-1.7zM101.5 553.4h1.7v1.7h-1.7zM100.5 551.9h1.7v1.7h-1.7zM102.4 549.5h1.7v1.7h-1.7zM100.5 543.8h1.7v1.7h-1.7zM99.8 549.2h1.7v1.7h-1.7zM103.2 550.9h1.7v1.7h-1.7zM127.1 544.9h1.7v1.7h-1.7zM124.5 522.6h1.7v1.7h-1.7zM117.5 542.7h1.7v1.7h-1.7zM128.6 552.8h1.7v1.7h-1.7zM127.1 546h1.7v1.7h-1.7zM118.3 551.9h1.7v1.7h-1.7zM121.8 527.8h1.7v1.7h-1.7zM128 550.5h1.7v1.7h-1.7zM117.3 556.6h1.7v1.7h-1.7zM128.1 527.3h1.7v1.7h-1.7zM115.9 553h1.7v1.7h-1.7zM128.1 557h1.7v1.7h-1.7zM119.4 533.8h1.7v1.7h-1.7zM117.1 538h1.7v1.7h-1.7zM128.5 554.9h1.7v1.7h-1.7zM119.5 531.9h1.7v1.7h-1.7zM127.2 556.7h1.7v1.7h-1.7zM127.6 547.4h1.7v1.7h-1.7zM127.6 555.7h1.7v1.7h-1.7zM117.9 545h1.7v1.7h-1.7zM117.9 553.1h1.7v1.7h-1.7zM129.6 539.9h1.7v1.7h-1.7zM127.5 534.2h1.7v1.7h-1.7zM117.6 545.4h1.7v1.7h-1.7zM121.7 527.5h1.7v1.7h-1.7zM127.5 526.3h1.7v1.7h-1.7zM127.3 545.4h1.7v1.7h-1.7zM116.9 549.8h1.7v1.7h-1.7zM118.2 540.3h1.7v1.7h-1.7zM127.9 551.9h1.7v1.7h-1.7zM120.4 527.5h1.7v1.7h-1.7zM125.2 521.5h1.7v1.7h-1.7zM133.7 531.3h1.7v1.7h-1.7zM133.2 527.1h1.7v1.7h-1.7zM132.3 528.8h1.7v1.7h-1.7zM132.2 538.9h1.7v1.7h-1.7zM135.8 534.9h1.7v1.7h-1.7zM135.6 547.2h1.7v1.7h-1.7zM135.8 528.9h1.7v1.7h-1.7zM133 533.3h1.7v1.7h-1.7zM135.6 551.8h1.7v1.7h-1.7zM133.5 533.3h1.7v1.7h-1.7zM134.2 528.4h1.7v1.7h-1.7zM133.7 544h1.7v1.7h-1.7zM132.6 549.8h1.7v1.7h-1.7zM135.4 550.2h1.7v1.7h-1.7zM135.5 532.2h1.7v1.7h-1.7zM134.2 548.9h1.7v1.7h-1.7zM132 555h1.7v1.7h-1.7zM135.3 527.1h1.7v1.7h-1.7zM135.8 549.6h1.7v1.7h-1.7zM135.7 544.3h1.7v1.7h-1.7zM133.4 528.7h1.7v1.7h-1.7zM135.2 536.4h1.7v1.7h-1.7zM133.1 555.3h1.7v1.7h-1.7zM132.7 550.2h1.7v1.7h-1.7zM132.7 539.9h1.7v1.7h-1.7z" fill="#000"/>
<path d="M110.5 539.4h1.1v1.1h-1.1zM109.1 548.3h1.1v1.1h-1.1zM111 544.6h1.1v1.1h-1.1zM111 538.7h1.1v1.1h-1.1zM110.8 538h1.1v1.1h-1.1zM107.3 545.9h1.1v1.1h-1.1zM108 547.1h1.1v1.1h-1.1zM112.6 562.3h1.1v1.1h-1.1zM128.6 551.6h1.1v1.1h-1.1zM129 531.3h1.1v1.1h-1.1zM127.3 562.8h1.1v1.1h-1.1zM127.4 543h1.1v1.1h-1.1zM127.4 542.8h1.1v1.1h-1.1zM131.3 546h1.1v1.1h-1.1z" fill="#000"/>
<rect x="36.2" y="562.6" width="18" height="2.5" fill="#000"/>
<rect x="56.8" y="562.6" width="18" height="2.5" fill="#000"/>
<rect x="77.5" y="562.6" width="18" height="2.5" fill="#000"/>
<rect x="98.2" y="562.6" width="18" height="2.5" fill="#000"/>
<rect x="118.8" y="562.6" width="18" height="2.5" fill="#000"/>
<path d="M33 514.7V566H140.3" fill="none" stroke="#3a3a3a" stroke-width="1"/>
<path d="M33 563.9h-2" stroke="#3a3a3a" stroke-width="0.9"/>
<text x="29.1" y="567" font-size="7.2" font-weight="normal" fill="#111" text-anchor="end">0</text>
<path d="M33 547.3h-2" stroke="#3a3a3a" stroke-width="0.9"/>
<text x="29.1" y="550.4" font-size="7.2" font-weight="normal" fill="#111" text-anchor="end">2</text>
<path d="M33 530.7h-2" stroke="#3a3a3a" stroke-width="0.9"/>
<text x="29.1" y="533.8" font-size="7.2" font-weight="normal" fill="#111" text-anchor="end">4</text>
<path d="M45.2 566v2" stroke="#3a3a3a" stroke-width="0.9"/>
<text x="0" y="0" font-size="7.1" font-weight="normal" fill="#111" text-anchor="end" stroke="#111" stroke-width="0.12" transform="translate(49.8 573.5) rotate(-45)">Tenocyte A</text>
<path d="M65.8 566v2" stroke="#3a3a3a" stroke-width="0.9"/>
<text x="0" y="0" font-size="7.1" font-weight="normal" fill="#111" text-anchor="end" stroke="#111" stroke-width="0.12" transform="translate(70.4 573.5) rotate(-45)">Tenocyte B</text>
<path d="M86.5 566v2" stroke="#3a3a3a" stroke-width="0.9"/>
<text x="0" y="0" font-size="7.1" font-weight="normal" fill="#111" text-anchor="end" stroke="#111" stroke-width="0.12" transform="translate(91.1 573.5) rotate(-45)">Tenocyte C</text>
<path d="M107.2 566v2" stroke="#3a3a3a" stroke-width="0.9"/>
<text x="0" y="0" font-size="7.1" font-weight="normal" fill="#111" text-anchor="end" stroke="#111" stroke-width="0.12" transform="translate(111.8 573.5) rotate(-45)">Tenocyte D</text>
<path d="M127.8 566v2" stroke="#3a3a3a" stroke-width="0.9"/>
<text x="0" y="0" font-size="7.1" font-weight="normal" fill="#111" text-anchor="end" stroke="#111" stroke-width="0.12" transform="translate(132.4 573.5) rotate(-45)">Tenocyte E</text>
<text x="86.7" y="607.4" font-size="8" font-weight="normal" fill="#111" text-anchor="middle" stroke="#111" stroke-width="0.1">Identity</text>
<text x="0" y="0" font-size="7.8" font-weight="normal" fill="#111" text-anchor="middle" stroke="#111" stroke-width="0.1" transform="translate(20.9 541.1) rotate(-90)">Expression Level</text>
<text x="221.7" y="510.8" font-size="8.3" font-weight="bold" fill="#111" text-anchor="middle" stroke="#111" stroke-width="0.25" textLength="22" lengthAdjust="spacingAndGlyphs">APOD</text>
<path d="M180.2 563.9V551.5" stroke="#8c8c8c" stroke-width="1"/>
<path d="M200.8 563.9V557.7" stroke="#8c8c8c" stroke-width="1"/>
<path d="M221.5 563.9V551.5" stroke="#8c8c8c" stroke-width="1"/>
<path d="M242.1 563.9V517.4" stroke="#8c8c8c" stroke-width="1"/>
<path d="M262.8 563.9V523" stroke="#8c8c8c" stroke-width="1"/>
<path d="M233.6 526.6 L234 527.7 L233.7 528.8 L233.9 529.9 L233.6 531 L233.5 532.1 L234 533.2 L234.1 534.3 L233.5 535.4 L233.6 536.5 L234.1 537.6 L233.6 538.7 L233.4 539.8 L233.9 540.9 L233.5 542 L233.8 543.1 L233.9 544.2 L233.4 545.3 L233.3 546.4 L234.1 547.5 L233.3 548.7 L234.1 549.8 L233.8 550.9 L234.1 552 L233.6 553.1 L234.1 554.2 L233.2 555.3 L233.3 556.4 L233.5 557.5 L233.8 558.6 L233.7 559.7 L234.1 560.8 L243 560.8 L242.4 559.7 L242.7 558.6 L242.2 557.5 L243 556.4 L242.9 555.3 L242.7 554.2 L242.4 553.1 L243.1 552 L242.6 550.9 L242.4 549.8 L242.9 548.7 L242.4 547.5 L242.5 546.4 L242.6 545.3 L242.9 544.2 L242.2 543.1 L242.9 542 L242.3 540.9 L242.6 539.8 L243.1 538.7 L242.2 537.6 L242.8 536.5 L242.6 535.4 L242.6 534.3 L242.4 533.2 L242.9 532.1 L242.3 531 L242.6 529.9 L242.6 528.8 L242.6 527.7 L242.5 526.6 L240.8 525.3 L239.5 524.6 L238.1 525 L236.8 525.2 L235.5 524.8Z" fill="#000"/>
<path d="M241.6 560.2 L233.1 563.6 L242.1 563.6 L242.1 560.2Z" fill="#000"/>
<path d="M242.1 520.5 L242.1 530.4 L242.1 550.3 L241.1 558.9 L239.1 563.6 L251.6 563.6 L250.6 558.9 L249.1 550.3 L246.1 530.4 L243.1 520.5Z" fill="#2727F0"/>
<path d="M240 549.5h1v1h-1zM241.4 531.4h1v1h-1zM237.7 536h1v1h-1zM239.3 546.3h1v1h-1zM241.2 537.4h1v1h-1zM236.7 533.9h1v1h-1zM234 550.5h1v1h-1zM237.1 532.7h1v1h-1zM234.1 546.4h1v1h-1zM240.8 542.8h1v1h-1zM239.6 550.5h1v1h-1zM238.9 533.5h1v1h-1zM235.6 539.2h1v1h-1zM238.3 536.5h1v1h-1zM237.8 526.1h1v1h-1zM240.9 547.8h1v1h-1zM236.4 538.2h1v1h-1zM234.9 537.3h1v1h-1zM240.7 553.6h1v1h-1zM240.1 543.9h1v1h-1zM237.4 552.7h1v1h-1zM240.1 551.9h1v1h-1zM236.8 539.2h1v1h-1zM235.3 546.7h1v1h-1zM239.2 552.9h1v1h-1zM234.5 549.3h1v1h-1zM237.3 546.7h1v1h-1zM236.7 525.4h1v1h-1zM241.4 546h1v1h-1zM237.3 534.8h1v1h-1zM235.5 546.2h1v1h-1zM237.4 554.9h1v1h-1zM234.5 537.7h1v1h-1zM235 543.5h1v1h-1zM236.4 539h1v1h-1zM239.9 536.8h1v1h-1zM236.7 546h1v1h-1zM235.3 557.5h1v1h-1zM240.1 538.3h1v1h-1zM241.5 555.4h1v1h-1zM236.6 528h1v1h-1zM239 541.2h1v1h-1zM236.6 548.7h1v1h-1zM237.5 534.8h1v1h-1zM238.2 544.9h1v1h-1zM237.4 556.2h1v1h-1zM235 549.9h1v1h-1zM239.3 541.8h1v1h-1zM237.6 541.7h1v1h-1zM237 536.6h1v1h-1zM235.4 525.6h1v1h-1zM238.2 560h1v1h-1zM236.7 535.7h1v1h-1zM236.4 546.2h1v1h-1zM240 551.7h1v1h-1zM235.9 529.8h1v1h-1zM237.3 540.3h1v1h-1zM239.5 555.7h1v1h-1zM241.6 541.5h1v1h-1zM240.9 528.1h1v1h-1zM234.5 551h1v1h-1zM234.5 531.7h1v1h-1zM235.1 536h1v1h-1zM234.1 535.4h1v1h-1zM240.6 557.2h1v1h-1zM237.3 542.1h1v1h-1zM239.9 525.9h1v1h-1zM239.3 552.3h1v1h-1zM237.4 546.7h1v1h-1zM235.5 549.2h1v1h-1zM235.8 549.6h1v1h-1zM240.6 553.6h1v1h-1zM238.1 546.9h1v1h-1zM239.1 531.6h1v1h-1zM241.3 554.8h1v1h-1zM240.4 527.4h1v1h-1zM240.3 548.7h1v1h-1zM233.9 537.6h1v1h-1zM239.2 547h1v1h-1zM241.2 541.1h1v1h-1zM240.3 532.4h1v1h-1zM236.4 525.7h1v1h-1zM233.7 528.2h1v1h-1zM234.4 532.1h1v1h-1zM237.2 542.6h1v1h-1zM238.7 557.8h1v1h-1zM235.4 532.5h1v1h-1zM239.8 551.6h1v1h-1zM233.8 541.6h1v1h-1zM241.2 549.5h1v1h-1z" fill="#fff"/>
<path d="M180.1 558.4h1.7v1.7h-1.7zM187.9 556.5h1.7v1.7h-1.7zM185 552.8h1.7v1.7h-1.7zM177 551.4h1.7v1.7h-1.7zM180.1 560.2h1.7v1.7h-1.7zM173.4 561.2h1.7v1.7h-1.7zM174.4 555.2h1.7v1.7h-1.7zM188.2 560.4h1.7v1.7h-1.7zM176.4 556.5h1.7v1.7h-1.7zM186.1 555h1.7v1.7h-1.7zM172.1 557.4h1.7v1.7h-1.7zM185.5 560.8h1.7v1.7h-1.7zM176.2 557.9h1.7v1.7h-1.7zM187.9 561.3h1.7v1.7h-1.7zM182.1 559.5h1.7v1.7h-1.7zM183.5 558.4h1.7v1.7h-1.7zM177.3 559h1.7v1.7h-1.7zM183.2 560.8h1.7v1.7h-1.7zM172.1 558.5h1.7v1.7h-1.7zM180.3 556h1.7v1.7h-1.7zM175.7 556.5h1.7v1.7h-1.7zM177 555.7h1.7v1.7h-1.7zM179.8 554.1h1.7v1.7h-1.7zM180.2 559.9h1.7v1.7h-1.7zM185 558.2h1.7v1.7h-1.7zM200.4 559h1.7v1.7h-1.7zM197.3 560.4h1.7v1.7h-1.7zM194.8 560.8h1.7v1.7h-1.7zM196.1 561h1.7v1.7h-1.7zM198.5 558.7h1.7v1.7h-1.7zM193.1 557.9h1.7v1.7h-1.7zM199.1 558.5h1.7v1.7h-1.7zM198.7 557.7h1.7v1.7h-1.7zM223.9 559.9h1.7v1.7h-1.7zM221.5 558.4h1.7v1.7h-1.7zM225.1 557.3h1.7v1.7h-1.7zM215.7 560.8h1.7v1.7h-1.7zM229.4 559.9h1.7v1.7h-1.7zM216.2 551.4h1.7v1.7h-1.7zM212.6 556.9h1.7v1.7h-1.7zM219.4 554h1.7v1.7h-1.7zM225.7 550.9h1.7v1.7h-1.7zM217.4 560.3h1.7v1.7h-1.7zM215.5 561.1h1.7v1.7h-1.7zM216.5 554.7h1.7v1.7h-1.7zM227.7 560.1h1.7v1.7h-1.7zM216.5 551.8h1.7v1.7h-1.7zM222.2 557h1.7v1.7h-1.7zM212.9 560.6h1.7v1.7h-1.7zM215.6 554.7h1.7v1.7h-1.7zM212.7 555.9h1.7v1.7h-1.7zM226.4 561.2h1.7v1.7h-1.7zM216.8 556.8h1.7v1.7h-1.7zM222.6 553.4h1.7v1.7h-1.7zM223.9 556.6h1.7v1.7h-1.7zM217.7 554.6h1.7v1.7h-1.7zM219.9 551.4h1.7v1.7h-1.7zM221.2 555h1.7v1.7h-1.7zM223.6 556.1h1.7v1.7h-1.7zM220.5 554.2h1.7v1.7h-1.7zM222.4 550.7h1.7v1.7h-1.7zM217.1 556h1.7v1.7h-1.7zM229.2 552.6h1.7v1.7h-1.7zM231.5 537.7h1.7v1.7h-1.7zM232.1 526.4h1.7v1.7h-1.7zM231.5 542h1.7v1.7h-1.7zM243.7 525.7h1.7v1.7h-1.7zM231.9 527.9h1.7v1.7h-1.7zM243.5 544.7h1.7v1.7h-1.7zM232.1 531.8h1.7v1.7h-1.7zM231.9 554.2h1.7v1.7h-1.7zM229.8 553.1h1.7v1.7h-1.7zM243.6 531h1.7v1.7h-1.7zM242.7 533.6h1.7v1.7h-1.7zM232.8 555.4h1.7v1.7h-1.7zM232.8 547.8h1.7v1.7h-1.7zM242.1 551.6h1.7v1.7h-1.7zM241.4 532.3h1.7v1.7h-1.7zM242.1 542.7h1.7v1.7h-1.7zM231.7 531.5h1.7v1.7h-1.7zM233.1 559.6h1.7v1.7h-1.7zM242.8 533.7h1.7v1.7h-1.7zM232.8 541.3h1.7v1.7h-1.7zM241.5 556.9h1.7v1.7h-1.7zM242.6 532.8h1.7v1.7h-1.7zM241.6 535.5h1.7v1.7h-1.7zM233.2 526.7h1.7v1.7h-1.7zM242.6 532.5h1.7v1.7h-1.7zM242.2 556.8h1.7v1.7h-1.7zM233 548h1.7v1.7h-1.7zM231.1 537.3h1.7v1.7h-1.7zM239.2 523.8h1.7v1.7h-1.7zM238.1 522.6h1.7v1.7h-1.7zM239.4 522h1.7v1.7h-1.7zM238.9 522.3h1.7v1.7h-1.7zM237 523.3h1.7v1.7h-1.7zM235.6 523.8h1.7v1.7h-1.7zM247.4 548.3h1.7v1.7h-1.7zM248.1 524.2h1.7v1.7h-1.7zM249.5 544.4h1.7v1.7h-1.7zM249 558.8h1.7v1.7h-1.7zM246.6 545h1.7v1.7h-1.7zM248.8 554.3h1.7v1.7h-1.7zM246.5 525.6h1.7v1.7h-1.7zM247 557.7h1.7v1.7h-1.7zM246.6 556.8h1.7v1.7h-1.7zM247.4 536.6h1.7v1.7h-1.7zM248.9 548.4h1.7v1.7h-1.7zM248.4 546.6h1.7v1.7h-1.7zM248.6 555.6h1.7v1.7h-1.7zM248.8 559.9h1.7v1.7h-1.7zM250 551.5h1.7v1.7h-1.7zM248.5 552.4h1.7v1.7h-1.7zM248.1 549.3h1.7v1.7h-1.7zM248.9 528.5h1.7v1.7h-1.7zM249.7 520.7h1.7v1.7h-1.7zM248.1 537.8h1.7v1.7h-1.7zM268.7 559.4h1.7v1.7h-1.7zM254.1 557.6h1.7v1.7h-1.7zM263.7 555.1h1.7v1.7h-1.7zM260 546.4h1.7v1.7h-1.7zM257.8 545.1h1.7v1.7h-1.7zM269.5 553.7h1.7v1.7h-1.7zM259.7 552.3h1.7v1.7h-1.7zM266.2 559.7h1.7v1.7h-1.7zM257 542.4h1.7v1.7h-1.7zM267.5 539.5h1.7v1.7h-1.7zM268.5 533.4h1.7v1.7h-1.7zM253.4 542h1.7v1.7h-1.7zM267.7 540.3h1.7v1.7h-1.7zM258.2 534.4h1.7v1.7h-1.7zM257.4 547.1h1.7v1.7h-1.7zM265.3 561.5h1.7v1.7h-1.7zM268.3 554.8h1.7v1.7h-1.7zM265.9 548.2h1.7v1.7h-1.7zM265.2 550.3h1.7v1.7h-1.7zM259.6 541.5h1.7v1.7h-1.7zM270.1 551.2h1.7v1.7h-1.7zM254.7 540h1.7v1.7h-1.7zM270.7 550.8h1.7v1.7h-1.7zM270.8 540.7h1.7v1.7h-1.7zM255.4 538.2h1.7v1.7h-1.7zM256.7 550h1.7v1.7h-1.7zM270.8 543.9h1.7v1.7h-1.7zM270.3 543h1.7v1.7h-1.7zM265.4 536.9h1.7v1.7h-1.7zM257.9 534h1.7v1.7h-1.7zM270.6 542.3h1.7v1.7h-1.7zM262.2 538.1h1.7v1.7h-1.7zM262.2 536.9h1.7v1.7h-1.7zM266.6 546.5h1.7v1.7h-1.7zM263 541.5h1.7v1.7h-1.7zM269.2 540h1.7v1.7h-1.7zM255.4 552h1.7v1.7h-1.7zM268.8 551.6h1.7v1.7h-1.7zM267.6 555.6h1.7v1.7h-1.7zM257.6 542.3h1.7v1.7h-1.7zM264.6 538.5h1.7v1.7h-1.7zM266.7 552.2h1.7v1.7h-1.7zM260.4 550.5h1.7v1.7h-1.7zM255.4 550h1.7v1.7h-1.7zM268.1 542.1h1.7v1.7h-1.7zM265.1 544h1.7v1.7h-1.7zM270.9 545.8h1.7v1.7h-1.7zM253 542.9h1.7v1.7h-1.7zM256 553.4h1.7v1.7h-1.7zM257.9 546.5h1.7v1.7h-1.7zM268.6 553h1.7v1.7h-1.7zM260.7 552.9h1.7v1.7h-1.7zM262.4 548.8h1.7v1.7h-1.7zM259.2 547.1h1.7v1.7h-1.7zM259.3 554.8h1.7v1.7h-1.7zM262 550.7h1.7v1.7h-1.7zM268.1 541.8h1.7v1.7h-1.7zM263.6 545.5h1.7v1.7h-1.7zM254.4 542.2h1.7v1.7h-1.7zM255.5 541.8h1.7v1.7h-1.7zM256.1 540h1.7v1.7h-1.7zM258 550h1.7v1.7h-1.7zM255.6 537.3h1.7v1.7h-1.7zM265.1 538h1.7v1.7h-1.7zM263.4 547.4h1.7v1.7h-1.7zM258.9 559.5h1.7v1.7h-1.7zM254.4 545.1h1.7v1.7h-1.7zM261.6 552h1.7v1.7h-1.7zM256.3 555.2h1.7v1.7h-1.7zM266.2 549.4h1.7v1.7h-1.7zM261.1 552h1.7v1.7h-1.7zM269.4 548.1h1.7v1.7h-1.7zM266.7 562.1h1.7v1.7h-1.7zM264.4 554.5h1.7v1.7h-1.7zM266.2 530.2h1.7v1.7h-1.7zM267.5 557.5h1.7v1.7h-1.7zM265.7 546.4h1.7v1.7h-1.7zM263.4 545.4h1.7v1.7h-1.7zM258.9 541h1.7v1.7h-1.7zM256 562.1h1.7v1.7h-1.7zM261.9 553h1.7v1.7h-1.7zM257.9 554.2h1.7v1.7h-1.7zM264.4 560.9h1.7v1.7h-1.7zM264.1 543.3h1.7v1.7h-1.7zM265.6 533.6h1.7v1.7h-1.7zM269.3 543.8h1.7v1.7h-1.7zM268.9 560.2h1.7v1.7h-1.7zM266.4 558.8h1.7v1.7h-1.7zM253.4 552.3h1.7v1.7h-1.7zM265.9 552.5h1.7v1.7h-1.7zM256.7 545.7h1.7v1.7h-1.7zM260.9 557.7h1.7v1.7h-1.7zM255.3 542.7h1.7v1.7h-1.7zM266.4 548.9h1.7v1.7h-1.7zM257.5 545h1.7v1.7h-1.7zM256.4 543.8h1.7v1.7h-1.7zM260.4 556.4h1.7v1.7h-1.7zM253.4 539.3h1.7v1.7h-1.7zM260.5 536.9h1.7v1.7h-1.7zM256.9 552.4h1.7v1.7h-1.7zM270.8 549h1.7v1.7h-1.7zM268.7 544.9h1.7v1.7h-1.7zM269.3 557.7h1.7v1.7h-1.7zM263.2 541.9h1.7v1.7h-1.7zM262.2 561.6h1.7v1.7h-1.7zM270.5 553.1h1.7v1.7h-1.7zM266.5 542.8h1.7v1.7h-1.7zM260.9 533.8h1.7v1.7h-1.7zM260 546.5h1.7v1.7h-1.7zM263.3 556.5h1.7v1.7h-1.7z" fill="#000"/>
<path d="M243.5 547.9h1.1v1.1h-1.1zM247.2 541.1h1.1v1.1h-1.1zM247.8 560.6h1.1v1.1h-1.1zM245.7 549.1h1.1v1.1h-1.1zM246.8 551.6h1.1v1.1h-1.1zM243.4 541.7h1.1v1.1h-1.1zM241.6 543.7h1.1v1.1h-1.1zM249.3 558.8h1.1v1.1h-1.1zM244.2 559.5h1.1v1.1h-1.1zM241.8 534.2h1.1v1.1h-1.1zM242 522.9h1.1v1.1h-1.1zM242.2 521.6h1.1v1.1h-1.1zM244.7 537.8h1.1v1.1h-1.1zM245.3 559.2h1.1v1.1h-1.1zM244.9 530.7h1.1v1.1h-1.1zM244.5 531.4h1.1v1.1h-1.1zM244.5 557.5h1.1v1.1h-1.1zM241.8 541.1h1.1v1.1h-1.1zM242 530h1.1v1.1h-1.1zM243 538.7h1.1v1.1h-1.1zM249.3 556h1.1v1.1h-1.1zM245.2 536.3h1.1v1.1h-1.1z" fill="#000"/>
<rect x="171.2" y="562.6" width="18" height="2.5" fill="#000"/>
<rect x="191.8" y="562.6" width="18" height="2.5" fill="#000"/>
<rect x="212.5" y="562.6" width="18" height="2.5" fill="#000"/>
<rect x="233.1" y="562.6" width="18" height="2.5" fill="#000"/>
<rect x="253.8" y="562.6" width="18" height="2.5" fill="#000"/>
<path d="M168 514.7V566H275.3" fill="none" stroke="#3a3a3a" stroke-width="1"/>
<path d="M168 563.9h-2" stroke="#3a3a3a" stroke-width="0.9"/>
<text x="164.1" y="567" font-size="7.2" font-weight="normal" fill="#111" text-anchor="end">0</text>
<path d="M168 551.5h-2" stroke="#3a3a3a" stroke-width="0.9"/>
<text x="164.1" y="554.6" font-size="7.2" font-weight="normal" fill="#111" text-anchor="end">2</text>
<path d="M168 539.1h-2" stroke="#3a3a3a" stroke-width="0.9"/>
<text x="164.1" y="542.2" font-size="7.2" font-weight="normal" fill="#111" text-anchor="end">4</text>
<path d="M168 526.7h-2" stroke="#3a3a3a" stroke-width="0.9"/>
<text x="164.1" y="529.8" font-size="7.2" font-weight="normal" fill="#111" text-anchor="end">6</text>
<path d="M180.2 566v2" stroke="#3a3a3a" stroke-width="0.9"/>
<text x="0" y="0" font-size="7.1" font-weight="normal" fill="#111" text-anchor="end" stroke="#111" stroke-width="0.12" transform="translate(184.8 573.5) rotate(-45)">Tenocyte A</text>
<path d="M200.8 566v2" stroke="#3a3a3a" stroke-width="0.9"/>
<text x="0" y="0" font-size="7.1" font-weight="normal" fill="#111" text-anchor="end" stroke="#111" stroke-width="0.12" transform="translate(205.4 573.5) rotate(-45)">Tenocyte B</text>
<path d="M221.5 566v2" stroke="#3a3a3a" stroke-width="0.9"/>
<text x="0" y="0" font-size="7.1" font-weight="normal" fill="#111" text-anchor="end" stroke="#111" stroke-width="0.12" transform="translate(226.1 573.5) rotate(-45)">Tenocyte C</text>
<path d="M242.1 566v2" stroke="#3a3a3a" stroke-width="0.9"/>
<text x="0" y="0" font-size="7.1" font-weight="normal" fill="#111" text-anchor="end" stroke="#111" stroke-width="0.12" transform="translate(246.7 573.5) rotate(-45)">Tenocyte D</text>
<path d="M262.8 566v2" stroke="#3a3a3a" stroke-width="0.9"/>
<text x="0" y="0" font-size="7.1" font-weight="normal" fill="#111" text-anchor="end" stroke="#111" stroke-width="0.12" transform="translate(267.4 573.5) rotate(-45)">Tenocyte E</text>
<text x="221.7" y="607.4" font-size="8" font-weight="normal" fill="#111" text-anchor="middle" stroke="#111" stroke-width="0.1">Identity</text>
<text x="0" y="0" font-size="7.8" font-weight="normal" fill="#111" text-anchor="middle" stroke="#111" stroke-width="0.1" transform="translate(155.9 541.1) rotate(-90)">Expression Level</text>
<text x="356.1" y="510.8" font-size="8.3" font-weight="bold" fill="#111" text-anchor="middle" stroke="#111" stroke-width="0.25" textLength="22.8" lengthAdjust="spacingAndGlyphs">COMP</text>
<path d="M314.6 563.9V532.9" stroke="#8c8c8c" stroke-width="1"/>
<path d="M335.2 563.9V529.4" stroke="#8c8c8c" stroke-width="1"/>
<path d="M355.9 563.9V541.1" stroke="#8c8c8c" stroke-width="1"/>
<path d="M376.5 563.9V521.8" stroke="#8c8c8c" stroke-width="1"/>
<path d="M397.2 563.9V519" stroke="#8c8c8c" stroke-width="1"/>
<path d="M305.1 551.9 L305.3 553 L305.2 554.2 L305.4 555.3 L305.2 556.4 L305.3 557.6 L305.5 558.7 L305.6 559.8 L305.2 561 L305.8 562.1 L305.3 563.2 L323.1 563.2 L323.1 562.1 L322.9 561 L323.9 559.8 L323.1 558.7 L323.5 557.6 L323.6 556.4 L323.8 555.3 L323.2 554.2 L323.6 553 L323.1 551.9 L321.7 550.5 L320.5 549.8 L319.3 550.5 L318.1 550.1 L316.9 550.7 L315.7 550 L314.5 550.5 L313.3 550.2 L312.1 550.7 L310.9 549.8 L309.7 550.5 L308.5 550.6 L307.3 550Z" fill="#000"/>
<path d="M314.6 561.5 L314.6 563.2 L322.1 563.2 L321.6 561.5Z" fill="#2727F0"/>
<path d="M326.1 547.3 L325.9 548.5 L325.7 549.6 L326.5 550.7 L326 551.9 L326.2 553 L325.8 554.1 L326.1 555.3 L326 556.4 L325.8 557.5 L326.5 558.7 L326.2 559.8 L326.2 560.9 L326.1 562.1 L326.1 563.2 L344.4 563.2 L344.3 562.1 L345.1 560.9 L344.7 559.8 L345.1 558.7 L345.2 557.5 L344.8 556.4 L344.4 555.3 L344.8 554.1 L344.4 553 L345.1 551.9 L344.3 550.7 L344.7 549.6 L345.2 548.5 L345.2 547.3 L343 547 L341.7 546.6 L340.5 546.4 L339.2 546.8 L337.9 546.4 L336.7 546.8 L335.4 546.4 L334.1 547.2 L332.9 547.3 L331.6 546.9 L330.3 547 L329.1 547.3 L327.8 547.3Z" fill="#000"/>
<path d="M335.2 561.1 L335.2 563.2 L343.7 563.2 L343.2 561.1Z" fill="#2727F0"/>
<path d="M374.9 532.9 L375.2 534 L374.1 535.1 L373.9 536.2 L374.3 537.3 L374 538.5 L372.9 539.6 L372.5 540.7 L372.5 541.8 L372.5 543 L371.8 544.1 L371.8 545.2 L371.6 546.3 L370 547.5 L368.9 548.6 L367.3 549.7 L366.8 550.8 L366.8 552 L367.1 553.1 L366.8 554.2 L367.7 555.3 L367.6 556.5 L366.8 557.6 L367.4 558.7 L367.7 559.8 L367.4 561 L366.8 562.1 L366.8 563.2 L377.2 563.2 L377.2 562.1 L376.6 561 L377.1 559.8 L377.4 558.7 L377.3 557.6 L376.9 556.5 L376.7 555.3 L377.2 554.2 L376.6 553.1 L376.8 552 L377.5 550.8 L376.8 549.7 L376.9 548.6 L377.1 547.5 L377.4 546.3 L377.6 545.2 L377.6 544.1 L377.2 543 L377.4 541.8 L377.9 540.7 L377.6 539.6 L377.9 538.5 L378.2 537.3 L378.3 536.2 L377.8 535.1 L377.4 534 L377.4 532.9Z" fill="#000"/>
<path d="M376.5 537 L376.5 546.6 L376.5 557 L376.5 561.8 L376.5 563.6 L386 563.6 L385.5 561.8 L383.5 557 L380 546.6 L377.3 537Z" fill="#2727F0"/>
<path d="M393 519.7 L392.3 520.9 L391.5 522 L390.8 523.1 L389.6 524.2 L388.4 525.4 L387.9 526.5 L388.1 527.6 L387.9 528.7 L388.4 529.9 L388 531 L387.9 532.1 L388.2 533.2 L388.7 534.3 L388.2 535.5 L388.8 536.6 L388.7 537.7 L388.1 538.8 L388.5 540 L388.7 541.1 L388.5 542.2 L388.2 543.3 L388.6 544.5 L389.1 545.6 L389.5 546.7 L390.3 547.8 L390 548.9 L391.1 550.1 L390.8 551.2 L391.4 552.3 L392 553.4 L392.3 554.6 L392.8 555.7 L393.2 556.8 L393.2 557.9 L393.6 559.1 L393.7 560.2 L394 561.3 L394.9 562.4 L395 563.6 L398 563.6 L397.6 562.4 L398.2 561.3 L398.1 560.2 L398.1 559.1 L397.2 557.9 L397.9 556.8 L398 555.7 L397.5 554.6 L397.4 553.4 L398.1 552.3 L398 551.2 L397.4 550.1 L397.8 548.9 L397.7 547.8 L397.2 546.7 L396.9 545.6 L396.7 544.5 L397.1 543.3 L396.5 542.2 L396.4 541.1 L397.1 540 L396.9 538.8 L397 537.7 L396.3 536.6 L396.3 535.5 L397 534.3 L396.9 533.2 L397.1 532.1 L396.8 531 L396.4 529.9 L396.9 528.7 L396.5 527.6 L396.8 526.5 L396.5 525.4 L396.9 524.2 L397.1 523.1 L397.4 522 L397.5 520.9 L397.6 519.7 L394.9 519.4Z" fill="#000"/>
<path d="M396.2 519 L396.2 522.5 L396.2 529.4 L396.7 536.3 L397.2 543.2 L397.2 546.6 L397.2 550.1 L396.2 557 L395.2 560.4 L394.7 563.6 L402.2 563.6 L401.7 560.4 L400.2 557 L400.2 550.1 L402.7 546.6 L405.2 543.2 L406.2 536.3 L405.7 529.4 L402.2 522.5 L399.2 519Z" fill="#2727F0"/>
<path d="M315.6 551.6h1v1h-1zM306.1 554.8h1v1h-1zM318.9 560.1h1v1h-1zM308.9 562.5h1v1h-1zM315.4 561.8h1v1h-1zM318.8 561h1v1h-1zM318.7 557.1h1v1h-1zM321.9 551.4h1v1h-1zM311.7 560.3h1v1h-1zM311.2 552.8h1v1h-1zM316.2 553.1h1v1h-1zM309.2 555.2h1v1h-1zM314.5 552.8h1v1h-1zM310.2 552.3h1v1h-1zM321.6 552.5h1v1h-1zM318.8 551h1v1h-1zM315.6 551.8h1v1h-1zM309.8 551.9h1v1h-1zM312.4 553.8h1v1h-1zM312.5 554.9h1v1h-1zM308.5 554.9h1v1h-1zM330.1 558.8h1v1h-1zM330.2 548.6h1v1h-1zM342.6 553.2h1v1h-1zM333.6 555.3h1v1h-1zM341.3 547.5h1v1h-1zM338.6 548h1v1h-1zM326.9 559.2h1v1h-1zM342.4 562.4h1v1h-1zM341.7 554.1h1v1h-1zM330.3 547.5h1v1h-1zM341.9 550.1h1v1h-1zM341.3 547.6h1v1h-1zM339.7 547.5h1v1h-1zM328.8 547.5h1v1h-1zM332.6 549.1h1v1h-1zM337.5 551.9h1v1h-1zM333.7 550h1v1h-1zM333.4 548.9h1v1h-1zM331 546.9h1v1h-1zM330.8 550.7h1v1h-1zM339.9 550.5h1v1h-1zM333.9 549.1h1v1h-1zM370.3 551h1v1h-1zM374.1 542.8h1v1h-1zM370.8 549.3h1v1h-1zM372.8 553.9h1v1h-1zM374.6 536.1h1v1h-1zM374.5 543h1v1h-1zM375 543.4h1v1h-1zM367.3 550.6h1v1h-1zM371.8 551.7h1v1h-1zM376.3 543.6h1v1h-1zM375.1 542.7h1v1h-1zM374.2 552.1h1v1h-1zM375 558.8h1v1h-1zM372.4 547.8h1v1h-1zM374.7 541.7h1v1h-1zM375.4 532.5h1v1h-1zM372.5 560.8h1v1h-1zM369.3 555.8h1v1h-1zM376.1 532.4h1v1h-1zM370.5 553.8h1v1h-1zM389.8 535.5h1v1h-1zM390.2 536.3h1v1h-1zM395.7 559.8h1v1h-1zM393.9 558.1h1v1h-1zM395.5 533.3h1v1h-1zM396 560h1v1h-1zM393.3 556.8h1v1h-1zM394.6 562.3h1v1h-1zM395 531h1v1h-1zM394.9 562.5h1v1h-1z" fill="#fff"/>
<path d="M303.7 554h1.7v1.7h-1.7zM322.7 551h1.7v1.7h-1.7zM322.6 561.6h1.7v1.7h-1.7zM322.6 551.3h1.7v1.7h-1.7zM305 558h1.7v1.7h-1.7zM304.9 559.4h1.7v1.7h-1.7zM322.4 560.2h1.7v1.7h-1.7zM325.5 558.9h1.7v1.7h-1.7zM322.6 553.2h1.7v1.7h-1.7zM321.3 548.9h1.7v1.7h-1.7zM315.9 549.6h1.7v1.7h-1.7zM317.5 549.3h1.7v1.7h-1.7zM312.3 544.4h1.7v1.7h-1.7zM319.4 550.3h1.7v1.7h-1.7zM308 549.9h1.7v1.7h-1.7zM318.3 545h1.7v1.7h-1.7zM317.4 543.1h1.7v1.7h-1.7zM309 547.3h1.7v1.7h-1.7zM305 548.7h1.7v1.7h-1.7zM315.4 549.5h1.7v1.7h-1.7zM318.8 549.9h1.7v1.7h-1.7zM312.6 544.9h1.7v1.7h-1.7zM308.8 545.2h1.7v1.7h-1.7zM311.9 550.7h1.7v1.7h-1.7zM306.8 545.3h1.7v1.7h-1.7zM319.3 545h1.7v1.7h-1.7zM320 545.2h1.7v1.7h-1.7zM318.5 542.7h1.7v1.7h-1.7zM315.3 546.9h1.7v1.7h-1.7zM307.8 549.7h1.7v1.7h-1.7zM306.4 550.4h1.7v1.7h-1.7zM311.8 549.3h1.7v1.7h-1.7zM314.7 542.8h1.7v1.7h-1.7zM309.6 541.8h1.7v1.7h-1.7zM319.5 550h1.7v1.7h-1.7zM315.2 550h1.7v1.7h-1.7zM306.1 549.8h1.7v1.7h-1.7zM308.5 550.8h1.7v1.7h-1.7zM305.4 543.1h1.7v1.7h-1.7zM320 542.3h1.7v1.7h-1.7zM306.2 550.7h1.7v1.7h-1.7zM319.9 548.5h1.7v1.7h-1.7zM311 544.7h1.7v1.7h-1.7zM314.2 548.9h1.7v1.7h-1.7zM307.6 550.4h1.7v1.7h-1.7zM317.3 541.6h1.7v1.7h-1.7zM305.6 549.8h1.7v1.7h-1.7zM314.1 549.5h1.7v1.7h-1.7zM313.5 547.2h1.7v1.7h-1.7zM309.5 550.4h1.7v1.7h-1.7zM312.2 543.1h1.7v1.7h-1.7zM307.4 546.8h1.7v1.7h-1.7zM319.1 546.4h1.7v1.7h-1.7zM311 541.2h1.7v1.7h-1.7zM318.5 540.1h1.7v1.7h-1.7zM310.2 547.4h1.7v1.7h-1.7zM312.8 542.6h1.7v1.7h-1.7zM315.7 546.6h1.7v1.7h-1.7zM313.9 541.8h1.7v1.7h-1.7zM311.1 550.4h1.7v1.7h-1.7zM308 549.6h1.7v1.7h-1.7zM306.6 540.4h1.7v1.7h-1.7zM314.6 543.3h1.7v1.7h-1.7zM312.9 547h1.7v1.7h-1.7zM308.9 541.8h1.7v1.7h-1.7zM312.3 548.2h1.7v1.7h-1.7zM317.9 542.2h1.7v1.7h-1.7zM322.3 547.4h1.7v1.7h-1.7zM312.3 542.8h1.7v1.7h-1.7zM312.3 549.9h1.7v1.7h-1.7zM313.3 549.2h1.7v1.7h-1.7zM309.4 543.6h1.7v1.7h-1.7zM311 545.7h1.7v1.7h-1.7zM310.2 550.4h1.7v1.7h-1.7zM318.5 543.6h1.7v1.7h-1.7zM317.2 545.9h1.7v1.7h-1.7zM308 547.2h1.7v1.7h-1.7zM319.4 543.5h1.7v1.7h-1.7zM315.2 545.6h1.7v1.7h-1.7zM307.9 550.7h1.7v1.7h-1.7zM319.7 550.8h1.7v1.7h-1.7zM309.4 548.3h1.7v1.7h-1.7zM317.1 544.7h1.7v1.7h-1.7zM320 541.2h1.7v1.7h-1.7zM309.7 549.6h1.7v1.7h-1.7zM307.1 548.9h1.7v1.7h-1.7zM306.7 540.7h1.7v1.7h-1.7zM315 547.3h1.7v1.7h-1.7zM305.9 541.5h1.7v1.7h-1.7zM309.2 543.7h1.7v1.7h-1.7zM308.5 549.4h1.7v1.7h-1.7zM307.3 546.8h1.7v1.7h-1.7zM309.9 546.4h1.7v1.7h-1.7zM317.4 549.8h1.7v1.7h-1.7zM307.2 547h1.7v1.7h-1.7zM311.9 547.8h1.7v1.7h-1.7zM311.4 550.2h1.7v1.7h-1.7zM307.1 544.3h1.7v1.7h-1.7zM316 544.9h1.7v1.7h-1.7zM312.1 547.7h1.7v1.7h-1.7zM309.9 538.1h1.7v1.7h-1.7zM317.3 536.3h1.7v1.7h-1.7zM314.1 544.6h1.7v1.7h-1.7zM317.6 543.5h1.7v1.7h-1.7zM321.3 551h1.7v1.7h-1.7zM319.9 543h1.7v1.7h-1.7zM319.1 538.1h1.7v1.7h-1.7zM312.4 537.6h1.7v1.7h-1.7zM320.9 543.8h1.7v1.7h-1.7zM308.5 540.2h1.7v1.7h-1.7zM310.6 538.6h1.7v1.7h-1.7zM313.1 544.5h1.7v1.7h-1.7zM306.3 539h1.7v1.7h-1.7zM306.6 543.7h1.7v1.7h-1.7zM324.5 561.6h1.7v1.7h-1.7zM343.6 549.8h1.7v1.7h-1.7zM344.1 552.2h1.7v1.7h-1.7zM344.2 558.4h1.7v1.7h-1.7zM343.6 559.5h1.7v1.7h-1.7zM325.7 547.6h1.7v1.7h-1.7zM325 559.1h1.7v1.7h-1.7zM325.2 555.7h1.7v1.7h-1.7zM324.9 558.1h1.7v1.7h-1.7zM325.6 559.7h1.7v1.7h-1.7zM325.6 551.7h1.7v1.7h-1.7zM344.2 554.7h1.7v1.7h-1.7zM343.2 546h1.7v1.7h-1.7zM328.7 546h1.7v1.7h-1.7zM343.6 537.6h1.7v1.7h-1.7zM331.8 544h1.7v1.7h-1.7zM340.5 539.7h1.7v1.7h-1.7zM341.8 545.2h1.7v1.7h-1.7zM329.7 543.6h1.7v1.7h-1.7zM342.5 542.4h1.7v1.7h-1.7zM341.4 546.5h1.7v1.7h-1.7zM334.7 537.9h1.7v1.7h-1.7zM335.8 539.9h1.7v1.7h-1.7zM340.2 544.4h1.7v1.7h-1.7zM338 541.3h1.7v1.7h-1.7zM333.4 543.5h1.7v1.7h-1.7zM340.2 538.5h1.7v1.7h-1.7zM343.5 545.1h1.7v1.7h-1.7zM337.8 543.2h1.7v1.7h-1.7zM341 546.2h1.7v1.7h-1.7zM333.9 546.1h1.7v1.7h-1.7zM340.1 541.1h1.7v1.7h-1.7zM325.5 547h1.7v1.7h-1.7zM328 542.7h1.7v1.7h-1.7zM339.6 545.4h1.7v1.7h-1.7zM326.9 542.7h1.7v1.7h-1.7zM336.6 544.5h1.7v1.7h-1.7zM330.4 545.3h1.7v1.7h-1.7zM329.7 539.6h1.7v1.7h-1.7zM332.4 541h1.7v1.7h-1.7zM335.4 546.3h1.7v1.7h-1.7zM330.5 541.6h1.7v1.7h-1.7zM341.2 537.9h1.7v1.7h-1.7zM328.2 546.1h1.7v1.7h-1.7zM327.2 546.6h1.7v1.7h-1.7zM332.5 541h1.7v1.7h-1.7zM342.2 542.7h1.7v1.7h-1.7zM328.1 545.1h1.7v1.7h-1.7zM328 545.9h1.7v1.7h-1.7zM335.9 543.7h1.7v1.7h-1.7zM328.5 545.9h1.7v1.7h-1.7zM341.8 542.2h1.7v1.7h-1.7zM336.4 545.6h1.7v1.7h-1.7zM330.9 540.4h1.7v1.7h-1.7zM325.7 541.9h1.7v1.7h-1.7zM342.9 542.1h1.7v1.7h-1.7zM326.3 547.3h1.7v1.7h-1.7zM339.8 546.6h1.7v1.7h-1.7zM333.1 541.9h1.7v1.7h-1.7zM337.8 545.9h1.7v1.7h-1.7zM337.9 538h1.7v1.7h-1.7zM334 544.9h1.7v1.7h-1.7zM337.9 538.7h1.7v1.7h-1.7zM338 537.8h1.7v1.7h-1.7zM339.7 537.3h1.7v1.7h-1.7zM330 541.6h1.7v1.7h-1.7zM329.2 547h1.7v1.7h-1.7zM331.6 537.5h1.7v1.7h-1.7zM330.8 545.7h1.7v1.7h-1.7zM342.4 536.9h1.7v1.7h-1.7zM339.3 545.3h1.7v1.7h-1.7zM340.5 547.2h1.7v1.7h-1.7zM325.6 547.2h1.7v1.7h-1.7zM331.5 546.2h1.7v1.7h-1.7zM341.1 544.4h1.7v1.7h-1.7zM341 543.9h1.7v1.7h-1.7zM332.2 545.4h1.7v1.7h-1.7zM326.3 544.3h1.7v1.7h-1.7zM342.8 537h1.7v1.7h-1.7zM342.4 547.1h1.7v1.7h-1.7zM333.5 539.3h1.7v1.7h-1.7zM328.2 547.2h1.7v1.7h-1.7zM329.2 547.1h1.7v1.7h-1.7zM338.9 541.1h1.7v1.7h-1.7zM343.5 547.2h1.7v1.7h-1.7zM338.3 539.9h1.7v1.7h-1.7zM328.7 547.1h1.7v1.7h-1.7zM343.3 539.9h1.7v1.7h-1.7zM326.7 546.6h1.7v1.7h-1.7zM337.5 546.7h1.7v1.7h-1.7zM333.4 546.8h1.7v1.7h-1.7zM327.1 543.9h1.7v1.7h-1.7zM335.3 539.1h1.7v1.7h-1.7zM325.5 545.3h1.7v1.7h-1.7zM326.7 543.2h1.7v1.7h-1.7zM328.4 545.5h1.7v1.7h-1.7zM343.1 541.9h1.7v1.7h-1.7zM337.6 542.5h1.7v1.7h-1.7zM329.1 541.4h1.7v1.7h-1.7zM343.2 547.1h1.7v1.7h-1.7zM340.8 545.4h1.7v1.7h-1.7zM329.1 541.8h1.7v1.7h-1.7zM341 546.7h1.7v1.7h-1.7zM329 543.8h1.7v1.7h-1.7zM329.1 543.7h1.7v1.7h-1.7zM343.5 547.3h1.7v1.7h-1.7zM333.2 546.5h1.7v1.7h-1.7zM328.4 542.7h1.7v1.7h-1.7zM342.7 544.1h1.7v1.7h-1.7zM335.6 541.2h1.7v1.7h-1.7zM341.1 537.1h1.7v1.7h-1.7zM331.5 546.6h1.7v1.7h-1.7zM329.4 543.4h1.7v1.7h-1.7zM335.8 536.2h1.7v1.7h-1.7zM334.3 541.1h1.7v1.7h-1.7zM331.1 533.9h1.7v1.7h-1.7zM340.8 540.6h1.7v1.7h-1.7zM340.7 534.7h1.7v1.7h-1.7zM330 537.9h1.7v1.7h-1.7zM341.6 532.4h1.7v1.7h-1.7zM326.6 533.7h1.7v1.7h-1.7zM333.8 533.2h1.7v1.7h-1.7zM328.8 537.5h1.7v1.7h-1.7zM334.4 536.7h1.7v1.7h-1.7zM327.3 540.3h1.7v1.7h-1.7zM331.6 536.3h1.7v1.7h-1.7zM336 537.9h1.7v1.7h-1.7zM362.1 550h1.7v1.7h-1.7zM358 553.7h1.7v1.7h-1.7zM350.1 557.4h1.7v1.7h-1.7zM354.8 549.1h1.7v1.7h-1.7zM362.7 556.7h1.7v1.7h-1.7zM352.5 544.1h1.7v1.7h-1.7zM355.8 549h1.7v1.7h-1.7zM355 550.7h1.7v1.7h-1.7zM346.3 553.3h1.7v1.7h-1.7zM350 542.9h1.7v1.7h-1.7zM353.7 549.4h1.7v1.7h-1.7zM355.2 545.5h1.7v1.7h-1.7zM361.4 545.8h1.7v1.7h-1.7zM350.5 551.9h1.7v1.7h-1.7zM356.7 547.5h1.7v1.7h-1.7zM356.6 552.5h1.7v1.7h-1.7zM351.6 555.7h1.7v1.7h-1.7zM349 550.7h1.7v1.7h-1.7zM358.1 551.5h1.7v1.7h-1.7zM350.5 544.7h1.7v1.7h-1.7zM363 552.5h1.7v1.7h-1.7zM357.7 555.6h1.7v1.7h-1.7zM357.2 550.1h1.7v1.7h-1.7zM351.7 546h1.7v1.7h-1.7zM362.1 556.4h1.7v1.7h-1.7zM348.9 553.4h1.7v1.7h-1.7zM357.5 546.5h1.7v1.7h-1.7zM358 554.8h1.7v1.7h-1.7zM353 540.7h1.7v1.7h-1.7zM359.5 549.7h1.7v1.7h-1.7zM357.7 551.7h1.7v1.7h-1.7zM348.1 547.5h1.7v1.7h-1.7zM364 550.9h1.7v1.7h-1.7zM355.8 547.3h1.7v1.7h-1.7zM348.3 548.4h1.7v1.7h-1.7zM357.2 547.2h1.7v1.7h-1.7zM350.8 553.1h1.7v1.7h-1.7zM346.7 549.6h1.7v1.7h-1.7zM349.7 548.8h1.7v1.7h-1.7zM359.7 554.8h1.7v1.7h-1.7zM348.6 551.2h1.7v1.7h-1.7zM358.4 550.2h1.7v1.7h-1.7zM351.7 547.3h1.7v1.7h-1.7zM352.6 550.8h1.7v1.7h-1.7zM352.9 549.6h1.7v1.7h-1.7zM352.2 550.6h1.7v1.7h-1.7zM359.5 553.8h1.7v1.7h-1.7zM363.6 551.1h1.7v1.7h-1.7zM362.5 550.4h1.7v1.7h-1.7zM354.3 552.5h1.7v1.7h-1.7zM349.8 548.7h1.7v1.7h-1.7zM358.9 549.7h1.7v1.7h-1.7zM353.2 558.3h1.7v1.7h-1.7zM349.4 547h1.7v1.7h-1.7zM358.1 558.2h1.7v1.7h-1.7zM360.4 546.6h1.7v1.7h-1.7zM353.4 542.4h1.7v1.7h-1.7zM347.2 551.5h1.7v1.7h-1.7zM355.3 554.2h1.7v1.7h-1.7zM361.4 547.9h1.7v1.7h-1.7zM356.4 549.6h1.7v1.7h-1.7zM356.1 551.6h1.7v1.7h-1.7zM355.2 548.9h1.7v1.7h-1.7zM354.4 549.6h1.7v1.7h-1.7zM354.1 552.5h1.7v1.7h-1.7zM353 552.9h1.7v1.7h-1.7zM355.8 549.8h1.7v1.7h-1.7zM355.5 550.3h1.7v1.7h-1.7zM363 548.5h1.7v1.7h-1.7zM346.7 554.5h1.7v1.7h-1.7zM355.4 551h1.7v1.7h-1.7zM354.6 552.3h1.7v1.7h-1.7zM357.1 549.9h1.7v1.7h-1.7zM357.4 554.7h1.7v1.7h-1.7zM347.2 546.8h1.7v1.7h-1.7zM356.9 547.3h1.7v1.7h-1.7zM356.1 550h1.7v1.7h-1.7zM359 550.9h1.7v1.7h-1.7zM353.2 548.2h1.7v1.7h-1.7zM357.4 553.8h1.7v1.7h-1.7zM354.7 551.8h1.7v1.7h-1.7zM360.5 545.5h1.7v1.7h-1.7zM363.8 551.2h1.7v1.7h-1.7zM354.5 546.3h1.7v1.7h-1.7zM350.8 553.2h1.7v1.7h-1.7zM351.9 552.4h1.7v1.7h-1.7zM348.2 554.8h1.7v1.7h-1.7zM359.9 555.6h1.7v1.7h-1.7zM348.8 554.7h1.7v1.7h-1.7zM348.4 549.9h1.7v1.7h-1.7zM362 546.6h1.7v1.7h-1.7zM350.8 546.9h1.7v1.7h-1.7zM356.2 553.5h1.7v1.7h-1.7zM357.7 551h1.7v1.7h-1.7zM356.9 554.5h1.7v1.7h-1.7zM358.1 546.3h1.7v1.7h-1.7zM355.9 554.6h1.7v1.7h-1.7zM358.5 547.7h1.7v1.7h-1.7zM351.6 554.3h1.7v1.7h-1.7zM350.1 547.9h1.7v1.7h-1.7zM363.5 548.6h1.7v1.7h-1.7zM352.1 550h1.7v1.7h-1.7zM349.5 544.1h1.7v1.7h-1.7zM363.9 554h1.7v1.7h-1.7zM357.2 552.7h1.7v1.7h-1.7zM348.1 548.9h1.7v1.7h-1.7zM354.9 549.6h1.7v1.7h-1.7zM358.2 554.3h1.7v1.7h-1.7zM354.1 551.8h1.7v1.7h-1.7zM350.7 549.1h1.7v1.7h-1.7zM369.8 543.5h1.7v1.7h-1.7zM377.5 547.9h1.7v1.7h-1.7zM367.2 548.4h1.7v1.7h-1.7zM366.7 562h1.7v1.7h-1.7zM376.2 560.7h1.7v1.7h-1.7zM376.9 532.1h1.7v1.7h-1.7zM372.8 536.6h1.7v1.7h-1.7zM373.1 536.4h1.7v1.7h-1.7zM365.5 555.6h1.7v1.7h-1.7zM378.1 540.3h1.7v1.7h-1.7zM366.7 551.7h1.7v1.7h-1.7zM377.6 544.6h1.7v1.7h-1.7zM373.8 533.2h1.7v1.7h-1.7zM366.8 548.8h1.7v1.7h-1.7zM365.7 562h1.7v1.7h-1.7zM364.9 558.8h1.7v1.7h-1.7zM377.5 558.9h1.7v1.7h-1.7zM368.3 547.6h1.7v1.7h-1.7zM377.1 549.4h1.7v1.7h-1.7zM376.3 560.4h1.7v1.7h-1.7zM376.7 545.1h1.7v1.7h-1.7zM378.4 535.3h1.7v1.7h-1.7zM376.1 548.6h1.7v1.7h-1.7zM375.9 551h1.7v1.7h-1.7zM375.9 530.4h1.7v1.7h-1.7zM369.1 542.7h1.7v1.7h-1.7zM384.3 537h1.7v1.7h-1.7zM368.7 544.5h1.7v1.7h-1.7zM384.3 552.2h1.7v1.7h-1.7zM382.3 540.6h1.7v1.7h-1.7zM376.6 546.3h1.7v1.7h-1.7zM374.5 534.1h1.7v1.7h-1.7zM366.9 544.6h1.7v1.7h-1.7zM382.6 549.6h1.7v1.7h-1.7zM370.7 546.8h1.7v1.7h-1.7zM381.2 537.7h1.7v1.7h-1.7zM379.6 549.2h1.7v1.7h-1.7zM373.2 533h1.7v1.7h-1.7zM371.4 548.5h1.7v1.7h-1.7zM372.1 543.3h1.7v1.7h-1.7zM372.4 539.6h1.7v1.7h-1.7zM375.7 543.3h1.7v1.7h-1.7zM375.8 544.7h1.7v1.7h-1.7zM370.4 536.2h1.7v1.7h-1.7zM380.1 532.2h1.7v1.7h-1.7zM372.3 534.8h1.7v1.7h-1.7zM368.4 527.6h1.7v1.7h-1.7zM369.1 540.2h1.7v1.7h-1.7zM372.4 538.8h1.7v1.7h-1.7zM373.8 535.2h1.7v1.7h-1.7zM380.3 545.3h1.7v1.7h-1.7zM382.4 540.3h1.7v1.7h-1.7zM372.6 542h1.7v1.7h-1.7zM380.1 541.1h1.7v1.7h-1.7zM384.3 538.6h1.7v1.7h-1.7zM375 555.1h1.7v1.7h-1.7zM370.4 535.3h1.7v1.7h-1.7zM371.2 547h1.7v1.7h-1.7zM381 536.2h1.7v1.7h-1.7zM379.9 536.3h1.7v1.7h-1.7zM367.3 538.9h1.7v1.7h-1.7zM378.4 531.7h1.7v1.7h-1.7zM370.2 546.5h1.7v1.7h-1.7zM384.3 538.7h1.7v1.7h-1.7zM367 527.2h1.7v1.7h-1.7zM368.1 541.3h1.7v1.7h-1.7zM377.4 549.2h1.7v1.7h-1.7zM381.9 529.5h1.7v1.7h-1.7zM371.8 534h1.7v1.7h-1.7zM380.2 537.1h1.7v1.7h-1.7zM367.4 535.2h1.7v1.7h-1.7zM373.5 545h1.7v1.7h-1.7zM369.7 548.1h1.7v1.7h-1.7zM372.1 534h1.7v1.7h-1.7zM383.1 538.3h1.7v1.7h-1.7zM375.9 531.8h1.7v1.7h-1.7zM378.3 551.9h1.7v1.7h-1.7zM376.6 548.7h1.7v1.7h-1.7zM374.3 535h1.7v1.7h-1.7zM384.5 560.2h1.7v1.7h-1.7zM379.9 537.7h1.7v1.7h-1.7zM368 538.9h1.7v1.7h-1.7zM370.7 549.7h1.7v1.7h-1.7zM379.9 559h1.7v1.7h-1.7zM383.2 543.7h1.7v1.7h-1.7zM367.7 542.4h1.7v1.7h-1.7zM375.4 551.2h1.7v1.7h-1.7zM383 552.4h1.7v1.7h-1.7zM376.4 527.9h1.7v1.7h-1.7zM376.1 541.6h1.7v1.7h-1.7zM374.7 558h1.7v1.7h-1.7zM377 528.4h1.7v1.7h-1.7zM384.5 548.4h1.7v1.7h-1.7zM376.6 534.6h1.7v1.7h-1.7zM372.5 531.4h1.7v1.7h-1.7zM382.3 535.5h1.7v1.7h-1.7zM369.9 535.3h1.7v1.7h-1.7zM370.2 522.5h1.7v1.7h-1.7zM376.6 559.5h1.7v1.7h-1.7zM368.9 551.8h1.7v1.7h-1.7zM371.5 543h1.7v1.7h-1.7zM383.8 527.7h1.7v1.7h-1.7zM375.7 549.9h1.7v1.7h-1.7zM374.4 546.9h1.7v1.7h-1.7zM377.2 543.7h1.7v1.7h-1.7zM378.5 540.5h1.7v1.7h-1.7zM367.5 543.9h1.7v1.7h-1.7zM379.2 537.8h1.7v1.7h-1.7zM378.1 544.8h1.7v1.7h-1.7zM374.3 541h1.7v1.7h-1.7zM369.9 534.1h1.7v1.7h-1.7zM379.4 546.3h1.7v1.7h-1.7zM384.2 541.8h1.7v1.7h-1.7zM376 552.5h1.7v1.7h-1.7zM369.3 546.1h1.7v1.7h-1.7zM368.6 544.7h1.7v1.7h-1.7zM373.5 557.4h1.7v1.7h-1.7zM367 533.7h1.7v1.7h-1.7zM382.4 534h1.7v1.7h-1.7zM370.2 528.1h1.7v1.7h-1.7zM376.2 537h1.7v1.7h-1.7zM382.4 548.8h1.7v1.7h-1.7zM374.4 535.5h1.7v1.7h-1.7zM369.7 532.1h1.7v1.7h-1.7zM367 538.7h1.7v1.7h-1.7zM397 533.6h1.7v1.7h-1.7zM389.9 548.3h1.7v1.7h-1.7zM395.8 534.4h1.7v1.7h-1.7zM391.7 559.4h1.7v1.7h-1.7zM399.1 523.8h1.7v1.7h-1.7zM396.6 530.2h1.7v1.7h-1.7zM398.3 539.5h1.7v1.7h-1.7zM387.4 543.6h1.7v1.7h-1.7zM387.1 539.1h1.7v1.7h-1.7zM385.5 535.5h1.7v1.7h-1.7zM385.9 539.3h1.7v1.7h-1.7zM387.5 533.2h1.7v1.7h-1.7zM397.3 555.8h1.7v1.7h-1.7zM397.4 560.4h1.7v1.7h-1.7zM388.3 545.1h1.7v1.7h-1.7zM397 556.6h1.7v1.7h-1.7zM388 540h1.7v1.7h-1.7zM391.1 555.6h1.7v1.7h-1.7zM396.7 538.2h1.7v1.7h-1.7zM397.5 547h1.7v1.7h-1.7zM386.9 537.2h1.7v1.7h-1.7zM396.5 525.6h1.7v1.7h-1.7zM396.1 526.9h1.7v1.7h-1.7zM396.8 549.7h1.7v1.7h-1.7zM390.7 550.7h1.7v1.7h-1.7zM393.1 557.8h1.7v1.7h-1.7zM396 527.8h1.7v1.7h-1.7zM391.6 519.5h1.7v1.7h-1.7zM396.7 527.7h1.7v1.7h-1.7zM397.8 558.4h1.7v1.7h-1.7zM387.1 531.4h1.7v1.7h-1.7zM395.7 542.4h1.7v1.7h-1.7zM397.5 538.4h1.7v1.7h-1.7zM387.1 539.8h1.7v1.7h-1.7zM386.3 540.7h1.7v1.7h-1.7zM395 518.1h1.7v1.7h-1.7zM392.9 518.2h1.7v1.7h-1.7zM388.2 542.1h1.7v1.7h-1.7zM393.3 549.5h1.7v1.7h-1.7zM402.4 552.5h1.7v1.7h-1.7zM399 551.2h1.7v1.7h-1.7zM399.4 551.7h1.7v1.7h-1.7zM391 522h1.7v1.7h-1.7zM392.3 540.6h1.7v1.7h-1.7zM399.6 521.7h1.7v1.7h-1.7zM397.5 552.1h1.7v1.7h-1.7zM399.7 532.6h1.7v1.7h-1.7zM398.2 542.9h1.7v1.7h-1.7zM402.5 554h1.7v1.7h-1.7zM397.5 537.4h1.7v1.7h-1.7zM404.3 529.3h1.7v1.7h-1.7zM391.8 542.9h1.7v1.7h-1.7zM398.4 543h1.7v1.7h-1.7zM388.5 521.9h1.7v1.7h-1.7zM395.8 551.3h1.7v1.7h-1.7zM390.2 555.6h1.7v1.7h-1.7zM404.2 551.3h1.7v1.7h-1.7zM397.8 523.6h1.7v1.7h-1.7zM401.6 535.8h1.7v1.7h-1.7zM392.6 532.9h1.7v1.7h-1.7zM402.3 549h1.7v1.7h-1.7zM391.6 542h1.7v1.7h-1.7z" fill="#000"/>
<path d="M377.6 544.4h1.1v1.1h-1.1zM376.8 539.6h1.1v1.1h-1.1zM381.9 556.4h1.1v1.1h-1.1zM381.9 560.1h1.1v1.1h-1.1zM376.4 555.2h1.1v1.1h-1.1zM404.5 536.4h1.1v1.1h-1.1zM398.7 536.7h1.1v1.1h-1.1zM397.2 530.7h1.1v1.1h-1.1zM395.2 558.2h1.1v1.1h-1.1zM401.6 537.4h1.1v1.1h-1.1zM401.1 542.3h1.1v1.1h-1.1zM396.7 554.6h1.1v1.1h-1.1zM400 537h1.1v1.1h-1.1zM404.2 540.8h1.1v1.1h-1.1zM402.6 542.2h1.1v1.1h-1.1zM397.8 560.3h1.1v1.1h-1.1zM395.9 560.6h1.1v1.1h-1.1z" fill="#000"/>
<path d="M335.3 552.8h1.3v1.3h-1.3zM336.7 554.9h1.3v1.3h-1.3zM336.1 552.3h1.3v1.3h-1.3z" fill="#2727F0"/>
<rect x="305.6" y="562.6" width="18" height="2.5" fill="#000"/>
<rect x="326.2" y="562.6" width="18" height="2.5" fill="#000"/>
<rect x="346.9" y="562.6" width="18" height="2.5" fill="#000"/>
<rect x="367.5" y="562.6" width="18" height="2.5" fill="#000"/>
<rect x="388.2" y="562.6" width="18" height="2.5" fill="#000"/>
<path d="M302.4 514.7V566H409.7" fill="none" stroke="#3a3a3a" stroke-width="1"/>
<path d="M302.4 563.9h-2" stroke="#3a3a3a" stroke-width="0.9"/>
<text x="298.5" y="567" font-size="7.2" font-weight="normal" fill="#111" text-anchor="end">0</text>
<path d="M302.4 550.1h-2" stroke="#3a3a3a" stroke-width="0.9"/>
<text x="298.5" y="553.2" font-size="7.2" font-weight="normal" fill="#111" text-anchor="end">2</text>
<path d="M302.4 536.3h-2" stroke="#3a3a3a" stroke-width="0.9"/>
<text x="298.5" y="539.4" font-size="7.2" font-weight="normal" fill="#111" text-anchor="end">4</text>
<path d="M302.4 522.5h-2" stroke="#3a3a3a" stroke-width="0.9"/>
<text x="298.5" y="525.6" font-size="7.2" font-weight="normal" fill="#111" text-anchor="end">6</text>
<path d="M314.6 566v2" stroke="#3a3a3a" stroke-width="0.9"/>
<text x="0" y="0" font-size="7.1" font-weight="normal" fill="#111" text-anchor="end" stroke="#111" stroke-width="0.12" transform="translate(319.2 573.5) rotate(-45)">Tenocyte A</text>
<path d="M335.2 566v2" stroke="#3a3a3a" stroke-width="0.9"/>
<text x="0" y="0" font-size="7.1" font-weight="normal" fill="#111" text-anchor="end" stroke="#111" stroke-width="0.12" transform="translate(339.8 573.5) rotate(-45)">Tenocyte B</text>
<path d="M355.9 566v2" stroke="#3a3a3a" stroke-width="0.9"/>
<text x="0" y="0" font-size="7.1" font-weight="normal" fill="#111" text-anchor="end" stroke="#111" stroke-width="0.12" transform="translate(360.5 573.5) rotate(-45)">Tenocyte C</text>
<path d="M376.5 566v2" stroke="#3a3a3a" stroke-width="0.9"/>
<text x="0" y="0" font-size="7.1" font-weight="normal" fill="#111" text-anchor="end" stroke="#111" stroke-width="0.12" transform="translate(381.1 573.5) rotate(-45)">Tenocyte D</text>
<path d="M397.2 566v2" stroke="#3a3a3a" stroke-width="0.9"/>
<text x="0" y="0" font-size="7.1" font-weight="normal" fill="#111" text-anchor="end" stroke="#111" stroke-width="0.12" transform="translate(401.8 573.5) rotate(-45)">Tenocyte E</text>
<text x="356.1" y="607.4" font-size="8" font-weight="normal" fill="#111" text-anchor="middle" stroke="#111" stroke-width="0.1">Identity</text>
<text x="0" y="0" font-size="7.8" font-weight="normal" fill="#111" text-anchor="middle" stroke="#111" stroke-width="0.1" transform="translate(290.3 541.1) rotate(-90)">Expression Level</text>
<text x="490.5" y="510.8" font-size="8.3" font-weight="bold" fill="#111" text-anchor="middle" stroke="#111" stroke-width="0.25" textLength="17.3" lengthAdjust="spacingAndGlyphs">CILP</text>
<path d="M449 563.9V547.9" stroke="#8c8c8c" stroke-width="1"/>
<path d="M469.6 563.9V554.7" stroke="#8c8c8c" stroke-width="1"/>
<path d="M490.3 563.9V540.4" stroke="#8c8c8c" stroke-width="1"/>
<path d="M510.9 563.9V539.5" stroke="#8c8c8c" stroke-width="1"/>
<path d="M531.6 563.9V516.9" stroke="#8c8c8c" stroke-width="1"/>
<path d="M510 560.1 L506.9 561.2 L504.6 562.4 L511.4 562.4 L511.8 561.2 L511 560.1Z" fill="#000"/>
<path d="M510.4 539.5 L510.4 559.7 L511.4 559.7 L511.4 539.5Z" fill="#000"/>
<path d="M510.9 560.1 L510.9 563.5 L519.5 563.5 L511.4 560.1Z" fill="#2727F0"/>
<path d="M510.9 543.7 L510.9 553.8 L511.8 553.8 L511.8 543.7Z" fill="#2727F0"/>
<path d="M527.9 521.9 L527.9 523 L526.7 524.1 L526.6 525.3 L525.8 526.4 L525.1 527.5 L524.6 528.6 L524.2 529.8 L524.2 530.9 L523.9 532 L523.4 533.1 L522.8 534.3 L522.5 535.4 L522.5 536.5 L522 537.6 L522.1 538.8 L522.3 539.9 L522.4 541 L522.1 542.1 L522.6 543.3 L522.3 544.4 L522.8 545.5 L522.4 546.6 L523.3 547.7 L523.6 548.9 L524.4 550 L524 551.1 L525 552.2 L525.1 553.4 L525.9 554.5 L526.6 555.6 L526.5 556.7 L527 557.9 L527.3 559 L527.6 560.1 L527.5 561.2 L528.2 562.4 L532.5 562.4 L531.9 561.2 L531.8 560.1 L531.9 559 L532.1 557.9 L531.9 556.7 L532.4 555.6 L532.1 554.5 L532.7 553.4 L532.8 552.2 L532.7 551.1 L532.9 550 L532.9 548.9 L533.7 547.7 L534.1 546.6 L534 545.5 L534.2 544.4 L533.6 543.3 L532.8 542.1 L532.7 541 L532.1 539.9 L532 538.8 L532.1 537.6 L531.9 536.5 L532.3 535.4 L532.1 534.3 L531.9 533.1 L532.4 532 L531.9 530.9 L532.3 529.8 L532.5 528.6 L532.2 527.5 L531.8 526.4 L532.1 525.3 L531.7 524.1 L532.4 523 L532 521.9 L530.1 521.8Z" fill="#000"/>
<path d="M531.6 516.9 L531.6 520.2 L531.6 524.4 L531.6 530.3 L531.6 534.5 L531.6 538.7 L531.6 542.1 L531.6 545.4 L531.6 548.8 L531.6 552.1 L531.6 555.5 L530.6 559.7 L530.1 563.5 L537.1 563.5 L536.6 559.7 L535.1 555.5 L534.1 552.1 L535.1 548.8 L537.6 545.4 L539.6 542.1 L540.1 538.7 L539.4 534.5 L538.1 530.3 L536.1 524.4 L534.1 520.2 L532.1 516.9Z" fill="#2727F0"/>
<path d="M527.8 548.9h1v1h-1zM527.8 559.3h1v1h-1zM526.2 529.9h1v1h-1zM526.6 533.8h1v1h-1zM525.5 533.4h1v1h-1zM529.8 559.4h1v1h-1zM526.4 552.3h1v1h-1zM527.5 543.7h1v1h-1zM529.5 526h1v1h-1zM527.1 544.9h1v1h-1zM523.5 538h1v1h-1zM529 550.6h1v1h-1zM529.4 523.9h1v1h-1zM531.1 554.3h1v1h-1zM525.6 529.9h1v1h-1z" fill="#fff"/>
<path d="M442.5 554.9h1.7v1.7h-1.7zM442 547.9h1.7v1.7h-1.7zM444.6 555.9h1.7v1.7h-1.7zM440.4 555h1.7v1.7h-1.7zM453.3 552.8h1.7v1.7h-1.7zM455.2 551.9h1.7v1.7h-1.7zM471.4 557.2h1.7v1.7h-1.7zM474.8 557h1.7v1.7h-1.7zM462.3 558.4h1.7v1.7h-1.7zM494.8 559.3h1.7v1.7h-1.7zM483.7 547.4h1.7v1.7h-1.7zM492.7 550.8h1.7v1.7h-1.7zM492.2 551.7h1.7v1.7h-1.7zM491.1 559.7h1.7v1.7h-1.7zM487.9 540.1h1.7v1.7h-1.7zM490.8 553.4h1.7v1.7h-1.7zM491.7 540h1.7v1.7h-1.7zM488.8 551.8h1.7v1.7h-1.7zM495.2 542.7h1.7v1.7h-1.7zM484.5 546.5h1.7v1.7h-1.7zM485.8 553.1h1.7v1.7h-1.7zM494.9 552.9h1.7v1.7h-1.7zM496.9 550.3h1.7v1.7h-1.7zM496.1 557.8h1.7v1.7h-1.7zM506.3 559.4h1.7v1.7h-1.7zM502.2 561.6h1.7v1.7h-1.7zM510.9 554.8h1.7v1.7h-1.7zM513.3 551h1.7v1.7h-1.7zM503.8 560.7h1.7v1.7h-1.7zM510 556.7h1.7v1.7h-1.7zM509.2 559.2h1.7v1.7h-1.7zM505.8 552h1.7v1.7h-1.7zM513.5 552.6h1.7v1.7h-1.7zM513.3 546.7h1.7v1.7h-1.7zM510.5 549.7h1.7v1.7h-1.7zM507.1 546.2h1.7v1.7h-1.7zM513.7 548.8h1.7v1.7h-1.7zM512.5 545.8h1.7v1.7h-1.7zM514.8 545.4h1.7v1.7h-1.7zM505.2 549.9h1.7v1.7h-1.7zM511.3 557.1h1.7v1.7h-1.7zM512.1 552.5h1.7v1.7h-1.7zM513.3 552.8h1.7v1.7h-1.7zM516.8 546.7h1.7v1.7h-1.7zM518.3 553.2h1.7v1.7h-1.7zM506.2 557.5h1.7v1.7h-1.7zM513.1 559.4h1.7v1.7h-1.7zM501.9 554.6h1.7v1.7h-1.7zM505.4 560.4h1.7v1.7h-1.7zM508.6 550.4h1.7v1.7h-1.7zM511.2 543.2h1.7v1.7h-1.7zM512.1 550.3h1.7v1.7h-1.7zM517.3 545.8h1.7v1.7h-1.7zM514 554.9h1.7v1.7h-1.7zM507 556.2h1.7v1.7h-1.7zM502.8 544.9h1.7v1.7h-1.7zM507 551.4h1.7v1.7h-1.7zM516.3 549.4h1.7v1.7h-1.7zM504.7 545.8h1.7v1.7h-1.7zM507.9 550.3h1.7v1.7h-1.7zM515.7 552.7h1.7v1.7h-1.7zM504.6 548.6h1.7v1.7h-1.7zM513 554.2h1.7v1.7h-1.7zM503.9 550.8h1.7v1.7h-1.7zM502.2 561h1.7v1.7h-1.7zM505.2 549.2h1.7v1.7h-1.7zM513.4 539.6h1.7v1.7h-1.7zM506 544.7h1.7v1.7h-1.7zM510.3 546.7h1.7v1.7h-1.7zM514.4 551.7h1.7v1.7h-1.7zM502.7 551.4h1.7v1.7h-1.7zM505 550.9h1.7v1.7h-1.7zM507 553.8h1.7v1.7h-1.7zM505.3 541.6h1.7v1.7h-1.7zM517.2 547.1h1.7v1.7h-1.7zM515.2 540.7h1.7v1.7h-1.7zM515.2 554.6h1.7v1.7h-1.7zM514.2 546.8h1.7v1.7h-1.7zM502.1 554.6h1.7v1.7h-1.7zM518.7 551.8h1.7v1.7h-1.7zM515.3 555.6h1.7v1.7h-1.7zM511.9 558.4h1.7v1.7h-1.7zM512.4 546.9h1.7v1.7h-1.7zM506.3 545.4h1.7v1.7h-1.7zM513.9 549.4h1.7v1.7h-1.7zM514.9 542.5h1.7v1.7h-1.7zM512.8 553.8h1.7v1.7h-1.7zM511.8 546.9h1.7v1.7h-1.7zM514.8 546h1.7v1.7h-1.7zM507.6 557.5h1.7v1.7h-1.7zM507.3 545.2h1.7v1.7h-1.7zM511.8 546.6h1.7v1.7h-1.7zM503.8 544.3h1.7v1.7h-1.7zM514.4 548.9h1.7v1.7h-1.7zM507.8 549.9h1.7v1.7h-1.7zM502.3 545.1h1.7v1.7h-1.7zM513.7 551.4h1.7v1.7h-1.7zM513.3 557.4h1.7v1.7h-1.7zM509.4 542.1h1.7v1.7h-1.7zM507.5 554.3h1.7v1.7h-1.7zM505.2 557.1h1.7v1.7h-1.7zM502.7 554h1.7v1.7h-1.7zM504.7 555.9h1.7v1.7h-1.7zM510.9 551.9h1.7v1.7h-1.7zM508.7 548.5h1.7v1.7h-1.7zM514.5 552.4h1.7v1.7h-1.7zM503 540.2h1.7v1.7h-1.7zM512.3 560.1h1.7v1.7h-1.7zM505.7 545.4h1.7v1.7h-1.7zM507.5 550h1.7v1.7h-1.7zM506.3 549.3h1.7v1.7h-1.7zM510.5 546.2h1.7v1.7h-1.7zM502.6 545.8h1.7v1.7h-1.7zM515 559h1.7v1.7h-1.7zM502 552.6h1.7v1.7h-1.7zM516.6 553.1h1.7v1.7h-1.7zM507.1 546.6h1.7v1.7h-1.7zM515.5 546.2h1.7v1.7h-1.7zM516.4 554h1.7v1.7h-1.7zM502.9 545.9h1.7v1.7h-1.7zM505.9 555.1h1.7v1.7h-1.7zM504.2 547.8h1.7v1.7h-1.7zM507.4 547.4h1.7v1.7h-1.7zM516.5 544.9h1.7v1.7h-1.7zM506 548.1h1.7v1.7h-1.7zM502.2 561.1h1.7v1.7h-1.7zM514.3 550.2h1.7v1.7h-1.7zM517.1 551h1.7v1.7h-1.7zM515.5 550h1.7v1.7h-1.7zM511.8 540.7h1.7v1.7h-1.7zM502.4 552.3h1.7v1.7h-1.7zM514 552.7h1.7v1.7h-1.7zM502.5 550.5h1.7v1.7h-1.7zM511.7 553.2h1.7v1.7h-1.7zM516.7 551.5h1.7v1.7h-1.7zM511.6 544.6h1.7v1.7h-1.7zM514.2 542.9h1.7v1.7h-1.7zM511.6 543.5h1.7v1.7h-1.7zM513 543.2h1.7v1.7h-1.7zM502.9 551.5h1.7v1.7h-1.7zM509.2 551.2h1.7v1.7h-1.7zM510.6 544.9h1.7v1.7h-1.7zM502.8 542.8h1.7v1.7h-1.7zM506.2 543.7h1.7v1.7h-1.7zM507.5 550.7h1.7v1.7h-1.7zM515.7 550.3h1.7v1.7h-1.7zM521.3 545.5h1.7v1.7h-1.7zM533 544.3h1.7v1.7h-1.7zM523.3 551.9h1.7v1.7h-1.7zM521 544.1h1.7v1.7h-1.7zM530.9 530h1.7v1.7h-1.7zM520.5 547.1h1.7v1.7h-1.7zM527.4 561.6h1.7v1.7h-1.7zM531.6 528.3h1.7v1.7h-1.7zM532.3 549.4h1.7v1.7h-1.7zM532.3 554.5h1.7v1.7h-1.7zM532.1 541.2h1.7v1.7h-1.7zM533.5 542.3h1.7v1.7h-1.7zM532.5 542.9h1.7v1.7h-1.7zM531.7 553.3h1.7v1.7h-1.7zM521.3 538.1h1.7v1.7h-1.7zM533.3 541.4h1.7v1.7h-1.7zM524.7 525.1h1.7v1.7h-1.7zM534 531.6h1.7v1.7h-1.7zM533.2 546.8h1.7v1.7h-1.7zM532.7 532.8h1.7v1.7h-1.7zM534.5 548.6h1.7v1.7h-1.7zM533.6 549.2h1.7v1.7h-1.7zM531 526.8h1.7v1.7h-1.7zM525.5 556.2h1.7v1.7h-1.7zM522.1 535.5h1.7v1.7h-1.7zM525.2 554.6h1.7v1.7h-1.7zM532.2 539.8h1.7v1.7h-1.7zM531 559.1h1.7v1.7h-1.7zM531 538.1h1.7v1.7h-1.7zM522.4 547.6h1.7v1.7h-1.7zM520.3 543.9h1.7v1.7h-1.7zM532.7 554.8h1.7v1.7h-1.7zM525 522.6h1.7v1.7h-1.7zM530 519h1.7v1.7h-1.7zM528.8 519.6h1.7v1.7h-1.7zM539 557.7h1.7v1.7h-1.7zM539.8 551.5h1.7v1.7h-1.7zM539.9 534.7h1.7v1.7h-1.7zM539.8 539.9h1.7v1.7h-1.7zM538.7 557.6h1.7v1.7h-1.7zM539.4 558.4h1.7v1.7h-1.7zM539.3 532.8h1.7v1.7h-1.7zM538.5 544.2h1.7v1.7h-1.7zM539.3 553.8h1.7v1.7h-1.7zM538.7 538.3h1.7v1.7h-1.7zM538.6 553.7h1.7v1.7h-1.7zM538.7 527.4h1.7v1.7h-1.7zM530.3 524.4h1.7v1.7h-1.7zM529 522.1h1.7v1.7h-1.7zM526.9 523.3h1.7v1.7h-1.7zM529.4 525.1h1.7v1.7h-1.7zM530.6 523.1h1.7v1.7h-1.7zM528.1 518.1h1.7v1.7h-1.7zM527.3 524.3h1.7v1.7h-1.7zM528.6 522.9h1.7v1.7h-1.7z" fill="#000"/>
<path d="M533.2 548.1h1.1v1.1h-1.1zM531.8 518.6h1.1v1.1h-1.1zM532.2 560.9h1.1v1.1h-1.1zM532.9 523.2h1.1v1.1h-1.1zM531.5 560.1h1.1v1.1h-1.1zM532 552.4h1.1v1.1h-1.1zM533.5 548.1h1.1v1.1h-1.1zM531.3 529.4h1.1v1.1h-1.1zM534.2 556.1h1.1v1.1h-1.1zM533.9 522.1h1.1v1.1h-1.1zM533.4 554.7h1.1v1.1h-1.1zM534.1 559.4h1.1v1.1h-1.1zM533.4 552.6h1.1v1.1h-1.1zM533.1 523.6h1.1v1.1h-1.1zM537 529.1h1.1v1.1h-1.1zM533.2 521.3h1.1v1.1h-1.1zM533.8 534.2h1.1v1.1h-1.1zM532 531.1h1.1v1.1h-1.1z" fill="#000"/>
<rect x="440" y="562.6" width="18" height="2.5" fill="#000"/>
<rect x="460.6" y="562.6" width="18" height="2.5" fill="#000"/>
<rect x="481.3" y="562.6" width="18" height="2.5" fill="#000"/>
<rect x="501.9" y="562.6" width="18" height="2.5" fill="#000"/>
<rect x="522.6" y="562.6" width="18" height="2.5" fill="#000"/>
<path d="M436.8 514.7V566H544.1" fill="none" stroke="#3a3a3a" stroke-width="1"/>
<path d="M436.8 563.9h-2" stroke="#3a3a3a" stroke-width="0.9"/>
<text x="432.9" y="567" font-size="7.2" font-weight="normal" fill="#111" text-anchor="end">0</text>
<path d="M436.8 547.1h-2" stroke="#3a3a3a" stroke-width="0.9"/>
<text x="432.9" y="550.2" font-size="7.2" font-weight="normal" fill="#111" text-anchor="end">2</text>
<path d="M436.8 530.3h-2" stroke="#3a3a3a" stroke-width="0.9"/>
<text x="432.9" y="533.4" font-size="7.2" font-weight="normal" fill="#111" text-anchor="end">4</text>
<path d="M449 566v2" stroke="#3a3a3a" stroke-width="0.9"/>
<text x="0" y="0" font-size="7.1" font-weight="normal" fill="#111" text-anchor="end" stroke="#111" stroke-width="0.12" transform="translate(453.6 573.5) rotate(-45)">Tenocyte A</text>
<path d="M469.6 566v2" stroke="#3a3a3a" stroke-width="0.9"/>
<text x="0" y="0" font-size="7.1" font-weight="normal" fill="#111" text-anchor="end" stroke="#111" stroke-width="0.12" transform="translate(474.2 573.5) rotate(-45)">Tenocyte B</text>
<path d="M490.3 566v2" stroke="#3a3a3a" stroke-width="0.9"/>
<text x="0" y="0" font-size="7.1" font-weight="normal" fill="#111" text-anchor="end" stroke="#111" stroke-width="0.12" transform="translate(494.9 573.5) rotate(-45)">Tenocyte C</text>
<path d="M510.9 566v2" stroke="#3a3a3a" stroke-width="0.9"/>
<text x="0" y="0" font-size="7.1" font-weight="normal" fill="#111" text-anchor="end" stroke="#111" stroke-width="0.12" transform="translate(515.5 573.5) rotate(-45)">Tenocyte D</text>
<path d="M531.6 566v2" stroke="#3a3a3a" stroke-width="0.9"/>
<text x="0" y="0" font-size="7.1" font-weight="normal" fill="#111" text-anchor="end" stroke="#111" stroke-width="0.12" transform="translate(536.2 573.5) rotate(-45)">Tenocyte E</text>
<text x="490.5" y="607.4" font-size="8" font-weight="normal" fill="#111" text-anchor="middle" stroke="#111" stroke-width="0.1">Identity</text>
<text x="0" y="0" font-size="7.8" font-weight="normal" fill="#111" text-anchor="middle" stroke="#111" stroke-width="0.1" transform="translate(424.7 541.1) rotate(-90)">Expression Level</text>
</g></svg></body></html>
